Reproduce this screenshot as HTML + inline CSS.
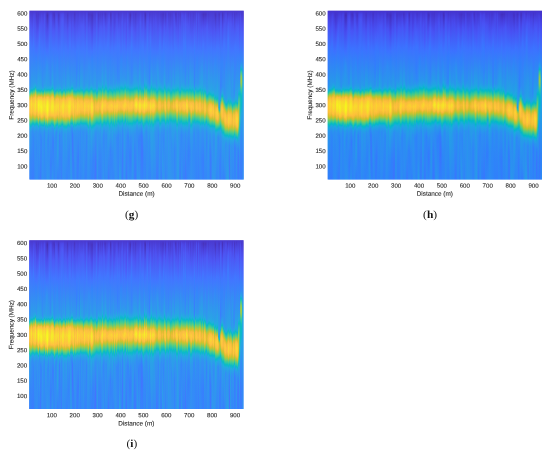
<!DOCTYPE html>
<html lang="en"><head><meta charset="utf-8"><title>Figure</title>
<style>
html,body{margin:0;padding:0;background:#fff;}
body{width:550px;height:455px;overflow:hidden;}
svg{display:block;}
text{text-rendering:geometricPrecision;}
.t{font-family:"Liberation Sans",Arial,Helvetica,sans-serif;font-size:6.1px;fill:#262626;stroke:#262626;stroke-width:.1px;}
.l{font-family:"Liberation Sans",Arial,Helvetica,sans-serif;font-size:6.4px;fill:#262626;stroke:#262626;stroke-width:.1px;}
.c{font-family:"Liberation Serif","Times New Roman",serif;font-size:10.9px;fill:#111;}
.c tspan{font-weight:bold;}
</style></head><body>
<svg width="550" height="455" viewBox="0 0 550 455">
<defs>

<linearGradient id="g0" gradientUnits="userSpaceOnUse" x1="0" y1="0" x2="0" y2="169"><stop offset=".003" stop-color="#4434d0"/><stop offset=".056" stop-color="#4746ea"/><stop offset=".139" stop-color="#465efb"/><stop offset=".240" stop-color="#3678fe"/><stop offset=".393" stop-color="#317dfc"/><stop offset=".459" stop-color="#2c90f0"/><stop offset=".470" stop-color="#22a2e4"/><stop offset=".482" stop-color="#01b9c7"/><stop offset=".494" stop-color="#3dc990"/><stop offset=".506" stop-color="#97ca48"/><stop offset=".512" stop-color="#bdc42f"/><stop offset=".518" stop-color="#d8be28"/><stop offset=".524" stop-color="#eaba31"/><stop offset=".536" stop-color="#febd3c"/><stop offset=".559" stop-color="#fec835"/><stop offset=".589" stop-color="#febf3b"/><stop offset=".601" stop-color="#f7ba3c"/><stop offset=".612" stop-color="#e6bb2d"/><stop offset=".624" stop-color="#cac129"/><stop offset=".630" stop-color="#b7c532"/><stop offset=".648" stop-color="#62cd70"/><stop offset=".672" stop-color="#03bbc2"/><stop offset=".683" stop-color="#19addc"/><stop offset=".713" stop-color="#2a92ee"/><stop offset=".814" stop-color="#2b92ee"/><stop offset=".997" stop-color="#317efb"/></linearGradient>
<linearGradient id="g1" gradientUnits="userSpaceOnUse" x1="0" y1="0" x2="0" y2="169"><stop offset=".003" stop-color="#4434d0"/><stop offset=".074" stop-color="#484df1"/><stop offset=".198" stop-color="#3c72ff"/><stop offset=".441" stop-color="#2994ec"/><stop offset=".459" stop-color="#21a3e3"/><stop offset=".470" stop-color="#05b6ce"/><stop offset=".476" stop-color="#11beb9"/><stop offset=".488" stop-color="#4dcc82"/><stop offset=".500" stop-color="#a5c83d"/><stop offset=".506" stop-color="#c7c12a"/><stop offset=".518" stop-color="#f0ba36"/><stop offset=".530" stop-color="#fec13a"/><stop offset=".553" stop-color="#fdce31"/><stop offset=".601" stop-color="#febf3b"/><stop offset=".618" stop-color="#ebba32"/><stop offset=".630" stop-color="#d0bf27"/><stop offset=".636" stop-color="#bdc32e"/><stop offset=".660" stop-color="#4acb84"/><stop offset=".678" stop-color="#0abdbd"/><stop offset=".683" stop-color="#03b7cc"/><stop offset=".695" stop-color="#1caadf"/><stop offset=".719" stop-color="#2798ea"/><stop offset=".885" stop-color="#2f80fa"/><stop offset=".997" stop-color="#2f81fa"/></linearGradient>
<linearGradient id="g2" gradientUnits="userSpaceOnUse" x1="0" y1="0" x2="0" y2="169"><stop offset=".003" stop-color="#4434ce"/><stop offset=".104" stop-color="#4852f4"/><stop offset=".222" stop-color="#3c72ff"/><stop offset=".447" stop-color="#249ee6"/><stop offset=".459" stop-color="#1da9e0"/><stop offset=".470" stop-color="#01b9c6"/><stop offset=".482" stop-color="#3cc992"/><stop offset=".494" stop-color="#9ec942"/><stop offset=".500" stop-color="#cac129"/><stop offset=".512" stop-color="#fcbc3d"/><stop offset=".530" stop-color="#f9d72d"/><stop offset=".553" stop-color="#f5e327"/><stop offset=".583" stop-color="#f8d92c"/><stop offset=".607" stop-color="#fec438"/><stop offset=".618" stop-color="#f4ba39"/><stop offset=".630" stop-color="#d0bf27"/><stop offset=".636" stop-color="#b6c532"/><stop offset=".654" stop-color="#4dcb82"/><stop offset=".672" stop-color="#02bbc3"/><stop offset=".689" stop-color="#21a3e3"/><stop offset=".719" stop-color="#2d8df2"/><stop offset=".997" stop-color="#327cfc"/></linearGradient>
<linearGradient id="g3" gradientUnits="userSpaceOnUse" x1="0" y1="0" x2="0" y2="169"><stop offset=".003" stop-color="#4434cf"/><stop offset=".115" stop-color="#4853f5"/><stop offset=".222" stop-color="#3b72ff"/><stop offset=".447" stop-color="#259ce7"/><stop offset=".459" stop-color="#1fa6e1"/><stop offset=".470" stop-color="#03b7cc"/><stop offset=".476" stop-color="#14beb8"/><stop offset=".488" stop-color="#4ccb83"/><stop offset=".500" stop-color="#a0c841"/><stop offset=".506" stop-color="#c1c32c"/><stop offset=".512" stop-color="#dabd28"/><stop offset=".524" stop-color="#f6ba3b"/><stop offset=".553" stop-color="#fec834"/><stop offset=".595" stop-color="#fcbc3d"/><stop offset=".618" stop-color="#d5be28"/><stop offset=".630" stop-color="#aac73a"/><stop offset=".648" stop-color="#49cb85"/><stop offset=".666" stop-color="#02bac4"/><stop offset=".683" stop-color="#23a1e4"/><stop offset=".713" stop-color="#2d8af5"/><stop offset=".997" stop-color="#347afd"/></linearGradient>
<linearGradient id="g4" gradientUnits="userSpaceOnUse" x1="0" y1="0" x2="0" y2="169"><stop offset=".003" stop-color="#4434d0"/><stop offset=".033" stop-color="#4744e9"/><stop offset=".080" stop-color="#4854f6"/><stop offset=".192" stop-color="#3a74fe"/><stop offset=".263" stop-color="#347afd"/><stop offset=".429" stop-color="#269ae9"/><stop offset=".453" stop-color="#1aabdd"/><stop offset=".464" stop-color="#03bbc2"/><stop offset=".476" stop-color="#39c895"/><stop offset=".494" stop-color="#afc636"/><stop offset=".500" stop-color="#cec028"/><stop offset=".512" stop-color="#f5ba3a"/><stop offset=".518" stop-color="#febe3c"/><stop offset=".553" stop-color="#fad62d"/><stop offset=".577" stop-color="#fbd32e"/><stop offset=".607" stop-color="#febf3c"/><stop offset=".618" stop-color="#ecba32"/><stop offset=".630" stop-color="#c5c22a"/><stop offset=".636" stop-color="#a8c73b"/><stop offset=".654" stop-color="#3dc991"/><stop offset=".666" stop-color="#0abdbd"/><stop offset=".672" stop-color="#06b5ce"/><stop offset=".678" stop-color="#19addc"/><stop offset=".689" stop-color="#259ce7"/><stop offset=".749" stop-color="#2f82f9"/><stop offset=".997" stop-color="#337bfc"/></linearGradient>
<linearGradient id="g5" gradientUnits="userSpaceOnUse" x1="0" y1="0" x2="0" y2="169"><stop offset=".003" stop-color="#4434cf"/><stop offset=".021" stop-color="#463de0"/><stop offset=".044" stop-color="#4742e6"/><stop offset=".157" stop-color="#475cfa"/><stop offset=".228" stop-color="#3b72ff"/><stop offset=".423" stop-color="#2797eb"/><stop offset=".453" stop-color="#19addc"/><stop offset=".459" stop-color="#07b5d0"/><stop offset=".464" stop-color="#08bcbf"/><stop offset=".476" stop-color="#3cc991"/><stop offset=".494" stop-color="#b2c635"/><stop offset=".500" stop-color="#d0bf27"/><stop offset=".512" stop-color="#f5ba3b"/><stop offset=".518" stop-color="#febe3c"/><stop offset=".559" stop-color="#f8d92c"/><stop offset=".589" stop-color="#fbd32f"/><stop offset=".612" stop-color="#febf3b"/><stop offset=".624" stop-color="#eaba31"/><stop offset=".636" stop-color="#c0c32d"/><stop offset=".654" stop-color="#55cc7b"/><stop offset=".672" stop-color="#08bcbf"/><stop offset=".678" stop-color="#06b5ce"/><stop offset=".689" stop-color="#1ea7e1"/><stop offset=".725" stop-color="#2b90f0"/><stop offset=".997" stop-color="#2e85f8"/></linearGradient>
<linearGradient id="g6" gradientUnits="userSpaceOnUse" x1="0" y1="0" x2="0" y2="169"><stop offset=".003" stop-color="#4434ce"/><stop offset=".092" stop-color="#484ff2"/><stop offset=".234" stop-color="#3d70ff"/><stop offset=".275" stop-color="#317dfc"/><stop offset=".423" stop-color="#2798ea"/><stop offset=".441" stop-color="#1da8e0"/><stop offset=".453" stop-color="#01b8c8"/><stop offset=".470" stop-color="#4fcc80"/><stop offset=".482" stop-color="#a6c83d"/><stop offset=".488" stop-color="#c9c129"/><stop offset=".500" stop-color="#f7ba3c"/><stop offset=".530" stop-color="#f7dd2a"/><stop offset=".553" stop-color="#f5e626"/><stop offset=".577" stop-color="#f6e128"/><stop offset=".612" stop-color="#febf3c"/><stop offset=".618" stop-color="#f5ba3a"/><stop offset=".630" stop-color="#cdc028"/><stop offset=".636" stop-color="#afc637"/><stop offset=".654" stop-color="#3eca90"/><stop offset=".666" stop-color="#0bbdbd"/><stop offset=".672" stop-color="#05b6ce"/><stop offset=".683" stop-color="#20a5e2"/><stop offset=".719" stop-color="#2d8cf3"/><stop offset=".997" stop-color="#2d88f6"/></linearGradient>
<linearGradient id="g7" gradientUnits="userSpaceOnUse" x1="0" y1="0" x2="0" y2="169"><stop offset=".003" stop-color="#4434ce"/><stop offset=".027" stop-color="#4331c6"/><stop offset=".115" stop-color="#484aee"/><stop offset=".240" stop-color="#3c72ff"/><stop offset=".293" stop-color="#2f81fa"/><stop offset=".435" stop-color="#2a93ee"/><stop offset=".459" stop-color="#1fa6e1"/><stop offset=".470" stop-color="#01b9c7"/><stop offset=".488" stop-color="#56cc7b"/><stop offset=".500" stop-color="#a6c83d"/><stop offset=".506" stop-color="#c4c22b"/><stop offset=".518" stop-color="#eabb30"/><stop offset=".536" stop-color="#fec03b"/><stop offset=".565" stop-color="#fec834"/><stop offset=".595" stop-color="#febd3c"/><stop offset=".612" stop-color="#e7bb2e"/><stop offset=".624" stop-color="#c6c22a"/><stop offset=".630" stop-color="#acc738"/><stop offset=".642" stop-color="#69cd6a"/><stop offset=".648" stop-color="#47cb87"/><stop offset=".666" stop-color="#01bac6"/><stop offset=".683" stop-color="#21a2e4"/><stop offset=".713" stop-color="#2c90f0"/><stop offset=".820" stop-color="#2e84f8"/><stop offset=".997" stop-color="#2d8df2"/></linearGradient>
<linearGradient id="g8" gradientUnits="userSpaceOnUse" x1="0" y1="0" x2="0" y2="169"><stop offset=".003" stop-color="#4434ce"/><stop offset=".068" stop-color="#463bde"/><stop offset=".139" stop-color="#4853f5"/><stop offset=".222" stop-color="#3e6fff"/><stop offset=".447" stop-color="#21a3e3"/><stop offset=".459" stop-color="#1da9e0"/><stop offset=".470" stop-color="#05b6ce"/><stop offset=".476" stop-color="#0dbdbc"/><stop offset=".488" stop-color="#4bcb84"/><stop offset=".500" stop-color="#afc637"/><stop offset=".506" stop-color="#d6be28"/><stop offset=".518" stop-color="#febf3b"/><stop offset=".536" stop-color="#f8d92c"/><stop offset=".553" stop-color="#f5e327"/><stop offset=".583" stop-color="#f7dc2a"/><stop offset=".612" stop-color="#fec13a"/><stop offset=".618" stop-color="#f8ba3d"/><stop offset=".624" stop-color="#eabb30"/><stop offset=".630" stop-color="#d6be28"/><stop offset=".636" stop-color="#bbc430"/><stop offset=".654" stop-color="#4ccb83"/><stop offset=".672" stop-color="#01bac5"/><stop offset=".683" stop-color="#1caadf"/><stop offset=".713" stop-color="#2b92ee"/><stop offset=".997" stop-color="#2d88f6"/></linearGradient>
<linearGradient id="g9" gradientUnits="userSpaceOnUse" x1="0" y1="0" x2="0" y2="169"><stop offset=".003" stop-color="#4434cf"/><stop offset=".021" stop-color="#4332ca"/><stop offset=".127" stop-color="#4756f7"/><stop offset=".210" stop-color="#3c71ff"/><stop offset=".441" stop-color="#22a2e4"/><stop offset=".459" stop-color="#1aacdd"/><stop offset=".470" stop-color="#01b9c7"/><stop offset=".482" stop-color="#37c897"/><stop offset=".494" stop-color="#9bc944"/><stop offset=".500" stop-color="#cdc028"/><stop offset=".506" stop-color="#f0ba36"/><stop offset=".512" stop-color="#fec338"/><stop offset=".536" stop-color="#f5ee21"/><stop offset=".559" stop-color="#f8f818"/><stop offset=".589" stop-color="#f5ec22"/><stop offset=".630" stop-color="#fbbc3d"/><stop offset=".642" stop-color="#d5be28"/><stop offset=".648" stop-color="#b8c431"/><stop offset=".666" stop-color="#46cb88"/><stop offset=".683" stop-color="#01b8c9"/><stop offset=".695" stop-color="#1ea7e1"/><stop offset=".725" stop-color="#2d8cf3"/><stop offset=".997" stop-color="#2f80fa"/></linearGradient>
<linearGradient id="g10" gradientUnits="userSpaceOnUse" x1="0" y1="0" x2="0" y2="169"><stop offset=".003" stop-color="#4434cf"/><stop offset=".086" stop-color="#4756f7"/><stop offset=".169" stop-color="#3e6fff"/><stop offset=".299" stop-color="#3080fb"/><stop offset=".453" stop-color="#22a2e4"/><stop offset=".464" stop-color="#18addb"/><stop offset=".470" stop-color="#06b5cf"/><stop offset=".476" stop-color="#0dbdbb"/><stop offset=".488" stop-color="#50cc80"/><stop offset=".500" stop-color="#b8c431"/><stop offset=".506" stop-color="#dfbc2a"/><stop offset=".512" stop-color="#f8ba3d"/><stop offset=".530" stop-color="#f8d92c"/><stop offset=".553" stop-color="#f5e924"/><stop offset=".577" stop-color="#f5e327"/><stop offset=".607" stop-color="#fec438"/><stop offset=".612" stop-color="#fbbc3d"/><stop offset=".618" stop-color="#edba33"/><stop offset=".624" stop-color="#d6be28"/><stop offset=".630" stop-color="#b8c431"/><stop offset=".648" stop-color="#3dc990"/><stop offset=".660" stop-color="#03bbc2"/><stop offset=".672" stop-color="#1ea7e1"/><stop offset=".701" stop-color="#2d8af5"/><stop offset=".843" stop-color="#2b91ef"/><stop offset=".997" stop-color="#317efb"/></linearGradient>
<linearGradient id="g11" gradientUnits="userSpaceOnUse" x1="0" y1="0" x2="0" y2="169"><stop offset=".003" stop-color="#4434cf"/><stop offset=".086" stop-color="#484ff2"/><stop offset=".246" stop-color="#3777fe"/><stop offset=".453" stop-color="#22a2e4"/><stop offset=".464" stop-color="#19acdc"/><stop offset=".470" stop-color="#09b4d1"/><stop offset=".476" stop-color="#09bcbe"/><stop offset=".488" stop-color="#4bcb84"/><stop offset=".500" stop-color="#b6c532"/><stop offset=".506" stop-color="#debc2a"/><stop offset=".512" stop-color="#f9ba3d"/><stop offset=".536" stop-color="#f5e327"/><stop offset=".565" stop-color="#f6f11f"/><stop offset=".595" stop-color="#f5e526"/><stop offset=".624" stop-color="#febf3b"/><stop offset=".630" stop-color="#f2ba37"/><stop offset=".636" stop-color="#dcbd29"/><stop offset=".642" stop-color="#bdc32e"/><stop offset=".660" stop-color="#42ca8b"/><stop offset=".672" stop-color="#0cbdbc"/><stop offset=".678" stop-color="#06b5cf"/><stop offset=".689" stop-color="#21a3e3"/><stop offset=".737" stop-color="#2e83f9"/><stop offset=".997" stop-color="#3974fe"/></linearGradient>
<linearGradient id="g12" gradientUnits="userSpaceOnUse" x1="0" y1="0" x2="0" y2="169"><stop offset=".003" stop-color="#4434cf"/><stop offset=".027" stop-color="#4741e5"/><stop offset=".062" stop-color="#484cf0"/><stop offset=".222" stop-color="#3c71ff"/><stop offset=".441" stop-color="#2698ea"/><stop offset=".459" stop-color="#1da9e0"/><stop offset=".470" stop-color="#02bac3"/><stop offset=".482" stop-color="#3eca8f"/><stop offset=".494" stop-color="#9dc943"/><stop offset=".500" stop-color="#c8c129"/><stop offset=".512" stop-color="#fbbc3d"/><stop offset=".536" stop-color="#f5e228"/><stop offset=".571" stop-color="#f6f31d"/><stop offset=".595" stop-color="#f5eb23"/><stop offset=".624" stop-color="#fec636"/><stop offset=".630" stop-color="#fabc3d"/><stop offset=".642" stop-color="#c8c129"/><stop offset=".648" stop-color="#a0c841"/><stop offset=".660" stop-color="#45cb89"/><stop offset=".672" stop-color="#0cbdbc"/><stop offset=".678" stop-color="#06b5cf"/><stop offset=".683" stop-color="#19acdc"/><stop offset=".695" stop-color="#259ce7"/><stop offset=".766" stop-color="#2f81fa"/><stop offset=".997" stop-color="#2d8af5"/></linearGradient>
<linearGradient id="g13" gradientUnits="userSpaceOnUse" x1="0" y1="0" x2="0" y2="169"><stop offset=".003" stop-color="#4434cf"/><stop offset=".074" stop-color="#484aee"/><stop offset=".228" stop-color="#3b72ff"/><stop offset=".317" stop-color="#2e83f9"/><stop offset=".447" stop-color="#2d8df2"/><stop offset=".464" stop-color="#23a0e5"/><stop offset=".470" stop-color="#1aacdd"/><stop offset=".476" stop-color="#02b7cb"/><stop offset=".488" stop-color="#39c994"/><stop offset=".506" stop-color="#c1c32c"/><stop offset=".512" stop-color="#dfbc2a"/><stop offset=".518" stop-color="#f4ba39"/><stop offset=".524" stop-color="#febf3b"/><stop offset=".541" stop-color="#fad62d"/><stop offset=".571" stop-color="#f5e228"/><stop offset=".589" stop-color="#f6de29"/><stop offset=".618" stop-color="#fec338"/><stop offset=".624" stop-color="#fbbc3d"/><stop offset=".630" stop-color="#ecba32"/><stop offset=".636" stop-color="#d6be28"/><stop offset=".642" stop-color="#b9c431"/><stop offset=".660" stop-color="#44cb89"/><stop offset=".678" stop-color="#01b8c9"/><stop offset=".689" stop-color="#1ca9df"/><stop offset=".725" stop-color="#2994ed"/><stop offset=".997" stop-color="#2d8df2"/></linearGradient>
<linearGradient id="g14" gradientUnits="userSpaceOnUse" x1="0" y1="0" x2="0" y2="169"><stop offset=".003" stop-color="#4434cf"/><stop offset=".033" stop-color="#473ee2"/><stop offset=".092" stop-color="#484ff2"/><stop offset=".240" stop-color="#3b72ff"/><stop offset=".453" stop-color="#259ce7"/><stop offset=".464" stop-color="#1ea8e1"/><stop offset=".476" stop-color="#01b9c6"/><stop offset=".488" stop-color="#3dc990"/><stop offset=".500" stop-color="#9fc941"/><stop offset=".506" stop-color="#c9c129"/><stop offset=".518" stop-color="#fabb3d"/><stop offset=".536" stop-color="#fbd32e"/><stop offset=".559" stop-color="#f6df29"/><stop offset=".589" stop-color="#f9d72d"/><stop offset=".612" stop-color="#fec239"/><stop offset=".624" stop-color="#f0ba36"/><stop offset=".636" stop-color="#c9c129"/><stop offset=".642" stop-color="#acc739"/><stop offset=".660" stop-color="#3fca8e"/><stop offset=".678" stop-color="#02b7cb"/><stop offset=".689" stop-color="#1ea7e1"/><stop offset=".713" stop-color="#2c90f0"/><stop offset=".749" stop-color="#2d88f6"/><stop offset=".997" stop-color="#2d89f5"/></linearGradient>
<linearGradient id="g15" gradientUnits="userSpaceOnUse" x1="0" y1="0" x2="0" y2="169"><stop offset=".003" stop-color="#4435d0"/><stop offset=".021" stop-color="#4744e8"/><stop offset=".050" stop-color="#484df1"/><stop offset=".246" stop-color="#3777fe"/><stop offset=".429" stop-color="#2995ec"/><stop offset=".453" stop-color="#1caadf"/><stop offset=".464" stop-color="#05bbc1"/><stop offset=".476" stop-color="#3fca8e"/><stop offset=".488" stop-color="#98c946"/><stop offset=".494" stop-color="#c0c32d"/><stop offset=".500" stop-color="#debc2a"/><stop offset=".506" stop-color="#f3ba39"/><stop offset=".512" stop-color="#febf3b"/><stop offset=".536" stop-color="#f7db2a"/><stop offset=".559" stop-color="#f5e427"/><stop offset=".589" stop-color="#f9d82c"/><stop offset=".612" stop-color="#febe3c"/><stop offset=".630" stop-color="#cbc129"/><stop offset=".636" stop-color="#abc739"/><stop offset=".648" stop-color="#5bcc76"/><stop offset=".666" stop-color="#03bbc2"/><stop offset=".683" stop-color="#249fe5"/><stop offset=".719" stop-color="#2e85f8"/><stop offset=".997" stop-color="#2e87f7"/></linearGradient>
<linearGradient id="g16" gradientUnits="userSpaceOnUse" x1="0" y1="0" x2="0" y2="169"><stop offset=".003" stop-color="#4434cf"/><stop offset=".133" stop-color="#4850f3"/><stop offset=".234" stop-color="#3d70ff"/><stop offset=".299" stop-color="#2e83f9"/><stop offset=".447" stop-color="#259de7"/><stop offset=".464" stop-color="#17aedb"/><stop offset=".470" stop-color="#04b6cd"/><stop offset=".476" stop-color="#0fbeba"/><stop offset=".488" stop-color="#47cb87"/><stop offset=".500" stop-color="#9fc941"/><stop offset=".506" stop-color="#c4c22a"/><stop offset=".512" stop-color="#e0bc2a"/><stop offset=".524" stop-color="#febe3c"/><stop offset=".565" stop-color="#f6df29"/><stop offset=".595" stop-color="#f8da2b"/><stop offset=".624" stop-color="#fec13a"/><stop offset=".630" stop-color="#f9bb3d"/><stop offset=".636" stop-color="#eaba31"/><stop offset=".642" stop-color="#d7be28"/><stop offset=".648" stop-color="#bcc42f"/><stop offset=".666" stop-color="#4fcc80"/><stop offset=".683" stop-color="#05bbc1"/><stop offset=".695" stop-color="#17aeda"/><stop offset=".719" stop-color="#259be8"/><stop offset=".997" stop-color="#2e85f8"/></linearGradient>
<linearGradient id="g17" gradientUnits="userSpaceOnUse" x1="0" y1="0" x2="0" y2="169"><stop offset=".003" stop-color="#4434ce"/><stop offset=".027" stop-color="#422fc0"/><stop offset=".104" stop-color="#4745ea"/><stop offset=".240" stop-color="#3d70ff"/><stop offset=".328" stop-color="#2c8ff1"/><stop offset=".441" stop-color="#249ee6"/><stop offset=".459" stop-color="#18addb"/><stop offset=".464" stop-color="#06b5cf"/><stop offset=".470" stop-color="#0bbdbd"/><stop offset=".482" stop-color="#46cb88"/><stop offset=".494" stop-color="#a5c83d"/><stop offset=".500" stop-color="#cec028"/><stop offset=".512" stop-color="#febd3c"/><stop offset=".536" stop-color="#f5e427"/><stop offset=".565" stop-color="#f7f41c"/><stop offset=".595" stop-color="#f5ed22"/><stop offset=".624" stop-color="#fec736"/><stop offset=".630" stop-color="#fbbc3d"/><stop offset=".642" stop-color="#c6c22a"/><stop offset=".648" stop-color="#9cc943"/><stop offset=".660" stop-color="#41ca8c"/><stop offset=".672" stop-color="#0abdbd"/><stop offset=".678" stop-color="#06b5cf"/><stop offset=".689" stop-color="#1ea7e1"/><stop offset=".719" stop-color="#2798ea"/><stop offset=".867" stop-color="#2d8bf3"/><stop offset=".997" stop-color="#2c8ff0"/></linearGradient>
<linearGradient id="g18" gradientUnits="userSpaceOnUse" x1="0" y1="0" x2="0" y2="169"><stop offset=".003" stop-color="#4433cd"/><stop offset=".027" stop-color="#3f28ad"/><stop offset=".121" stop-color="#4849ed"/><stop offset=".240" stop-color="#3d70ff"/><stop offset=".328" stop-color="#2c8ef1"/><stop offset=".441" stop-color="#2798ea"/><stop offset=".459" stop-color="#1da8e0"/><stop offset=".470" stop-color="#02bac5"/><stop offset=".482" stop-color="#3cc991"/><stop offset=".494" stop-color="#9ec943"/><stop offset=".500" stop-color="#cac129"/><stop offset=".512" stop-color="#febe3c"/><stop offset=".530" stop-color="#f5e128"/><stop offset=".547" stop-color="#f7f41c"/><stop offset=".589" stop-color="#f9fb15"/><stop offset=".618" stop-color="#f5e526"/><stop offset=".642" stop-color="#f9bb3d"/><stop offset=".648" stop-color="#e3bc2c"/><stop offset=".654" stop-color="#c4c22b"/><stop offset=".672" stop-color="#43ca8a"/><stop offset=".683" stop-color="#0dbdbb"/><stop offset=".689" stop-color="#05b6cd"/><stop offset=".695" stop-color="#18aedb"/><stop offset=".707" stop-color="#249ee6"/><stop offset=".766" stop-color="#2e84f8"/><stop offset=".997" stop-color="#2a93ee"/></linearGradient>
<linearGradient id="g19" gradientUnits="userSpaceOnUse" x1="0" y1="0" x2="0" y2="169"><stop offset=".003" stop-color="#4434ce"/><stop offset=".115" stop-color="#4851f4"/><stop offset=".234" stop-color="#3c72ff"/><stop offset=".441" stop-color="#259ce7"/><stop offset=".459" stop-color="#16afd9"/><stop offset=".464" stop-color="#03b7cb"/><stop offset=".470" stop-color="#13beb9"/><stop offset=".482" stop-color="#4acb85"/><stop offset=".494" stop-color="#a2c83f"/><stop offset=".500" stop-color="#c7c129"/><stop offset=".512" stop-color="#f7ba3c"/><stop offset=".536" stop-color="#f9d72c"/><stop offset=".559" stop-color="#f5e427"/><stop offset=".589" stop-color="#f7dd2a"/><stop offset=".618" stop-color="#febf3c"/><stop offset=".624" stop-color="#f4ba39"/><stop offset=".636" stop-color="#c9c129"/><stop offset=".642" stop-color="#a9c73b"/><stop offset=".654" stop-color="#57cc7a"/><stop offset=".672" stop-color="#02bac5"/><stop offset=".689" stop-color="#249fe6"/><stop offset=".707" stop-color="#2d8df2"/><stop offset=".737" stop-color="#2e84f8"/><stop offset=".997" stop-color="#2c8ef2"/></linearGradient>
<linearGradient id="g20" gradientUnits="userSpaceOnUse" x1="0" y1="0" x2="0" y2="169"><stop offset=".003" stop-color="#4434d0"/><stop offset=".033" stop-color="#4742e6"/><stop offset=".074" stop-color="#484ff2"/><stop offset=".204" stop-color="#3c72ff"/><stop offset=".435" stop-color="#2a93ed"/><stop offset=".459" stop-color="#1fa6e2"/><stop offset=".470" stop-color="#01b8c9"/><stop offset=".488" stop-color="#52cc7e"/><stop offset=".500" stop-color="#a7c73c"/><stop offset=".506" stop-color="#c7c129"/><stop offset=".512" stop-color="#e0bc2a"/><stop offset=".524" stop-color="#fcbc3d"/><stop offset=".559" stop-color="#fbd42e"/><stop offset=".612" stop-color="#febf3b"/><stop offset=".618" stop-color="#f9bb3d"/><stop offset=".630" stop-color="#e1bc2b"/><stop offset=".642" stop-color="#b5c533"/><stop offset=".660" stop-color="#50cc80"/><stop offset=".678" stop-color="#07bcc0"/><stop offset=".683" stop-color="#06b5ce"/><stop offset=".695" stop-color="#1ea8e0"/><stop offset=".725" stop-color="#2797eb"/><stop offset=".896" stop-color="#2d88f6"/><stop offset=".997" stop-color="#2d8bf4"/></linearGradient>
<linearGradient id="g21" gradientUnits="userSpaceOnUse" x1="0" y1="0" x2="0" y2="169"><stop offset=".003" stop-color="#4435d0"/><stop offset=".027" stop-color="#4847ec"/><stop offset=".062" stop-color="#4853f5"/><stop offset=".269" stop-color="#337bfd"/><stop offset=".429" stop-color="#2d8af4"/><stop offset=".459" stop-color="#1caadf"/><stop offset=".464" stop-color="#09b4d1"/><stop offset=".470" stop-color="#09bdbe"/><stop offset=".482" stop-color="#40ca8d"/><stop offset=".500" stop-color="#b2c534"/><stop offset=".506" stop-color="#cfc028"/><stop offset=".518" stop-color="#f3ba38"/><stop offset=".530" stop-color="#fec339"/><stop offset=".571" stop-color="#f8d92c"/><stop offset=".595" stop-color="#fbd32f"/><stop offset=".618" stop-color="#febd3c"/><stop offset=".636" stop-color="#cec028"/><stop offset=".642" stop-color="#b1c635"/><stop offset=".660" stop-color="#40ca8d"/><stop offset=".672" stop-color="#0ebdbb"/><stop offset=".678" stop-color="#04b6cd"/><stop offset=".689" stop-color="#1fa6e2"/><stop offset=".719" stop-color="#2c8ff0"/><stop offset=".914" stop-color="#3479fd"/><stop offset=".997" stop-color="#3080fb"/></linearGradient>
<linearGradient id="g22" gradientUnits="userSpaceOnUse" x1="0" y1="0" x2="0" y2="169"><stop offset=".003" stop-color="#4434d0"/><stop offset=".027" stop-color="#4740e4"/><stop offset=".068" stop-color="#484ff2"/><stop offset=".222" stop-color="#3b72ff"/><stop offset=".441" stop-color="#249ee6"/><stop offset=".453" stop-color="#1baade"/><stop offset=".464" stop-color="#02bac5"/><stop offset=".482" stop-color="#5acc77"/><stop offset=".494" stop-color="#b3c534"/><stop offset=".500" stop-color="#d5be28"/><stop offset=".512" stop-color="#fdbd3d"/><stop offset=".536" stop-color="#f6de29"/><stop offset=".565" stop-color="#f5ec22"/><stop offset=".589" stop-color="#f5e626"/><stop offset=".618" stop-color="#fec239"/><stop offset=".624" stop-color="#f5ba3b"/><stop offset=".630" stop-color="#dfbc2a"/><stop offset=".636" stop-color="#c0c32d"/><stop offset=".654" stop-color="#3eca90"/><stop offset=".666" stop-color="#06bcc0"/><stop offset=".678" stop-color="#1babde"/><stop offset=".719" stop-color="#2b90f0"/><stop offset=".896" stop-color="#2f80fa"/><stop offset=".997" stop-color="#2d89f5"/></linearGradient>
<linearGradient id="g23" gradientUnits="userSpaceOnUse" x1="0" y1="0" x2="0" y2="169"><stop offset=".003" stop-color="#4434ce"/><stop offset=".021" stop-color="#4433cc"/><stop offset=".121" stop-color="#4854f6"/><stop offset=".228" stop-color="#3b72ff"/><stop offset=".429" stop-color="#20a5e3"/><stop offset=".447" stop-color="#18aedb"/><stop offset=".459" stop-color="#01b9c8"/><stop offset=".476" stop-color="#44cb8a"/><stop offset=".494" stop-color="#c1c32c"/><stop offset=".500" stop-color="#dfbc2a"/><stop offset=".506" stop-color="#f5ba3a"/><stop offset=".512" stop-color="#fec13a"/><stop offset=".530" stop-color="#f7db2b"/><stop offset=".559" stop-color="#f5eb23"/><stop offset=".589" stop-color="#f5e327"/><stop offset=".618" stop-color="#fec03a"/><stop offset=".624" stop-color="#f5ba3a"/><stop offset=".636" stop-color="#c6c22a"/><stop offset=".642" stop-color="#a1c840"/><stop offset=".654" stop-color="#4bcb84"/><stop offset=".672" stop-color="#02b7cb"/><stop offset=".683" stop-color="#20a5e2"/><stop offset=".701" stop-color="#2b91ef"/><stop offset=".778" stop-color="#3678fd"/><stop offset=".997" stop-color="#2895ec"/></linearGradient>
<linearGradient id="g24" gradientUnits="userSpaceOnUse" x1="0" y1="0" x2="0" y2="169"><stop offset=".003" stop-color="#4434ce"/><stop offset=".021" stop-color="#4230c4"/><stop offset=".062" stop-color="#473fe2"/><stop offset=".115" stop-color="#4854f6"/><stop offset=".222" stop-color="#3c71ff"/><stop offset=".435" stop-color="#2a93ee"/><stop offset=".459" stop-color="#1ea8e1"/><stop offset=".470" stop-color="#01bac5"/><stop offset=".482" stop-color="#38c896"/><stop offset=".500" stop-color="#b4c534"/><stop offset=".506" stop-color="#d4bf28"/><stop offset=".518" stop-color="#fbbc3d"/><stop offset=".541" stop-color="#f9d82c"/><stop offset=".565" stop-color="#f5e327"/><stop offset=".595" stop-color="#f7db2b"/><stop offset=".618" stop-color="#fec438"/><stop offset=".630" stop-color="#eeba34"/><stop offset=".636" stop-color="#dbbd28"/><stop offset=".642" stop-color="#c0c32d"/><stop offset=".660" stop-color="#4dcc82"/><stop offset=".678" stop-color="#01b8c8"/><stop offset=".689" stop-color="#1fa6e1"/><stop offset=".707" stop-color="#2b90ef"/><stop offset=".772" stop-color="#317dfc"/><stop offset=".997" stop-color="#2e85f8"/></linearGradient>
<linearGradient id="g25" gradientUnits="userSpaceOnUse" x1="0" y1="0" x2="0" y2="169"><stop offset=".003" stop-color="#4434cf"/><stop offset=".027" stop-color="#422fc1"/><stop offset=".121" stop-color="#4853f5"/><stop offset=".228" stop-color="#3c72ff"/><stop offset=".305" stop-color="#2e83f9"/><stop offset=".459" stop-color="#2b91ef"/><stop offset=".476" stop-color="#20a4e3"/><stop offset=".488" stop-color="#01b9c7"/><stop offset=".500" stop-color="#3ac993"/><stop offset=".518" stop-color="#b5c533"/><stop offset=".524" stop-color="#d1bf27"/><stop offset=".536" stop-color="#f4ba39"/><stop offset=".571" stop-color="#fdce31"/><stop offset=".618" stop-color="#fec03a"/><stop offset=".630" stop-color="#f5ba3a"/><stop offset=".648" stop-color="#c8c129"/><stop offset=".660" stop-color="#91ca4c"/><stop offset=".678" stop-color="#36c898"/><stop offset=".689" stop-color="#0cbdbc"/><stop offset=".695" stop-color="#02b7cb"/><stop offset=".707" stop-color="#1babde"/><stop offset=".743" stop-color="#2798ea"/><stop offset=".997" stop-color="#2f81fa"/></linearGradient>
<linearGradient id="g26" gradientUnits="userSpaceOnUse" x1="0" y1="0" x2="0" y2="169"><stop offset=".003" stop-color="#4434d0"/><stop offset=".021" stop-color="#4740e4"/><stop offset=".062" stop-color="#484df1"/><stop offset=".222" stop-color="#3b72ff"/><stop offset=".441" stop-color="#2896ec"/><stop offset=".464" stop-color="#1baade"/><stop offset=".476" stop-color="#04bbc2"/><stop offset=".488" stop-color="#3cc991"/><stop offset=".506" stop-color="#b8c431"/><stop offset=".512" stop-color="#d6be28"/><stop offset=".524" stop-color="#fabb3d"/><stop offset=".565" stop-color="#f8d92b"/><stop offset=".589" stop-color="#fad52d"/><stop offset=".618" stop-color="#febe3c"/><stop offset=".630" stop-color="#e8bb2f"/><stop offset=".642" stop-color="#bdc32e"/><stop offset=".660" stop-color="#52cc7e"/><stop offset=".678" stop-color="#02bbc3"/><stop offset=".695" stop-color="#23a1e4"/><stop offset=".719" stop-color="#2d8af4"/><stop offset=".749" stop-color="#2e83f9"/><stop offset=".997" stop-color="#2d8cf3"/></linearGradient>
<linearGradient id="g27" gradientUnits="userSpaceOnUse" x1="0" y1="0" x2="0" y2="169"><stop offset=".003" stop-color="#4434cf"/><stop offset=".038" stop-color="#4745e9"/><stop offset=".080" stop-color="#4853f5"/><stop offset=".228" stop-color="#3c71ff"/><stop offset=".328" stop-color="#2d8af5"/><stop offset=".435" stop-color="#2995ec"/><stop offset=".459" stop-color="#20a4e3"/><stop offset=".470" stop-color="#05b6ce"/><stop offset=".476" stop-color="#0fbebb"/><stop offset=".488" stop-color="#48cb86"/><stop offset=".500" stop-color="#a0c841"/><stop offset=".506" stop-color="#c5c22a"/><stop offset=".512" stop-color="#e0bc2a"/><stop offset=".524" stop-color="#febe3c"/><stop offset=".559" stop-color="#f8db2b"/><stop offset=".583" stop-color="#f9d82c"/><stop offset=".612" stop-color="#fec239"/><stop offset=".624" stop-color="#efba35"/><stop offset=".636" stop-color="#c9c129"/><stop offset=".642" stop-color="#abc739"/><stop offset=".654" stop-color="#60cd72"/><stop offset=".672" stop-color="#0abdbd"/><stop offset=".678" stop-color="#07b5cf"/><stop offset=".683" stop-color="#1aacdd"/><stop offset=".719" stop-color="#2d88f6"/><stop offset=".873" stop-color="#2c8ff1"/><stop offset=".997" stop-color="#2d87f6"/></linearGradient>
<linearGradient id="g28" gradientUnits="userSpaceOnUse" x1="0" y1="0" x2="0" y2="169"><stop offset=".003" stop-color="#4434cf"/><stop offset=".092" stop-color="#4850f3"/><stop offset=".228" stop-color="#3d71ff"/><stop offset=".299" stop-color="#2e83f9"/><stop offset=".435" stop-color="#2699e9"/><stop offset=".459" stop-color="#19acdc"/><stop offset=".470" stop-color="#07bcc0"/><stop offset=".482" stop-color="#3dc990"/><stop offset=".500" stop-color="#b5c533"/><stop offset=".506" stop-color="#d3bf27"/><stop offset=".518" stop-color="#f7ba3c"/><stop offset=".565" stop-color="#f9d72d"/><stop offset=".612" stop-color="#fcbc3d"/><stop offset=".630" stop-color="#cdc028"/><stop offset=".636" stop-color="#b0c636"/><stop offset=".654" stop-color="#3fca8e"/><stop offset=".666" stop-color="#0ebdbb"/><stop offset=".672" stop-color="#03b7cc"/><stop offset=".683" stop-color="#1da8e0"/><stop offset=".707" stop-color="#2699e9"/><stop offset=".843" stop-color="#249ee6"/><stop offset=".997" stop-color="#3579fd"/></linearGradient>
<linearGradient id="g29" gradientUnits="userSpaceOnUse" x1="0" y1="0" x2="0" y2="169"><stop offset=".003" stop-color="#4434ce"/><stop offset=".027" stop-color="#422ebf"/><stop offset=".115" stop-color="#484df1"/><stop offset=".234" stop-color="#3c71ff"/><stop offset=".453" stop-color="#269ae9"/><stop offset=".470" stop-color="#17aeda"/><stop offset=".476" stop-color="#01b8ca"/><stop offset=".488" stop-color="#35c79a"/><stop offset=".506" stop-color="#b8c431"/><stop offset=".512" stop-color="#d9bd28"/><stop offset=".524" stop-color="#febd3c"/><stop offset=".559" stop-color="#f7dc2a"/><stop offset=".589" stop-color="#f9d72d"/><stop offset=".618" stop-color="#fec239"/><stop offset=".630" stop-color="#f2ba38"/><stop offset=".642" stop-color="#d1bf27"/><stop offset=".648" stop-color="#b8c431"/><stop offset=".672" stop-color="#37c897"/><stop offset=".683" stop-color="#0abdbd"/><stop offset=".689" stop-color="#04b6cc"/><stop offset=".701" stop-color="#1da9e0"/><stop offset=".737" stop-color="#2995ec"/><stop offset=".997" stop-color="#2f82fa"/></linearGradient>
<linearGradient id="g30" gradientUnits="userSpaceOnUse" x1="0" y1="0" x2="0" y2="169"><stop offset=".003" stop-color="#4434d0"/><stop offset=".074" stop-color="#4848ec"/><stop offset=".222" stop-color="#3c71ff"/><stop offset=".423" stop-color="#2d8df2"/><stop offset=".459" stop-color="#1aacdd"/><stop offset=".464" stop-color="#08b4d1"/><stop offset=".470" stop-color="#06bcc0"/><stop offset=".488" stop-color="#54cc7c"/><stop offset=".506" stop-color="#b5c533"/><stop offset=".518" stop-color="#dbbd29"/><stop offset=".536" stop-color="#f7ba3c"/><stop offset=".547" stop-color="#febd3c"/><stop offset=".589" stop-color="#febd3c"/><stop offset=".618" stop-color="#e5bb2d"/><stop offset=".636" stop-color="#bcc42f"/><stop offset=".660" stop-color="#50cc7f"/><stop offset=".678" stop-color="#09bcbe"/><stop offset=".683" stop-color="#07b5cf"/><stop offset=".689" stop-color="#1aacdd"/><stop offset=".707" stop-color="#2c8ff1"/><stop offset=".737" stop-color="#3776fe"/><stop offset=".997" stop-color="#2e85f8"/></linearGradient>
<linearGradient id="g31" gradientUnits="userSpaceOnUse" x1="0" y1="0" x2="0" y2="169"><stop offset=".003" stop-color="#4434d0"/><stop offset=".021" stop-color="#4742e6"/><stop offset=".068" stop-color="#4850f3"/><stop offset=".228" stop-color="#3d71ff"/><stop offset=".293" stop-color="#2f81fa"/><stop offset=".441" stop-color="#2798ea"/><stop offset=".459" stop-color="#1ea7e1"/><stop offset=".470" stop-color="#02b7ca"/><stop offset=".488" stop-color="#4dcc82"/><stop offset=".500" stop-color="#a4c83e"/><stop offset=".506" stop-color="#c7c12a"/><stop offset=".512" stop-color="#e1bc2b"/><stop offset=".524" stop-color="#febd3c"/><stop offset=".565" stop-color="#f8da2b"/><stop offset=".589" stop-color="#f9d62d"/><stop offset=".618" stop-color="#fec03a"/><stop offset=".630" stop-color="#eeba34"/><stop offset=".642" stop-color="#c7c12a"/><stop offset=".648" stop-color="#a9c73a"/><stop offset=".666" stop-color="#3dc990"/><stop offset=".678" stop-color="#0ebdbb"/><stop offset=".683" stop-color="#03b7cc"/><stop offset=".689" stop-color="#15afd9"/><stop offset=".701" stop-color="#23a1e4"/><stop offset=".737" stop-color="#2b92ef"/><stop offset=".873" stop-color="#2e83f9"/><stop offset=".997" stop-color="#2e86f7"/></linearGradient>
<linearGradient id="g32" gradientUnits="userSpaceOnUse" x1="0" y1="0" x2="0" y2="169"><stop offset=".003" stop-color="#4434d0"/><stop offset=".021" stop-color="#4743e7"/><stop offset=".050" stop-color="#4850f3"/><stop offset=".204" stop-color="#3c72ff"/><stop offset=".453" stop-color="#2a93ed"/><stop offset=".470" stop-color="#20a5e2"/><stop offset=".482" stop-color="#01b9c7"/><stop offset=".494" stop-color="#3ac993"/><stop offset=".512" stop-color="#bdc32f"/><stop offset=".518" stop-color="#dbbd28"/><stop offset=".530" stop-color="#fcbc3d"/><stop offset=".565" stop-color="#fad62d"/><stop offset=".612" stop-color="#febe3c"/><stop offset=".630" stop-color="#d8be28"/><stop offset=".636" stop-color="#bfc32d"/><stop offset=".642" stop-color="#a0c841"/><stop offset=".654" stop-color="#53cc7d"/><stop offset=".672" stop-color="#02bac5"/><stop offset=".689" stop-color="#249fe6"/><stop offset=".719" stop-color="#2d88f6"/><stop offset=".997" stop-color="#3579fd"/></linearGradient>
<linearGradient id="g33" gradientUnits="userSpaceOnUse" x1="0" y1="0" x2="0" y2="169"><stop offset=".003" stop-color="#4434d0"/><stop offset=".021" stop-color="#4745e9"/><stop offset=".056" stop-color="#4854f6"/><stop offset=".234" stop-color="#3b72ff"/><stop offset=".459" stop-color="#249fe6"/><stop offset=".470" stop-color="#19addc"/><stop offset=".476" stop-color="#05b6ce"/><stop offset=".482" stop-color="#11beb9"/><stop offset=".494" stop-color="#51cc7f"/><stop offset=".506" stop-color="#b1c635"/><stop offset=".512" stop-color="#d6be28"/><stop offset=".524" stop-color="#febe3c"/><stop offset=".547" stop-color="#f7dd2a"/><stop offset=".571" stop-color="#f5e626"/><stop offset=".601" stop-color="#f8da2b"/><stop offset=".618" stop-color="#fec438"/><stop offset=".624" stop-color="#fabb3d"/><stop offset=".636" stop-color="#cfc028"/><stop offset=".642" stop-color="#acc739"/><stop offset=".654" stop-color="#56cc7b"/><stop offset=".672" stop-color="#02bac3"/><stop offset=".689" stop-color="#1fa6e2"/><stop offset=".719" stop-color="#2797eb"/><stop offset=".796" stop-color="#2d8cf3"/><stop offset=".997" stop-color="#2c8ef1"/></linearGradient>
<linearGradient id="g34" gradientUnits="userSpaceOnUse" x1="0" y1="0" x2="0" y2="169"><stop offset=".003" stop-color="#4434cf"/><stop offset=".021" stop-color="#4742e6"/><stop offset=".068" stop-color="#484ff2"/><stop offset=".240" stop-color="#3678fe"/><stop offset=".435" stop-color="#2797eb"/><stop offset=".459" stop-color="#1caadf"/><stop offset=".470" stop-color="#02bac4"/><stop offset=".482" stop-color="#3ac994"/><stop offset=".500" stop-color="#b8c431"/><stop offset=".506" stop-color="#d8be28"/><stop offset=".518" stop-color="#fdbd3d"/><stop offset=".536" stop-color="#fad42e"/><stop offset=".559" stop-color="#f5e228"/><stop offset=".595" stop-color="#f8da2b"/><stop offset=".624" stop-color="#febe3c"/><stop offset=".642" stop-color="#cfc028"/><stop offset=".648" stop-color="#b3c534"/><stop offset=".666" stop-color="#49cb85"/><stop offset=".683" stop-color="#05bbc1"/><stop offset=".695" stop-color="#15afd9"/><stop offset=".719" stop-color="#249ee6"/><stop offset=".997" stop-color="#2e87f7"/></linearGradient>
<linearGradient id="g35" gradientUnits="userSpaceOnUse" x1="0" y1="0" x2="0" y2="169"><stop offset=".003" stop-color="#4434ce"/><stop offset=".121" stop-color="#4756f7"/><stop offset=".222" stop-color="#3c71ff"/><stop offset=".441" stop-color="#249fe6"/><stop offset=".459" stop-color="#1aabdd"/><stop offset=".470" stop-color="#01bac5"/><stop offset=".488" stop-color="#51cc7f"/><stop offset=".506" stop-color="#c3c22b"/><stop offset=".512" stop-color="#dcbd29"/><stop offset=".524" stop-color="#f9bb3d"/><stop offset=".559" stop-color="#fcd12f"/><stop offset=".612" stop-color="#febe3c"/><stop offset=".624" stop-color="#f1ba37"/><stop offset=".636" stop-color="#d6be28"/><stop offset=".642" stop-color="#c2c22c"/><stop offset=".660" stop-color="#6acd6a"/><stop offset=".683" stop-color="#06bcc0"/><stop offset=".689" stop-color="#06b5cf"/><stop offset=".701" stop-color="#1fa6e1"/><stop offset=".731" stop-color="#2b91ef"/><stop offset=".997" stop-color="#2d89f6"/></linearGradient>
<linearGradient id="g36" gradientUnits="userSpaceOnUse" x1="0" y1="0" x2="0" y2="169"><stop offset=".003" stop-color="#4434cf"/><stop offset=".086" stop-color="#484ff2"/><stop offset=".222" stop-color="#3c72ff"/><stop offset=".441" stop-color="#2c8ef2"/><stop offset=".470" stop-color="#1ea8e1"/><stop offset=".482" stop-color="#05bbc1"/><stop offset=".494" stop-color="#41ca8d"/><stop offset=".512" stop-color="#bec32e"/><stop offset=".518" stop-color="#d9bd28"/><stop offset=".530" stop-color="#fabb3d"/><stop offset=".571" stop-color="#fad52d"/><stop offset=".618" stop-color="#fec239"/><stop offset=".630" stop-color="#f4ba39"/><stop offset=".642" stop-color="#d4bf28"/><stop offset=".648" stop-color="#bbc42f"/><stop offset=".666" stop-color="#54cc7d"/><stop offset=".683" stop-color="#08bcbf"/><stop offset=".689" stop-color="#06b5ce"/><stop offset=".701" stop-color="#1ea6e1"/><stop offset=".731" stop-color="#2a93ee"/><stop offset=".997" stop-color="#2e85f8"/></linearGradient>
<linearGradient id="g37" gradientUnits="userSpaceOnUse" x1="0" y1="0" x2="0" y2="169"><stop offset=".003" stop-color="#4434ce"/><stop offset=".115" stop-color="#4853f5"/><stop offset=".228" stop-color="#3b72ff"/><stop offset=".441" stop-color="#23a0e5"/><stop offset=".459" stop-color="#14b0d8"/><stop offset=".464" stop-color="#02b7cb"/><stop offset=".470" stop-color="#11beb9"/><stop offset=".482" stop-color="#45cb89"/><stop offset=".500" stop-color="#bec32e"/><stop offset=".506" stop-color="#dabd28"/><stop offset=".518" stop-color="#fbbc3d"/><stop offset=".559" stop-color="#f9d72c"/><stop offset=".612" stop-color="#fec03b"/><stop offset=".624" stop-color="#f2ba38"/><stop offset=".636" stop-color="#d6be28"/><stop offset=".642" stop-color="#c2c32c"/><stop offset=".648" stop-color="#a8c73b"/><stop offset=".666" stop-color="#47cb87"/><stop offset=".683" stop-color="#06bcc0"/><stop offset=".689" stop-color="#05b6ce"/><stop offset=".701" stop-color="#1ca9df"/><stop offset=".719" stop-color="#259de7"/><stop offset=".997" stop-color="#3080fb"/></linearGradient>
<linearGradient id="g38" gradientUnits="userSpaceOnUse" x1="0" y1="0" x2="0" y2="169"><stop offset=".003" stop-color="#4434ce"/><stop offset=".027" stop-color="#422fc2"/><stop offset=".121" stop-color="#484ff2"/><stop offset=".234" stop-color="#3d71ff"/><stop offset=".447" stop-color="#22a1e4"/><stop offset=".459" stop-color="#1ca9df"/><stop offset=".470" stop-color="#02b7cb"/><stop offset=".488" stop-color="#4acb85"/><stop offset=".500" stop-color="#a1c840"/><stop offset=".506" stop-color="#c6c22a"/><stop offset=".518" stop-color="#f3ba38"/><stop offset=".524" stop-color="#febe3c"/><stop offset=".565" stop-color="#f8da2b"/><stop offset=".612" stop-color="#fec338"/><stop offset=".624" stop-color="#f3ba39"/><stop offset=".636" stop-color="#d0bf27"/><stop offset=".642" stop-color="#b5c533"/><stop offset=".660" stop-color="#49cb86"/><stop offset=".678" stop-color="#01b9c7"/><stop offset=".695" stop-color="#23a0e5"/><stop offset=".731" stop-color="#2d8af4"/><stop offset=".997" stop-color="#2f82f9"/></linearGradient>
<linearGradient id="g39" gradientUnits="userSpaceOnUse" x1="0" y1="0" x2="0" y2="169"><stop offset=".003" stop-color="#4434ce"/><stop offset=".104" stop-color="#4854f6"/><stop offset=".234" stop-color="#3c71ff"/><stop offset=".441" stop-color="#20a4e3"/><stop offset=".453" stop-color="#19addc"/><stop offset=".464" stop-color="#02bac4"/><stop offset=".482" stop-color="#53cc7d"/><stop offset=".494" stop-color="#a9c73a"/><stop offset=".500" stop-color="#ccc028"/><stop offset=".512" stop-color="#f8ba3d"/><stop offset=".536" stop-color="#f8d92c"/><stop offset=".565" stop-color="#f5e924"/><stop offset=".601" stop-color="#f6de29"/><stop offset=".624" stop-color="#febf3c"/><stop offset=".636" stop-color="#dabd28"/><stop offset=".642" stop-color="#bac430"/><stop offset=".660" stop-color="#3dc990"/><stop offset=".672" stop-color="#08bcbf"/><stop offset=".678" stop-color="#07b5d0"/><stop offset=".689" stop-color="#1fa6e2"/><stop offset=".725" stop-color="#2994ed"/><stop offset=".885" stop-color="#2f80fa"/><stop offset=".997" stop-color="#2d8bf4"/></linearGradient>
<linearGradient id="g40" gradientUnits="userSpaceOnUse" x1="0" y1="0" x2="0" y2="169"><stop offset=".003" stop-color="#4434cf"/><stop offset=".074" stop-color="#484ff2"/><stop offset=".198" stop-color="#3c71ff"/><stop offset=".346" stop-color="#2e85f8"/><stop offset=".447" stop-color="#259ce7"/><stop offset=".464" stop-color="#18aedb"/><stop offset=".470" stop-color="#05b6cd"/><stop offset=".476" stop-color="#10beba"/><stop offset=".488" stop-color="#4ecc82"/><stop offset=".500" stop-color="#aec637"/><stop offset=".506" stop-color="#d4bf28"/><stop offset=".518" stop-color="#febe3c"/><stop offset=".541" stop-color="#f6df29"/><stop offset=".565" stop-color="#f5e924"/><stop offset=".595" stop-color="#f5e128"/><stop offset=".624" stop-color="#fec438"/><stop offset=".636" stop-color="#edba34"/><stop offset=".642" stop-color="#d9be28"/><stop offset=".648" stop-color="#bdc42f"/><stop offset=".666" stop-color="#4acb84"/><stop offset=".683" stop-color="#01b9c7"/><stop offset=".695" stop-color="#1ca9df"/><stop offset=".725" stop-color="#2c90f0"/><stop offset=".802" stop-color="#2e84f8"/><stop offset=".997" stop-color="#2e85f8"/></linearGradient>
<linearGradient id="g41" gradientUnits="userSpaceOnUse" x1="0" y1="0" x2="0" y2="169"><stop offset=".003" stop-color="#4434cf"/><stop offset=".086" stop-color="#4851f4"/><stop offset=".198" stop-color="#3f6eff"/><stop offset=".435" stop-color="#2994ed"/><stop offset=".453" stop-color="#21a3e4"/><stop offset=".464" stop-color="#08b5d0"/><stop offset=".470" stop-color="#0bbdbd"/><stop offset=".482" stop-color="#46cb88"/><stop offset=".494" stop-color="#a1c840"/><stop offset=".500" stop-color="#c6c22a"/><stop offset=".506" stop-color="#e2bc2b"/><stop offset=".512" stop-color="#f5ba3b"/><stop offset=".518" stop-color="#fec03b"/><stop offset=".536" stop-color="#fad52d"/><stop offset=".559" stop-color="#f6e028"/><stop offset=".583" stop-color="#f7db2b"/><stop offset=".612" stop-color="#febe3c"/><stop offset=".624" stop-color="#e0bc2a"/><stop offset=".630" stop-color="#c6c22a"/><stop offset=".636" stop-color="#a3c83f"/><stop offset=".648" stop-color="#4ecc81"/><stop offset=".666" stop-color="#01b8c9"/><stop offset=".678" stop-color="#1ea7e1"/><stop offset=".707" stop-color="#2b91ef"/><stop offset=".914" stop-color="#2797eb"/><stop offset=".997" stop-color="#2c8ff1"/></linearGradient>
<linearGradient id="g42" gradientUnits="userSpaceOnUse" x1="0" y1="0" x2="0" y2="169"><stop offset=".003" stop-color="#4434cf"/><stop offset=".115" stop-color="#484df1"/><stop offset=".234" stop-color="#3d71ff"/><stop offset=".429" stop-color="#259ce7"/><stop offset=".447" stop-color="#1baade"/><stop offset=".459" stop-color="#01b8c8"/><stop offset=".476" stop-color="#42ca8b"/><stop offset=".494" stop-color="#adc638"/><stop offset=".500" stop-color="#c9c129"/><stop offset=".512" stop-color="#edba33"/><stop offset=".524" stop-color="#febd3c"/><stop offset=".553" stop-color="#fdcb33"/><stop offset=".589" stop-color="#fec03a"/><stop offset=".607" stop-color="#eeba34"/><stop offset=".618" stop-color="#d3bf27"/><stop offset=".624" stop-color="#bfc32d"/><stop offset=".636" stop-color="#87cb54"/><stop offset=".648" stop-color="#42ca8b"/><stop offset=".666" stop-color="#02b7cb"/><stop offset=".672" stop-color="#17aeda"/><stop offset=".689" stop-color="#2a93ed"/><stop offset=".719" stop-color="#2e83f9"/><stop offset=".997" stop-color="#2a93ed"/></linearGradient>
<linearGradient id="g43" gradientUnits="userSpaceOnUse" x1="0" y1="0" x2="0" y2="169"><stop offset=".003" stop-color="#4434cf"/><stop offset=".068" stop-color="#484df1"/><stop offset=".216" stop-color="#3d71ff"/><stop offset=".417" stop-color="#2c90f0"/><stop offset=".447" stop-color="#1ea8e0"/><stop offset=".459" stop-color="#01b8ca"/><stop offset=".476" stop-color="#43ca8a"/><stop offset=".494" stop-color="#afc637"/><stop offset=".500" stop-color="#cac129"/><stop offset=".512" stop-color="#efba35"/><stop offset=".524" stop-color="#fec03b"/><stop offset=".559" stop-color="#fbd32f"/><stop offset=".601" stop-color="#fec13a"/><stop offset=".612" stop-color="#f4ba39"/><stop offset=".624" stop-color="#d6be28"/><stop offset=".630" stop-color="#c0c32d"/><stop offset=".648" stop-color="#5dcc75"/><stop offset=".666" stop-color="#0abdbe"/><stop offset=".672" stop-color="#07b5d0"/><stop offset=".678" stop-color="#1babde"/><stop offset=".695" stop-color="#2c8ff1"/><stop offset=".737" stop-color="#3974fe"/><stop offset=".820" stop-color="#3e6fff"/><stop offset=".997" stop-color="#2f82fa"/></linearGradient>
<linearGradient id="g44" gradientUnits="userSpaceOnUse" x1="0" y1="0" x2="0" y2="169"><stop offset=".003" stop-color="#4434cf"/><stop offset=".104" stop-color="#484ff2"/><stop offset=".228" stop-color="#3c72ff"/><stop offset=".453" stop-color="#259ce7"/><stop offset=".464" stop-color="#1fa6e1"/><stop offset=".476" stop-color="#02b7cb"/><stop offset=".494" stop-color="#52cc7e"/><stop offset=".506" stop-color="#abc739"/><stop offset=".512" stop-color="#cec028"/><stop offset=".524" stop-color="#f7ba3c"/><stop offset=".547" stop-color="#fbd22f"/><stop offset=".571" stop-color="#f8da2b"/><stop offset=".618" stop-color="#febf3c"/><stop offset=".630" stop-color="#eaba31"/><stop offset=".642" stop-color="#c2c22c"/><stop offset=".648" stop-color="#a4c83e"/><stop offset=".666" stop-color="#3cc992"/><stop offset=".678" stop-color="#0dbdbc"/><stop offset=".683" stop-color="#03b6cc"/><stop offset=".695" stop-color="#1ea7e1"/><stop offset=".731" stop-color="#2c8ff1"/><stop offset=".908" stop-color="#327cfc"/><stop offset=".997" stop-color="#2f81fa"/></linearGradient>
<linearGradient id="g45" gradientUnits="userSpaceOnUse" x1="0" y1="0" x2="0" y2="169"><stop offset=".003" stop-color="#4434ce"/><stop offset=".021" stop-color="#422ebf"/><stop offset=".109" stop-color="#484cf0"/><stop offset=".234" stop-color="#3b72ff"/><stop offset=".447" stop-color="#2797eb"/><stop offset=".464" stop-color="#1da8e0"/><stop offset=".476" stop-color="#01bac5"/><stop offset=".494" stop-color="#56cc7b"/><stop offset=".506" stop-color="#a1c840"/><stop offset=".512" stop-color="#bec32e"/><stop offset=".518" stop-color="#d3bf27"/><stop offset=".536" stop-color="#f5ba3a"/><stop offset=".571" stop-color="#febe3c"/><stop offset=".601" stop-color="#eeba34"/><stop offset=".624" stop-color="#c2c32c"/><stop offset=".636" stop-color="#94ca4a"/><stop offset=".648" stop-color="#58cc7a"/><stop offset=".672" stop-color="#02b7cb"/><stop offset=".683" stop-color="#1ea7e1"/><stop offset=".713" stop-color="#2d8df2"/><stop offset=".861" stop-color="#2b92ef"/><stop offset=".997" stop-color="#2f82f9"/></linearGradient>
<linearGradient id="g46" gradientUnits="userSpaceOnUse" x1="0" y1="0" x2="0" y2="169"><stop offset=".003" stop-color="#4434ce"/><stop offset=".086" stop-color="#484aee"/><stop offset=".240" stop-color="#3b72ff"/><stop offset=".453" stop-color="#2699e9"/><stop offset=".470" stop-color="#19addc"/><stop offset=".476" stop-color="#05b6cd"/><stop offset=".482" stop-color="#11beba"/><stop offset=".494" stop-color="#4acb85"/><stop offset=".506" stop-color="#9fc941"/><stop offset=".512" stop-color="#c1c32c"/><stop offset=".518" stop-color="#dbbd29"/><stop offset=".530" stop-color="#f9bb3d"/><stop offset=".565" stop-color="#fcd12f"/><stop offset=".612" stop-color="#febe3c"/><stop offset=".624" stop-color="#edba33"/><stop offset=".636" stop-color="#cac129"/><stop offset=".642" stop-color="#b1c636"/><stop offset=".654" stop-color="#6ccd68"/><stop offset=".660" stop-color="#49cb85"/><stop offset=".678" stop-color="#02bac5"/><stop offset=".689" stop-color="#1baade"/><stop offset=".701" stop-color="#259ce7"/><stop offset=".749" stop-color="#2d8af4"/><stop offset=".997" stop-color="#2d8df2"/></linearGradient>
<linearGradient id="g47" gradientUnits="userSpaceOnUse" x1="0" y1="0" x2="0" y2="169"><stop offset=".003" stop-color="#4434cf"/><stop offset=".027" stop-color="#463cdf"/><stop offset=".157" stop-color="#4660fc"/><stop offset=".240" stop-color="#3678fe"/><stop offset=".364" stop-color="#317dfc"/><stop offset=".441" stop-color="#2d8cf3"/><stop offset=".464" stop-color="#1caadf"/><stop offset=".476" stop-color="#06bcc0"/><stop offset=".488" stop-color="#3ac994"/><stop offset=".506" stop-color="#9fc942"/><stop offset=".518" stop-color="#d0c027"/><stop offset=".524" stop-color="#e0bc2a"/><stop offset=".547" stop-color="#febe3c"/><stop offset=".595" stop-color="#febf3c"/><stop offset=".612" stop-color="#eeba34"/><stop offset=".624" stop-color="#d4bf28"/><stop offset=".630" stop-color="#c0c32d"/><stop offset=".636" stop-color="#a7c73c"/><stop offset=".654" stop-color="#42ca8b"/><stop offset=".672" stop-color="#01b8c9"/><stop offset=".683" stop-color="#1ea7e1"/><stop offset=".713" stop-color="#2d8df3"/><stop offset=".997" stop-color="#327cfc"/></linearGradient>
<linearGradient id="g48" gradientUnits="userSpaceOnUse" x1="0" y1="0" x2="0" y2="169"><stop offset=".003" stop-color="#4434cf"/><stop offset=".121" stop-color="#4853f5"/><stop offset=".210" stop-color="#3c71ff"/><stop offset=".334" stop-color="#2e83f9"/><stop offset=".441" stop-color="#249fe5"/><stop offset=".459" stop-color="#1ca9df"/><stop offset=".470" stop-color="#03b7cc"/><stop offset=".476" stop-color="#0fbeba"/><stop offset=".488" stop-color="#46cb88"/><stop offset=".500" stop-color="#9fc942"/><stop offset=".506" stop-color="#c5c22a"/><stop offset=".518" stop-color="#f5ba3a"/><stop offset=".524" stop-color="#fec03b"/><stop offset=".559" stop-color="#f7dd2a"/><stop offset=".583" stop-color="#f9d72d"/><stop offset=".607" stop-color="#fec13a"/><stop offset=".618" stop-color="#ecba33"/><stop offset=".624" stop-color="#dabd28"/><stop offset=".630" stop-color="#c1c32c"/><stop offset=".648" stop-color="#53cc7d"/><stop offset=".666" stop-color="#02bac4"/><stop offset=".678" stop-color="#1baade"/><stop offset=".707" stop-color="#2b92ef"/><stop offset=".885" stop-color="#3479fd"/><stop offset=".997" stop-color="#327cfc"/></linearGradient>
<linearGradient id="g49" gradientUnits="userSpaceOnUse" x1="0" y1="0" x2="0" y2="169"><stop offset=".003" stop-color="#4434cf"/><stop offset=".098" stop-color="#4852f4"/><stop offset=".216" stop-color="#3c72ff"/><stop offset=".447" stop-color="#259ce7"/><stop offset=".464" stop-color="#17aeda"/><stop offset=".470" stop-color="#04b6cd"/><stop offset=".476" stop-color="#0ebdbb"/><stop offset=".488" stop-color="#41ca8c"/><stop offset=".506" stop-color="#b0c636"/><stop offset=".512" stop-color="#cbc129"/><stop offset=".524" stop-color="#edba34"/><stop offset=".536" stop-color="#febe3c"/><stop offset=".559" stop-color="#feca34"/><stop offset=".595" stop-color="#febe3c"/><stop offset=".612" stop-color="#e9bb2f"/><stop offset=".624" stop-color="#cbc129"/><stop offset=".630" stop-color="#b5c533"/><stop offset=".654" stop-color="#3bc992"/><stop offset=".672" stop-color="#02b7cb"/><stop offset=".683" stop-color="#1ea7e1"/><stop offset=".719" stop-color="#2d8cf3"/><stop offset=".861" stop-color="#3479fd"/><stop offset=".997" stop-color="#2e85f8"/></linearGradient>
<linearGradient id="g50" gradientUnits="userSpaceOnUse" x1="0" y1="0" x2="0" y2="169"><stop offset=".003" stop-color="#4435d0"/><stop offset=".027" stop-color="#4740e4"/><stop offset=".145" stop-color="#465efb"/><stop offset=".240" stop-color="#3579fd"/><stop offset=".340" stop-color="#317dfc"/><stop offset=".441" stop-color="#2c8ef1"/><stop offset=".464" stop-color="#1caadf"/><stop offset=".476" stop-color="#06bcc0"/><stop offset=".494" stop-color="#5dcc75"/><stop offset=".506" stop-color="#a7c73c"/><stop offset=".512" stop-color="#c4c22b"/><stop offset=".518" stop-color="#dabd28"/><stop offset=".530" stop-color="#f6ba3b"/><stop offset=".565" stop-color="#fdce31"/><stop offset=".601" stop-color="#febf3b"/><stop offset=".618" stop-color="#e4bb2c"/><stop offset=".630" stop-color="#bcc42f"/><stop offset=".654" stop-color="#3bc993"/><stop offset=".666" stop-color="#0bbdbc"/><stop offset=".672" stop-color="#04b6cd"/><stop offset=".683" stop-color="#1fa6e2"/><stop offset=".719" stop-color="#2d8df2"/><stop offset=".908" stop-color="#2c8ff1"/><stop offset=".997" stop-color="#2e85f8"/></linearGradient>
<linearGradient id="g51" gradientUnits="userSpaceOnUse" x1="0" y1="0" x2="0" y2="169"><stop offset=".003" stop-color="#4434cf"/><stop offset=".086" stop-color="#4851f4"/><stop offset=".228" stop-color="#3d71ff"/><stop offset=".447" stop-color="#1babde"/><stop offset=".470" stop-color="#04bbc2"/><stop offset=".488" stop-color="#49cb85"/><stop offset=".506" stop-color="#b6c532"/><stop offset=".512" stop-color="#d1bf27"/><stop offset=".518" stop-color="#e4bb2c"/><stop offset=".536" stop-color="#fec03b"/><stop offset=".553" stop-color="#fec934"/><stop offset=".583" stop-color="#fec13a"/><stop offset=".601" stop-color="#eeba34"/><stop offset=".618" stop-color="#c1c32c"/><stop offset=".636" stop-color="#6bcd69"/><stop offset=".660" stop-color="#02bac3"/><stop offset=".678" stop-color="#23a1e4"/><stop offset=".701" stop-color="#2d8bf3"/><stop offset=".719" stop-color="#2e87f7"/><stop offset=".997" stop-color="#307ffb"/></linearGradient>
<linearGradient id="g52" gradientUnits="userSpaceOnUse" x1="0" y1="0" x2="0" y2="169"><stop offset=".003" stop-color="#4434ce"/><stop offset=".086" stop-color="#4852f4"/><stop offset=".228" stop-color="#3b72ff"/><stop offset=".441" stop-color="#249fe5"/><stop offset=".459" stop-color="#1babde"/><stop offset=".470" stop-color="#01b8c9"/><stop offset=".488" stop-color="#44cb8a"/><stop offset=".506" stop-color="#b2c635"/><stop offset=".512" stop-color="#cdc028"/><stop offset=".524" stop-color="#f0ba36"/><stop offset=".536" stop-color="#fec03b"/><stop offset=".559" stop-color="#fdcc32"/><stop offset=".589" stop-color="#fec13a"/><stop offset=".607" stop-color="#ecba33"/><stop offset=".618" stop-color="#cec028"/><stop offset=".624" stop-color="#b8c431"/><stop offset=".648" stop-color="#3dc991"/><stop offset=".666" stop-color="#01b8c9"/><stop offset=".678" stop-color="#1baade"/><stop offset=".707" stop-color="#2797ea"/><stop offset=".997" stop-color="#2d87f7"/></linearGradient>
<linearGradient id="g53" gradientUnits="userSpaceOnUse" x1="0" y1="0" x2="0" y2="169"><stop offset=".003" stop-color="#4434cf"/><stop offset=".092" stop-color="#4855f6"/><stop offset=".222" stop-color="#3c72ff"/><stop offset=".447" stop-color="#23a0e5"/><stop offset=".459" stop-color="#1da9e0"/><stop offset=".470" stop-color="#04b6cd"/><stop offset=".476" stop-color="#09bdbe"/><stop offset=".488" stop-color="#39c994"/><stop offset=".506" stop-color="#a1c840"/><stop offset=".512" stop-color="#bfc32e"/><stop offset=".524" stop-color="#e7bb2e"/><stop offset=".536" stop-color="#fcbc3d"/><stop offset=".565" stop-color="#fdcb33"/><stop offset=".589" stop-color="#fec13a"/><stop offset=".607" stop-color="#eeba34"/><stop offset=".618" stop-color="#d2bf27"/><stop offset=".624" stop-color="#bec32e"/><stop offset=".642" stop-color="#68cd6c"/><stop offset=".666" stop-color="#04bbc2"/><stop offset=".683" stop-color="#21a3e3"/><stop offset=".719" stop-color="#2d8af5"/><stop offset=".997" stop-color="#2d89f5"/></linearGradient>
<linearGradient id="g54" gradientUnits="userSpaceOnUse" x1="0" y1="0" x2="0" y2="169"><stop offset=".003" stop-color="#4434cf"/><stop offset=".033" stop-color="#4742e6"/><stop offset=".080" stop-color="#4852f4"/><stop offset=".222" stop-color="#3b72ff"/><stop offset=".453" stop-color="#2896ec"/><stop offset=".470" stop-color="#20a5e3"/><stop offset=".482" stop-color="#05b6ce"/><stop offset=".488" stop-color="#0dbdbb"/><stop offset=".500" stop-color="#40ca8d"/><stop offset=".518" stop-color="#aac739"/><stop offset=".524" stop-color="#c5c22a"/><stop offset=".536" stop-color="#e8bb2f"/><stop offset=".547" stop-color="#fabc3d"/><stop offset=".589" stop-color="#febe3c"/><stop offset=".607" stop-color="#eabb30"/><stop offset=".618" stop-color="#cec028"/><stop offset=".624" stop-color="#b9c430"/><stop offset=".648" stop-color="#42ca8c"/><stop offset=".666" stop-color="#01b9c7"/><stop offset=".683" stop-color="#23a0e5"/><stop offset=".719" stop-color="#2d8bf3"/><stop offset=".914" stop-color="#2b91ef"/><stop offset=".997" stop-color="#2d89f5"/></linearGradient>
<linearGradient id="g55" gradientUnits="userSpaceOnUse" x1="0" y1="0" x2="0" y2="169"><stop offset=".003" stop-color="#4434cf"/><stop offset=".104" stop-color="#4851f4"/><stop offset=".222" stop-color="#3d71ff"/><stop offset=".441" stop-color="#2a93ed"/><stop offset=".464" stop-color="#1ea6e1"/><stop offset=".476" stop-color="#01b8c9"/><stop offset=".494" stop-color="#51cc7f"/><stop offset=".506" stop-color="#a8c73b"/><stop offset=".512" stop-color="#cbc129"/><stop offset=".524" stop-color="#f8ba3d"/><stop offset=".547" stop-color="#f8d92c"/><stop offset=".565" stop-color="#f5e128"/><stop offset=".589" stop-color="#f9d72d"/><stop offset=".607" stop-color="#fec239"/><stop offset=".612" stop-color="#fabb3d"/><stop offset=".618" stop-color="#ebba32"/><stop offset=".624" stop-color="#d8be28"/><stop offset=".630" stop-color="#bec32e"/><stop offset=".648" stop-color="#52cc7e"/><stop offset=".666" stop-color="#04bbc1"/><stop offset=".678" stop-color="#1aacdd"/><stop offset=".707" stop-color="#2b92ef"/><stop offset=".997" stop-color="#2f81fa"/></linearGradient>
<linearGradient id="g56" gradientUnits="userSpaceOnUse" x1="0" y1="0" x2="0" y2="169"><stop offset=".003" stop-color="#4434cf"/><stop offset=".115" stop-color="#484ff2"/><stop offset=".234" stop-color="#3b72ff"/><stop offset=".441" stop-color="#259ce7"/><stop offset=".459" stop-color="#1aabdd"/><stop offset=".470" stop-color="#01b9c6"/><stop offset=".488" stop-color="#45cb88"/><stop offset=".506" stop-color="#abc739"/><stop offset=".512" stop-color="#c6c22a"/><stop offset=".524" stop-color="#eabb30"/><stop offset=".536" stop-color="#fdbd3d"/><stop offset=".565" stop-color="#fdcb33"/><stop offset=".589" stop-color="#fec03b"/><stop offset=".601" stop-color="#f4ba39"/><stop offset=".618" stop-color="#c8c129"/><stop offset=".630" stop-color="#95ca49"/><stop offset=".648" stop-color="#3ac994"/><stop offset=".666" stop-color="#02b7cb"/><stop offset=".683" stop-color="#22a2e4"/><stop offset=".719" stop-color="#2b91ef"/><stop offset=".997" stop-color="#317efb"/></linearGradient>
<linearGradient id="g57" gradientUnits="userSpaceOnUse" x1="0" y1="0" x2="0" y2="169"><stop offset=".003" stop-color="#4435d0"/><stop offset=".021" stop-color="#4744e8"/><stop offset=".044" stop-color="#484df1"/><stop offset=".186" stop-color="#3c72ff"/><stop offset=".423" stop-color="#2b92ee"/><stop offset=".453" stop-color="#1fa6e2"/><stop offset=".464" stop-color="#05b6cd"/><stop offset=".470" stop-color="#0bbdbd"/><stop offset=".482" stop-color="#3ac993"/><stop offset=".506" stop-color="#bbc430"/><stop offset=".512" stop-color="#d2bf27"/><stop offset=".524" stop-color="#f1ba37"/><stop offset=".536" stop-color="#fec03a"/><stop offset=".559" stop-color="#fdcd31"/><stop offset=".589" stop-color="#fec239"/><stop offset=".607" stop-color="#edba33"/><stop offset=".618" stop-color="#d1bf27"/><stop offset=".624" stop-color="#bdc32e"/><stop offset=".648" stop-color="#4ccb83"/><stop offset=".666" stop-color="#09bcbe"/><stop offset=".672" stop-color="#05b6ce"/><stop offset=".683" stop-color="#1fa5e2"/><stop offset=".701" stop-color="#2c90f0"/><stop offset=".743" stop-color="#2f80fa"/><stop offset=".997" stop-color="#2e84f8"/></linearGradient>
<linearGradient id="g58" gradientUnits="userSpaceOnUse" x1="0" y1="0" x2="0" y2="169"><stop offset=".003" stop-color="#4434cf"/><stop offset=".098" stop-color="#484ff2"/><stop offset=".228" stop-color="#3c72ff"/><stop offset=".435" stop-color="#259de7"/><stop offset=".453" stop-color="#1ea7e1"/><stop offset=".470" stop-color="#02bbc3"/><stop offset=".488" stop-color="#46cb87"/><stop offset=".506" stop-color="#aac73a"/><stop offset=".512" stop-color="#c4c22b"/><stop offset=".524" stop-color="#e9bb30"/><stop offset=".536" stop-color="#fdbd3d"/><stop offset=".565" stop-color="#fdcc32"/><stop offset=".589" stop-color="#fec239"/><stop offset=".607" stop-color="#efba35"/><stop offset=".624" stop-color="#c5c22a"/><stop offset=".636" stop-color="#98c946"/><stop offset=".654" stop-color="#46cb87"/><stop offset=".678" stop-color="#01b8ca"/><stop offset=".695" stop-color="#20a4e3"/><stop offset=".731" stop-color="#2a93ee"/><stop offset=".997" stop-color="#2d8cf3"/></linearGradient>
<linearGradient id="g59" gradientUnits="userSpaceOnUse" x1="0" y1="0" x2="0" y2="169"><stop offset=".003" stop-color="#4434ce"/><stop offset=".021" stop-color="#422ebf"/><stop offset=".109" stop-color="#484ff2"/><stop offset=".240" stop-color="#3b72ff"/><stop offset=".328" stop-color="#2d8cf3"/><stop offset=".447" stop-color="#2995ec"/><stop offset=".464" stop-color="#1fa6e2"/><stop offset=".476" stop-color="#01b8c9"/><stop offset=".494" stop-color="#4bcb84"/><stop offset=".512" stop-color="#bcc42f"/><stop offset=".518" stop-color="#d7be28"/><stop offset=".530" stop-color="#fabb3d"/><stop offset=".565" stop-color="#f9d82c"/><stop offset=".607" stop-color="#fec13a"/><stop offset=".618" stop-color="#f2ba38"/><stop offset=".630" stop-color="#d6be28"/><stop offset=".636" stop-color="#c4c22b"/><stop offset=".648" stop-color="#93ca4b"/><stop offset=".666" stop-color="#3fca8e"/><stop offset=".689" stop-color="#01b8ca"/><stop offset=".701" stop-color="#19addc"/><stop offset=".737" stop-color="#269ae9"/><stop offset=".997" stop-color="#2d89f5"/></linearGradient>
<linearGradient id="g60" gradientUnits="userSpaceOnUse" x1="0" y1="0" x2="0" y2="169"><stop offset=".003" stop-color="#4434ce"/><stop offset=".021" stop-color="#4433cc"/><stop offset=".098" stop-color="#4850f3"/><stop offset=".240" stop-color="#3c72ff"/><stop offset=".334" stop-color="#2d8bf4"/><stop offset=".435" stop-color="#2c90f0"/><stop offset=".459" stop-color="#20a4e3"/><stop offset=".470" stop-color="#07b5cf"/><stop offset=".476" stop-color="#08bcbf"/><stop offset=".494" stop-color="#54cc7c"/><stop offset=".512" stop-color="#b6c533"/><stop offset=".518" stop-color="#cdc028"/><stop offset=".530" stop-color="#eeba35"/><stop offset=".541" stop-color="#febf3b"/><stop offset=".559" stop-color="#fec934"/><stop offset=".583" stop-color="#fec13a"/><stop offset=".601" stop-color="#ebba31"/><stop offset=".612" stop-color="#ccc028"/><stop offset=".618" stop-color="#b6c532"/><stop offset=".642" stop-color="#44ca8a"/><stop offset=".660" stop-color="#04bbc2"/><stop offset=".678" stop-color="#1fa6e1"/><stop offset=".707" stop-color="#2a93ee"/><stop offset=".997" stop-color="#2d87f6"/></linearGradient>
<linearGradient id="g61" gradientUnits="userSpaceOnUse" x1="0" y1="0" x2="0" y2="169"><stop offset=".003" stop-color="#4434ce"/><stop offset=".021" stop-color="#4332c8"/><stop offset=".127" stop-color="#4852f4"/><stop offset=".234" stop-color="#3d71ff"/><stop offset=".441" stop-color="#249fe5"/><stop offset=".453" stop-color="#1baade"/><stop offset=".464" stop-color="#01b8ca"/><stop offset=".482" stop-color="#37c897"/><stop offset=".500" stop-color="#90ca4d"/><stop offset=".512" stop-color="#c6c22a"/><stop offset=".518" stop-color="#dabd28"/><stop offset=".530" stop-color="#f7ba3c"/><stop offset=".565" stop-color="#fbd42e"/><stop offset=".601" stop-color="#fec239"/><stop offset=".612" stop-color="#f2ba38"/><stop offset=".624" stop-color="#d5be28"/><stop offset=".630" stop-color="#c0c32d"/><stop offset=".654" stop-color="#4ecc81"/><stop offset=".678" stop-color="#01b9c6"/><stop offset=".695" stop-color="#1caadf"/><stop offset=".713" stop-color="#249fe5"/><stop offset=".885" stop-color="#2e84f8"/><stop offset=".997" stop-color="#2e83f9"/></linearGradient>
<linearGradient id="g62" gradientUnits="userSpaceOnUse" x1="0" y1="0" x2="0" y2="169"><stop offset=".003" stop-color="#4434ce"/><stop offset=".027" stop-color="#422fc0"/><stop offset=".133" stop-color="#484aee"/><stop offset=".240" stop-color="#3c71ff"/><stop offset=".287" stop-color="#2f80fa"/><stop offset=".423" stop-color="#2a93ed"/><stop offset=".447" stop-color="#21a4e3"/><stop offset=".464" stop-color="#01bac5"/><stop offset=".482" stop-color="#44cb8a"/><stop offset=".500" stop-color="#acc738"/><stop offset=".506" stop-color="#c9c129"/><stop offset=".518" stop-color="#f3ba39"/><stop offset=".524" stop-color="#febf3c"/><stop offset=".547" stop-color="#f6e028"/><stop offset=".571" stop-color="#f5eb23"/><stop offset=".595" stop-color="#f6de29"/><stop offset=".624" stop-color="#f8ba3d"/><stop offset=".636" stop-color="#d6be28"/><stop offset=".642" stop-color="#bfc32e"/><stop offset=".666" stop-color="#46cb88"/><stop offset=".689" stop-color="#01b9c7"/><stop offset=".707" stop-color="#1aabdd"/><stop offset=".737" stop-color="#23a1e5"/><stop offset=".997" stop-color="#327cfc"/></linearGradient>
<linearGradient id="g63" gradientUnits="userSpaceOnUse" x1="0" y1="0" x2="0" y2="169"><stop offset=".003" stop-color="#4434ce"/><stop offset=".027" stop-color="#422fc0"/><stop offset=".121" stop-color="#4746eb"/><stop offset=".234" stop-color="#3f6eff"/><stop offset=".293" stop-color="#2f80fa"/><stop offset=".435" stop-color="#2994ed"/><stop offset=".459" stop-color="#1ea7e1"/><stop offset=".470" stop-color="#05b6ce"/><stop offset=".476" stop-color="#08bcbf"/><stop offset=".488" stop-color="#36c898"/><stop offset=".512" stop-color="#b7c532"/><stop offset=".518" stop-color="#d2bf27"/><stop offset=".530" stop-color="#f7ba3c"/><stop offset=".553" stop-color="#f9d82c"/><stop offset=".571" stop-color="#f6e028"/><stop offset=".589" stop-color="#f8d92b"/><stop offset=".612" stop-color="#febf3c"/><stop offset=".630" stop-color="#d4bf28"/><stop offset=".636" stop-color="#bdc32f"/><stop offset=".660" stop-color="#44cb89"/><stop offset=".678" stop-color="#09bcbe"/><stop offset=".683" stop-color="#02b7cb"/><stop offset=".701" stop-color="#1fa6e2"/><stop offset=".737" stop-color="#2896eb"/><stop offset=".891" stop-color="#307ffb"/><stop offset=".997" stop-color="#307efb"/></linearGradient>
<linearGradient id="g64" gradientUnits="userSpaceOnUse" x1="0" y1="0" x2="0" y2="169"><stop offset=".003" stop-color="#4434cf"/><stop offset=".109" stop-color="#4853f5"/><stop offset=".216" stop-color="#3c72ff"/><stop offset=".447" stop-color="#259ce7"/><stop offset=".464" stop-color="#1caadf"/><stop offset=".476" stop-color="#03b7cc"/><stop offset=".482" stop-color="#09bdbe"/><stop offset=".488" stop-color="#25c2ae"/><stop offset=".500" stop-color="#47cb87"/><stop offset=".518" stop-color="#9dc943"/><stop offset=".530" stop-color="#cac129"/><stop offset=".547" stop-color="#f1ba37"/><stop offset=".571" stop-color="#febe3c"/><stop offset=".595" stop-color="#f2ba38"/><stop offset=".618" stop-color="#c5c22a"/><stop offset=".642" stop-color="#70cd65"/><stop offset=".654" stop-color="#41ca8c"/><stop offset=".678" stop-color="#01b9c6"/><stop offset=".701" stop-color="#20a5e3"/><stop offset=".760" stop-color="#2c90f0"/><stop offset=".879" stop-color="#317efb"/><stop offset=".997" stop-color="#2e83f9"/></linearGradient>
<linearGradient id="g65" gradientUnits="userSpaceOnUse" x1="0" y1="0" x2="0" y2="169"><stop offset=".003" stop-color="#4434ce"/><stop offset=".115" stop-color="#4851f4"/><stop offset=".234" stop-color="#3c72ff"/><stop offset=".447" stop-color="#249fe5"/><stop offset=".459" stop-color="#1babde"/><stop offset=".470" stop-color="#03b7cc"/><stop offset=".476" stop-color="#08bcbf"/><stop offset=".494" stop-color="#3cc992"/><stop offset=".524" stop-color="#a9c73b"/><stop offset=".541" stop-color="#d4bf28"/><stop offset=".565" stop-color="#eabb30"/><stop offset=".583" stop-color="#e4bb2c"/><stop offset=".601" stop-color="#cec028"/><stop offset=".618" stop-color="#a6c83d"/><stop offset=".636" stop-color="#6ccd68"/><stop offset=".672" stop-color="#06bcc0"/><stop offset=".678" stop-color="#03b7cc"/><stop offset=".689" stop-color="#1babde"/><stop offset=".719" stop-color="#2b91ef"/><stop offset=".997" stop-color="#3974fe"/></linearGradient>
<linearGradient id="g66" gradientUnits="userSpaceOnUse" x1="0" y1="0" x2="0" y2="169"><stop offset=".003" stop-color="#4434cf"/><stop offset=".098" stop-color="#484df1"/><stop offset=".222" stop-color="#3d71ff"/><stop offset=".441" stop-color="#249ee6"/><stop offset=".459" stop-color="#1babde"/><stop offset=".470" stop-color="#03b7cc"/><stop offset=".476" stop-color="#08bcbf"/><stop offset=".494" stop-color="#45cb89"/><stop offset=".518" stop-color="#b8c431"/><stop offset=".530" stop-color="#dfbc2a"/><stop offset=".541" stop-color="#f7ba3c"/><stop offset=".565" stop-color="#fec537"/><stop offset=".583" stop-color="#febe3c"/><stop offset=".607" stop-color="#d8be28"/><stop offset=".618" stop-color="#b3c534"/><stop offset=".642" stop-color="#4ccb83"/><stop offset=".666" stop-color="#02bac5"/><stop offset=".683" stop-color="#1fa6e1"/><stop offset=".725" stop-color="#2d8bf4"/><stop offset=".902" stop-color="#3e6fff"/><stop offset=".997" stop-color="#3b73fe"/></linearGradient>
<linearGradient id="g67" gradientUnits="userSpaceOnUse" x1="0" y1="0" x2="0" y2="169"><stop offset=".003" stop-color="#4435d0"/><stop offset=".021" stop-color="#4745ea"/><stop offset=".044" stop-color="#484ff2"/><stop offset=".192" stop-color="#3c71ff"/><stop offset=".453" stop-color="#2b91ef"/><stop offset=".476" stop-color="#1da9e0"/><stop offset=".488" stop-color="#01b9c8"/><stop offset=".512" stop-color="#5acc77"/><stop offset=".524" stop-color="#98ca47"/><stop offset=".536" stop-color="#c9c129"/><stop offset=".553" stop-color="#f2ba38"/><stop offset=".571" stop-color="#fbbc3d"/><stop offset=".589" stop-color="#efba35"/><stop offset=".607" stop-color="#c9c129"/><stop offset=".618" stop-color="#a0c841"/><stop offset=".630" stop-color="#6bcd69"/><stop offset=".660" stop-color="#02bbc3"/><stop offset=".678" stop-color="#1ea7e1"/><stop offset=".713" stop-color="#2c90f0"/><stop offset=".997" stop-color="#2e84f8"/></linearGradient>
<linearGradient id="g68" gradientUnits="userSpaceOnUse" x1="0" y1="0" x2="0" y2="169"><stop offset=".003" stop-color="#4434ce"/><stop offset=".104" stop-color="#484ef1"/><stop offset=".234" stop-color="#3c71ff"/><stop offset=".293" stop-color="#2f80fa"/><stop offset=".447" stop-color="#2798ea"/><stop offset=".464" stop-color="#1da8e0"/><stop offset=".476" stop-color="#04b6cd"/><stop offset=".482" stop-color="#09bcbe"/><stop offset=".500" stop-color="#4acb85"/><stop offset=".524" stop-color="#bfc32d"/><stop offset=".530" stop-color="#d5be28"/><stop offset=".547" stop-color="#fcbc3d"/><stop offset=".565" stop-color="#fec636"/><stop offset=".583" stop-color="#febf3b"/><stop offset=".595" stop-color="#f2ba38"/><stop offset=".607" stop-color="#d7be28"/><stop offset=".612" stop-color="#c4c22b"/><stop offset=".624" stop-color="#94ca4a"/><stop offset=".642" stop-color="#41ca8d"/><stop offset=".660" stop-color="#08bcbf"/><stop offset=".666" stop-color="#03b7cc"/><stop offset=".678" stop-color="#1babde"/><stop offset=".719" stop-color="#2995ec"/><stop offset=".997" stop-color="#2b92ee"/></linearGradient>
<linearGradient id="g69" gradientUnits="userSpaceOnUse" x1="0" y1="0" x2="0" y2="169"><stop offset=".003" stop-color="#4434cf"/><stop offset=".027" stop-color="#4331c6"/><stop offset=".109" stop-color="#484df1"/><stop offset=".216" stop-color="#3c72ff"/><stop offset=".405" stop-color="#2c90f0"/><stop offset=".447" stop-color="#1caadf"/><stop offset=".459" stop-color="#04b6cd"/><stop offset=".464" stop-color="#05bbc1"/><stop offset=".494" stop-color="#6acd6a"/><stop offset=".506" stop-color="#9ec942"/><stop offset=".518" stop-color="#c9c129"/><stop offset=".541" stop-color="#f9bb3d"/><stop offset=".577" stop-color="#febf3c"/><stop offset=".595" stop-color="#ebba31"/><stop offset=".607" stop-color="#d0bf27"/><stop offset=".612" stop-color="#bec32e"/><stop offset=".642" stop-color="#47cb87"/><stop offset=".666" stop-color="#02bac4"/><stop offset=".683" stop-color="#1da9e0"/><stop offset=".725" stop-color="#2c8ff1"/><stop offset=".997" stop-color="#327cfc"/></linearGradient>
<linearGradient id="g70" gradientUnits="userSpaceOnUse" x1="0" y1="0" x2="0" y2="169"><stop offset=".003" stop-color="#4434cf"/><stop offset=".098" stop-color="#4755f6"/><stop offset=".204" stop-color="#3c71ff"/><stop offset=".423" stop-color="#2a93ed"/><stop offset=".453" stop-color="#1baade"/><stop offset=".464" stop-color="#03b7cc"/><stop offset=".470" stop-color="#08bcbf"/><stop offset=".488" stop-color="#3dc991"/><stop offset=".518" stop-color="#b2c535"/><stop offset=".524" stop-color="#c5c22a"/><stop offset=".536" stop-color="#e1bc2b"/><stop offset=".547" stop-color="#f1ba37"/><stop offset=".565" stop-color="#f6ba3b"/><stop offset=".595" stop-color="#d3bf27"/><stop offset=".612" stop-color="#a1c840"/><stop offset=".630" stop-color="#5ecd74"/><stop offset=".642" stop-color="#38c896"/><stop offset=".666" stop-color="#01b8c9"/><stop offset=".683" stop-color="#1da9e0"/><stop offset=".731" stop-color="#2b92ee"/><stop offset=".861" stop-color="#2f82f9"/><stop offset=".997" stop-color="#2e84f8"/></linearGradient>
<linearGradient id="g71" gradientUnits="userSpaceOnUse" x1="0" y1="0" x2="0" y2="169"><stop offset=".003" stop-color="#4434ce"/><stop offset=".021" stop-color="#4433cc"/><stop offset=".092" stop-color="#4851f4"/><stop offset=".210" stop-color="#3c72ff"/><stop offset=".411" stop-color="#2b92ee"/><stop offset=".447" stop-color="#1fa6e1"/><stop offset=".464" stop-color="#01b8c9"/><stop offset=".488" stop-color="#3fca8e"/><stop offset=".512" stop-color="#a4c83e"/><stop offset=".524" stop-color="#cdc028"/><stop offset=".547" stop-color="#fbbc3d"/><stop offset=".577" stop-color="#febe3c"/><stop offset=".589" stop-color="#f1ba37"/><stop offset=".601" stop-color="#d5be28"/><stop offset=".607" stop-color="#c2c32c"/><stop offset=".636" stop-color="#3fca8e"/><stop offset=".654" stop-color="#06bcc0"/><stop offset=".660" stop-color="#05b6cd"/><stop offset=".672" stop-color="#1da9e0"/><stop offset=".701" stop-color="#2b92ef"/><stop offset=".997" stop-color="#3579fd"/></linearGradient>
<linearGradient id="g72" gradientUnits="userSpaceOnUse" x1="0" y1="0" x2="0" y2="169"><stop offset=".003" stop-color="#4434ce"/><stop offset=".104" stop-color="#4756f7"/><stop offset=".222" stop-color="#3b72ff"/><stop offset=".441" stop-color="#249fe5"/><stop offset=".459" stop-color="#1aacdd"/><stop offset=".470" stop-color="#02b7cb"/><stop offset=".476" stop-color="#09bdbe"/><stop offset=".494" stop-color="#46cb88"/><stop offset=".518" stop-color="#c0c32d"/><stop offset=".524" stop-color="#d8be28"/><stop offset=".536" stop-color="#fabb3d"/><stop offset=".565" stop-color="#f8d92c"/><stop offset=".583" stop-color="#fbd32f"/><stop offset=".601" stop-color="#febd3c"/><stop offset=".618" stop-color="#d0bf27"/><stop offset=".624" stop-color="#b9c430"/><stop offset=".648" stop-color="#48cb86"/><stop offset=".672" stop-color="#02bac4"/><stop offset=".695" stop-color="#1da8e0"/><stop offset=".725" stop-color="#259de7"/><stop offset=".855" stop-color="#2e87f7"/><stop offset=".997" stop-color="#2e86f8"/></linearGradient>
<linearGradient id="g73" gradientUnits="userSpaceOnUse" x1="0" y1="0" x2="0" y2="169"><stop offset=".003" stop-color="#4434ce"/><stop offset=".021" stop-color="#4332ca"/><stop offset=".050" stop-color="#463de0"/><stop offset=".104" stop-color="#4852f4"/><stop offset=".222" stop-color="#3c72ff"/><stop offset=".411" stop-color="#22a2e4"/><stop offset=".435" stop-color="#18aedb"/><stop offset=".453" stop-color="#01bac5"/><stop offset=".476" stop-color="#40ca8d"/><stop offset=".506" stop-color="#c9c129"/><stop offset=".524" stop-color="#fbbc3d"/><stop offset=".547" stop-color="#f7db2b"/><stop offset=".565" stop-color="#f5e327"/><stop offset=".601" stop-color="#fec13a"/><stop offset=".607" stop-color="#f8ba3d"/><stop offset=".612" stop-color="#e9bb30"/><stop offset=".624" stop-color="#c0c32d"/><stop offset=".648" stop-color="#51cc7f"/><stop offset=".672" stop-color="#04bbc2"/><stop offset=".695" stop-color="#20a4e3"/><stop offset=".749" stop-color="#2d8cf3"/><stop offset=".997" stop-color="#2d8bf4"/></linearGradient>
<linearGradient id="g74" gradientUnits="userSpaceOnUse" x1="0" y1="0" x2="0" y2="169"><stop offset=".003" stop-color="#4434cf"/><stop offset=".033" stop-color="#4744e8"/><stop offset=".080" stop-color="#4853f5"/><stop offset=".246" stop-color="#3777fe"/><stop offset=".435" stop-color="#2896ec"/><stop offset=".459" stop-color="#1da8e0"/><stop offset=".470" stop-color="#05b6ce"/><stop offset=".476" stop-color="#06bcc0"/><stop offset=".494" stop-color="#42ca8b"/><stop offset=".512" stop-color="#9cc944"/><stop offset=".524" stop-color="#d0bf27"/><stop offset=".541" stop-color="#fcbc3d"/><stop offset=".559" stop-color="#fec735"/><stop offset=".577" stop-color="#fec03b"/><stop offset=".589" stop-color="#f2ba37"/><stop offset=".601" stop-color="#d5be28"/><stop offset=".607" stop-color="#c1c32c"/><stop offset=".636" stop-color="#44cb8a"/><stop offset=".660" stop-color="#01b9c6"/><stop offset=".683" stop-color="#23a0e5"/><stop offset=".707" stop-color="#2d8cf3"/><stop offset=".743" stop-color="#2f82f9"/><stop offset=".997" stop-color="#2a92ee"/></linearGradient>
<linearGradient id="g75" gradientUnits="userSpaceOnUse" x1="0" y1="0" x2="0" y2="169"><stop offset=".003" stop-color="#4434ce"/><stop offset=".021" stop-color="#4331c8"/><stop offset=".056" stop-color="#4741e5"/><stop offset=".098" stop-color="#4756f7"/><stop offset=".216" stop-color="#3c72ff"/><stop offset=".435" stop-color="#249fe5"/><stop offset=".453" stop-color="#1aacdd"/><stop offset=".464" stop-color="#03b7cc"/><stop offset=".470" stop-color="#07bcbf"/><stop offset=".488" stop-color="#3fca8e"/><stop offset=".512" stop-color="#b3c534"/><stop offset=".518" stop-color="#ccc028"/><stop offset=".530" stop-color="#f2ba37"/><stop offset=".536" stop-color="#fdbd3d"/><stop offset=".559" stop-color="#fcd12f"/><stop offset=".583" stop-color="#fec239"/><stop offset=".595" stop-color="#efba35"/><stop offset=".607" stop-color="#cac129"/><stop offset=".612" stop-color="#b3c534"/><stop offset=".636" stop-color="#44cb8a"/><stop offset=".660" stop-color="#01b8c8"/><stop offset=".678" stop-color="#1fa6e2"/><stop offset=".719" stop-color="#2d8df2"/><stop offset=".997" stop-color="#2f82f9"/></linearGradient>
<linearGradient id="g76" gradientUnits="userSpaceOnUse" x1="0" y1="0" x2="0" y2="169"><stop offset=".003" stop-color="#4434ce"/><stop offset=".021" stop-color="#4230c3"/><stop offset=".104" stop-color="#484ef1"/><stop offset=".222" stop-color="#3c72ff"/><stop offset=".417" stop-color="#22a2e4"/><stop offset=".435" stop-color="#1babde"/><stop offset=".453" stop-color="#01b8ca"/><stop offset=".459" stop-color="#07bcc0"/><stop offset=".482" stop-color="#46cb88"/><stop offset=".512" stop-color="#c0c32d"/><stop offset=".518" stop-color="#d4bf28"/><stop offset=".536" stop-color="#fcbc3d"/><stop offset=".559" stop-color="#fdcc32"/><stop offset=".583" stop-color="#fec03b"/><stop offset=".595" stop-color="#efba35"/><stop offset=".607" stop-color="#d1bf27"/><stop offset=".612" stop-color="#bdc42f"/><stop offset=".642" stop-color="#43ca8a"/><stop offset=".666" stop-color="#02bac3"/><stop offset=".689" stop-color="#20a5e2"/><stop offset=".737" stop-color="#2c8ef2"/><stop offset=".920" stop-color="#2b91ef"/><stop offset=".997" stop-color="#2d88f6"/></linearGradient>
<linearGradient id="g77" gradientUnits="userSpaceOnUse" x1="0" y1="0" x2="0" y2="169"><stop offset=".003" stop-color="#4434cf"/><stop offset=".098" stop-color="#4850f3"/><stop offset=".210" stop-color="#3c71ff"/><stop offset=".411" stop-color="#2a93ed"/><stop offset=".447" stop-color="#1ca9df"/><stop offset=".464" stop-color="#01b9c7"/><stop offset=".488" stop-color="#3eca8f"/><stop offset=".512" stop-color="#9fc942"/><stop offset=".524" stop-color="#cac129"/><stop offset=".536" stop-color="#eabb30"/><stop offset=".547" stop-color="#fbbc3d"/><stop offset=".571" stop-color="#febf3b"/><stop offset=".589" stop-color="#edba33"/><stop offset=".601" stop-color="#d0bf27"/><stop offset=".607" stop-color="#bdc32e"/><stop offset=".636" stop-color="#47cb87"/><stop offset=".660" stop-color="#06bcc0"/><stop offset=".666" stop-color="#03b7cc"/><stop offset=".689" stop-color="#23a0e5"/><stop offset=".737" stop-color="#2d89f5"/><stop offset=".997" stop-color="#2d89f6"/></linearGradient>
<linearGradient id="g78" gradientUnits="userSpaceOnUse" x1="0" y1="0" x2="0" y2="169"><stop offset=".003" stop-color="#4434cf"/><stop offset=".086" stop-color="#4851f4"/><stop offset=".198" stop-color="#3c71ff"/><stop offset=".435" stop-color="#2b92ee"/><stop offset=".464" stop-color="#1caadf"/><stop offset=".476" stop-color="#02b7cb"/><stop offset=".482" stop-color="#0abdbe"/><stop offset=".488" stop-color="#24c1af"/><stop offset=".500" stop-color="#42ca8b"/><stop offset=".518" stop-color="#99c946"/><stop offset=".530" stop-color="#cdc028"/><stop offset=".547" stop-color="#fabb3d"/><stop offset=".571" stop-color="#fec03b"/><stop offset=".583" stop-color="#f5ba3a"/><stop offset=".595" stop-color="#d8be28"/><stop offset=".601" stop-color="#c4c22b"/><stop offset=".630" stop-color="#43ca8a"/><stop offset=".654" stop-color="#02bac5"/><stop offset=".672" stop-color="#1babde"/><stop offset=".695" stop-color="#259de7"/><stop offset=".997" stop-color="#2e83f9"/></linearGradient>
<linearGradient id="g79" gradientUnits="userSpaceOnUse" x1="0" y1="0" x2="0" y2="169"><stop offset=".003" stop-color="#4434cf"/><stop offset=".027" stop-color="#4742e6"/><stop offset=".068" stop-color="#4853f5"/><stop offset=".210" stop-color="#3b72ff"/><stop offset=".435" stop-color="#2a93ee"/><stop offset=".459" stop-color="#20a5e2"/><stop offset=".476" stop-color="#01b8c9"/><stop offset=".500" stop-color="#46cb88"/><stop offset=".524" stop-color="#bac430"/><stop offset=".530" stop-color="#d2bf27"/><stop offset=".541" stop-color="#f5ba3a"/><stop offset=".565" stop-color="#fec934"/><stop offset=".583" stop-color="#fec03b"/><stop offset=".595" stop-color="#eeba35"/><stop offset=".607" stop-color="#cec028"/><stop offset=".618" stop-color="#a0c841"/><stop offset=".642" stop-color="#3dc991"/><stop offset=".666" stop-color="#01b9c7"/><stop offset=".683" stop-color="#1babde"/><stop offset=".701" stop-color="#249fe6"/><stop offset=".997" stop-color="#3c72ff"/></linearGradient>
<linearGradient id="g80" gradientUnits="userSpaceOnUse" x1="0" y1="0" x2="0" y2="169"><stop offset=".003" stop-color="#4434cf"/><stop offset=".027" stop-color="#4741e5"/><stop offset=".056" stop-color="#484bef"/><stop offset=".228" stop-color="#3c71ff"/><stop offset=".429" stop-color="#259ce7"/><stop offset=".453" stop-color="#19addc"/><stop offset=".464" stop-color="#02b7cb"/><stop offset=".470" stop-color="#07bcc0"/><stop offset=".494" stop-color="#4bcb84"/><stop offset=".512" stop-color="#9bc945"/><stop offset=".524" stop-color="#ccc028"/><stop offset=".541" stop-color="#fbbc3d"/><stop offset=".559" stop-color="#feca33"/><stop offset=".583" stop-color="#fec339"/><stop offset=".595" stop-color="#f6ba3b"/><stop offset=".612" stop-color="#cac129"/><stop offset=".624" stop-color="#a1c840"/><stop offset=".648" stop-color="#46cb88"/><stop offset=".678" stop-color="#01bac5"/><stop offset=".713" stop-color="#21a3e3"/><stop offset=".766" stop-color="#2b92ee"/><stop offset=".831" stop-color="#2d87f6"/><stop offset=".997" stop-color="#2e85f8"/></linearGradient>
<linearGradient id="g81" gradientUnits="userSpaceOnUse" x1="0" y1="0" x2="0" y2="169"><stop offset=".003" stop-color="#4434ce"/><stop offset=".015" stop-color="#412cba"/><stop offset=".027" stop-color="#402bb7"/><stop offset=".098" stop-color="#4745e9"/><stop offset=".234" stop-color="#3d71ff"/><stop offset=".293" stop-color="#2f80fa"/><stop offset=".429" stop-color="#2d8cf3"/><stop offset=".459" stop-color="#1caadf"/><stop offset=".470" stop-color="#01b7ca"/><stop offset=".494" stop-color="#41ca8c"/><stop offset=".518" stop-color="#b3c534"/><stop offset=".524" stop-color="#ccc028"/><stop offset=".536" stop-color="#f2ba37"/><stop offset=".541" stop-color="#fdbd3d"/><stop offset=".559" stop-color="#fdcd32"/><stop offset=".583" stop-color="#fec338"/><stop offset=".595" stop-color="#f2ba37"/><stop offset=".607" stop-color="#d0bf27"/><stop offset=".612" stop-color="#bac430"/><stop offset=".642" stop-color="#3bc992"/><stop offset=".666" stop-color="#01b8c9"/><stop offset=".678" stop-color="#17aeda"/><stop offset=".701" stop-color="#259ce7"/><stop offset=".825" stop-color="#327cfc"/><stop offset=".997" stop-color="#2e85f8"/></linearGradient>
<linearGradient id="g82" gradientUnits="userSpaceOnUse" x1="0" y1="0" x2="0" y2="169"><stop offset=".003" stop-color="#4434ce"/><stop offset=".115" stop-color="#4850f3"/><stop offset=".222" stop-color="#3c72ff"/><stop offset=".429" stop-color="#2994ed"/><stop offset=".459" stop-color="#1da9e0"/><stop offset=".470" stop-color="#05b6ce"/><stop offset=".476" stop-color="#04bbc1"/><stop offset=".494" stop-color="#3dca90"/><stop offset=".518" stop-color="#b5c533"/><stop offset=".524" stop-color="#d0c028"/><stop offset=".536" stop-color="#f7ba3c"/><stop offset=".559" stop-color="#fbd32f"/><stop offset=".583" stop-color="#fec438"/><stop offset=".595" stop-color="#eeba34"/><stop offset=".607" stop-color="#c5c22a"/><stop offset=".636" stop-color="#3cc992"/><stop offset=".654" stop-color="#07bcbf"/><stop offset=".660" stop-color="#02b7cb"/><stop offset=".672" stop-color="#19addc"/><stop offset=".707" stop-color="#269ae8"/><stop offset=".891" stop-color="#2f82f9"/><stop offset=".997" stop-color="#2d89f5"/></linearGradient>
<linearGradient id="g83" gradientUnits="userSpaceOnUse" x1="0" y1="0" x2="0" y2="169"><stop offset=".003" stop-color="#4434cf"/><stop offset=".027" stop-color="#4741e5"/><stop offset=".074" stop-color="#484ff2"/><stop offset=".222" stop-color="#3b72ff"/><stop offset=".441" stop-color="#2896ec"/><stop offset=".464" stop-color="#1da8e0"/><stop offset=".482" stop-color="#04bbc2"/><stop offset=".500" stop-color="#3fca8e"/><stop offset=".524" stop-color="#bbc42f"/><stop offset=".530" stop-color="#d5be28"/><stop offset=".541" stop-color="#fabb3d"/><stop offset=".565" stop-color="#fccf30"/><stop offset=".589" stop-color="#febe3c"/><stop offset=".612" stop-color="#c6c22a"/><stop offset=".642" stop-color="#4fcc80"/><stop offset=".672" stop-color="#03bbc2"/><stop offset=".689" stop-color="#14b0d8"/><stop offset=".713" stop-color="#20a4e3"/><stop offset=".843" stop-color="#2e86f7"/><stop offset=".997" stop-color="#2f82f9"/></linearGradient>
<linearGradient id="g84" gradientUnits="userSpaceOnUse" x1="0" y1="0" x2="0" y2="169"><stop offset=".003" stop-color="#4434cf"/><stop offset=".127" stop-color="#484ff2"/><stop offset=".234" stop-color="#3d71ff"/><stop offset=".435" stop-color="#259ce7"/><stop offset=".453" stop-color="#1da9e0"/><stop offset=".470" stop-color="#01b9c8"/><stop offset=".494" stop-color="#3eca8f"/><stop offset=".524" stop-color="#bfc32d"/><stop offset=".530" stop-color="#d4bf28"/><stop offset=".547" stop-color="#fabb3d"/><stop offset=".571" stop-color="#febd3c"/><stop offset=".589" stop-color="#e8bb2e"/><stop offset=".601" stop-color="#c9c129"/><stop offset=".612" stop-color="#9ec942"/><stop offset=".636" stop-color="#42ca8b"/><stop offset=".660" stop-color="#06bcc0"/><stop offset=".666" stop-color="#02b7cb"/><stop offset=".689" stop-color="#22a2e4"/><stop offset=".731" stop-color="#2d8cf3"/><stop offset=".914" stop-color="#2d8bf4"/><stop offset=".997" stop-color="#3080fb"/></linearGradient>
<linearGradient id="g85" gradientUnits="userSpaceOnUse" x1="0" y1="0" x2="0" y2="169"><stop offset=".003" stop-color="#4434cf"/><stop offset=".068" stop-color="#463de0"/><stop offset=".133" stop-color="#4853f5"/><stop offset=".216" stop-color="#3d71ff"/><stop offset=".429" stop-color="#2b92ee"/><stop offset=".459" stop-color="#1aabde"/><stop offset=".470" stop-color="#01b8c9"/><stop offset=".494" stop-color="#46cb87"/><stop offset=".518" stop-color="#bfc32d"/><stop offset=".524" stop-color="#d9be28"/><stop offset=".536" stop-color="#fcbc3d"/><stop offset=".565" stop-color="#f7db2a"/><stop offset=".595" stop-color="#fec537"/><stop offset=".607" stop-color="#f1ba37"/><stop offset=".618" stop-color="#cfc028"/><stop offset=".624" stop-color="#bac430"/><stop offset=".654" stop-color="#3fca8e"/><stop offset=".678" stop-color="#02bac3"/><stop offset=".695" stop-color="#19addc"/><stop offset=".737" stop-color="#2797eb"/><stop offset=".997" stop-color="#2d8af4"/></linearGradient>
<linearGradient id="g86" gradientUnits="userSpaceOnUse" x1="0" y1="0" x2="0" y2="169"><stop offset=".003" stop-color="#4434cf"/><stop offset=".109" stop-color="#4853f5"/><stop offset=".222" stop-color="#3c72ff"/><stop offset=".423" stop-color="#2c90f0"/><stop offset=".453" stop-color="#22a2e4"/><stop offset=".476" stop-color="#02bac5"/><stop offset=".500" stop-color="#47cb87"/><stop offset=".518" stop-color="#9ac945"/><stop offset=".530" stop-color="#ccc028"/><stop offset=".547" stop-color="#fabb3d"/><stop offset=".565" stop-color="#fec636"/><stop offset=".577" stop-color="#fec13a"/><stop offset=".589" stop-color="#f2ba37"/><stop offset=".601" stop-color="#cec028"/><stop offset=".607" stop-color="#b6c532"/><stop offset=".630" stop-color="#46cb88"/><stop offset=".654" stop-color="#01b9c6"/><stop offset=".678" stop-color="#22a2e4"/><stop offset=".737" stop-color="#2d8cf3"/><stop offset=".997" stop-color="#2c90f0"/></linearGradient>
<linearGradient id="g87" gradientUnits="userSpaceOnUse" x1="0" y1="0" x2="0" y2="169"><stop offset=".003" stop-color="#4434cf"/><stop offset=".027" stop-color="#4740e4"/><stop offset=".068" stop-color="#484ef1"/><stop offset=".222" stop-color="#3c71ff"/><stop offset=".405" stop-color="#2c8ef2"/><stop offset=".447" stop-color="#1da8e0"/><stop offset=".464" stop-color="#02bac5"/><stop offset=".488" stop-color="#46cb88"/><stop offset=".506" stop-color="#98c947"/><stop offset=".518" stop-color="#ccc028"/><stop offset=".536" stop-color="#fdbd3d"/><stop offset=".565" stop-color="#f9d72d"/><stop offset=".595" stop-color="#febf3c"/><stop offset=".612" stop-color="#d5be28"/><stop offset=".618" stop-color="#c0c32d"/><stop offset=".648" stop-color="#41ca8c"/><stop offset=".672" stop-color="#01bac5"/><stop offset=".695" stop-color="#21a3e3"/><stop offset=".754" stop-color="#2e86f7"/><stop offset=".997" stop-color="#2d8bf4"/></linearGradient>
<linearGradient id="g88" gradientUnits="userSpaceOnUse" x1="0" y1="0" x2="0" y2="169"><stop offset=".003" stop-color="#4434ce"/><stop offset=".050" stop-color="#4743e8"/><stop offset=".127" stop-color="#465dfb"/><stop offset=".210" stop-color="#3a74fe"/><stop offset=".358" stop-color="#317dfc"/><stop offset=".429" stop-color="#2d8df3"/><stop offset=".453" stop-color="#20a5e2"/><stop offset=".470" stop-color="#02bac4"/><stop offset=".494" stop-color="#52cc7e"/><stop offset=".512" stop-color="#acc738"/><stop offset=".518" stop-color="#c7c12a"/><stop offset=".530" stop-color="#efba35"/><stop offset=".536" stop-color="#fcbc3d"/><stop offset=".559" stop-color="#fbd22f"/><stop offset=".583" stop-color="#fec13a"/><stop offset=".589" stop-color="#f7ba3c"/><stop offset=".601" stop-color="#d2bf27"/><stop offset=".607" stop-color="#b8c431"/><stop offset=".630" stop-color="#42ca8b"/><stop offset=".642" stop-color="#24c1af"/><stop offset=".648" stop-color="#0abdbd"/><stop offset=".654" stop-color="#02b7cb"/><stop offset=".666" stop-color="#1baade"/><stop offset=".678" stop-color="#249ee6"/><stop offset=".749" stop-color="#2e83f9"/><stop offset=".997" stop-color="#2e86f7"/></linearGradient>
<linearGradient id="g89" gradientUnits="userSpaceOnUse" x1="0" y1="0" x2="0" y2="169"><stop offset=".003" stop-color="#4434ce"/><stop offset=".021" stop-color="#4332c9"/><stop offset=".109" stop-color="#4853f5"/><stop offset=".216" stop-color="#3c71ff"/><stop offset=".405" stop-color="#2d8af5"/><stop offset=".441" stop-color="#23a0e5"/><stop offset=".464" stop-color="#01b9c6"/><stop offset=".488" stop-color="#44cb8a"/><stop offset=".518" stop-color="#c6c22a"/><stop offset=".530" stop-color="#eaba31"/><stop offset=".541" stop-color="#febd3c"/><stop offset=".571" stop-color="#fec03a"/><stop offset=".583" stop-color="#f3ba38"/><stop offset=".595" stop-color="#d5be28"/><stop offset=".601" stop-color="#c0c32d"/><stop offset=".630" stop-color="#3fca8e"/><stop offset=".654" stop-color="#01b9c7"/><stop offset=".678" stop-color="#23a0e5"/><stop offset=".731" stop-color="#2e84f8"/><stop offset=".997" stop-color="#2f82fa"/></linearGradient>
<linearGradient id="g90" gradientUnits="userSpaceOnUse" x1="0" y1="0" x2="0" y2="169"><stop offset=".003" stop-color="#4434cf"/><stop offset=".086" stop-color="#484ff2"/><stop offset=".204" stop-color="#3d71ff"/><stop offset=".417" stop-color="#2d8bf4"/><stop offset=".459" stop-color="#1fa6e1"/><stop offset=".476" stop-color="#02bac4"/><stop offset=".500" stop-color="#52cc7e"/><stop offset=".524" stop-color="#c7c12a"/><stop offset=".530" stop-color="#ddbd29"/><stop offset=".541" stop-color="#fbbc3d"/><stop offset=".559" stop-color="#fec934"/><stop offset=".577" stop-color="#fec13a"/><stop offset=".589" stop-color="#f2ba38"/><stop offset=".601" stop-color="#d4bf27"/><stop offset=".607" stop-color="#bfc32d"/><stop offset=".636" stop-color="#44cb89"/><stop offset=".660" stop-color="#05bbc1"/><stop offset=".666" stop-color="#03b7cc"/><stop offset=".683" stop-color="#1ea7e1"/><stop offset=".731" stop-color="#2c90f0"/><stop offset=".861" stop-color="#2d8df2"/><stop offset=".997" stop-color="#249fe5"/></linearGradient>
<linearGradient id="g91" gradientUnits="userSpaceOnUse" x1="0" y1="0" x2="0" y2="169"><stop offset=".003" stop-color="#4434ce"/><stop offset=".115" stop-color="#4850f3"/><stop offset=".240" stop-color="#3d70ff"/><stop offset=".287" stop-color="#2f81fa"/><stop offset=".423" stop-color="#249fe6"/><stop offset=".441" stop-color="#1babde"/><stop offset=".459" stop-color="#01b9c6"/><stop offset=".488" stop-color="#4bcb83"/><stop offset=".518" stop-color="#c1c32c"/><stop offset=".530" stop-color="#e3bb2c"/><stop offset=".541" stop-color="#f8ba3d"/><stop offset=".565" stop-color="#febf3c"/><stop offset=".583" stop-color="#edba33"/><stop offset=".595" stop-color="#d0c027"/><stop offset=".601" stop-color="#bcc42f"/><stop offset=".630" stop-color="#44cb8a"/><stop offset=".654" stop-color="#04bbc2"/><stop offset=".683" stop-color="#249fe5"/><stop offset=".737" stop-color="#2d88f6"/><stop offset=".873" stop-color="#2e86f7"/><stop offset=".997" stop-color="#2a92ee"/></linearGradient>
<linearGradient id="g92" gradientUnits="userSpaceOnUse" x1="0" y1="0" x2="0" y2="169"><stop offset=".003" stop-color="#4434ce"/><stop offset=".068" stop-color="#484ef1"/><stop offset=".240" stop-color="#3d71ff"/><stop offset=".287" stop-color="#2f81fa"/><stop offset=".411" stop-color="#2a93ee"/><stop offset=".441" stop-color="#1fa6e2"/><stop offset=".459" stop-color="#04b6cc"/><stop offset=".464" stop-color="#05bbc1"/><stop offset=".488" stop-color="#45cb89"/><stop offset=".518" stop-color="#c2c22c"/><stop offset=".524" stop-color="#d6be28"/><stop offset=".541" stop-color="#fbbc3d"/><stop offset=".571" stop-color="#fec13a"/><stop offset=".583" stop-color="#f4ba39"/><stop offset=".595" stop-color="#d7be28"/><stop offset=".601" stop-color="#c3c22b"/><stop offset=".630" stop-color="#46cb88"/><stop offset=".654" stop-color="#03bbc2"/><stop offset=".678" stop-color="#1ea7e1"/><stop offset=".719" stop-color="#2994ed"/><stop offset=".997" stop-color="#2f81fa"/></linearGradient>
<linearGradient id="g93" gradientUnits="userSpaceOnUse" x1="0" y1="0" x2="0" y2="169"><stop offset=".003" stop-color="#4434d0"/><stop offset=".021" stop-color="#4741e5"/><stop offset=".050" stop-color="#484cf0"/><stop offset=".210" stop-color="#3c71ff"/><stop offset=".382" stop-color="#2c8ef1"/><stop offset=".429" stop-color="#249fe6"/><stop offset=".447" stop-color="#19addc"/><stop offset=".459" stop-color="#02b7cb"/><stop offset=".464" stop-color="#06bcc0"/><stop offset=".488" stop-color="#47cb87"/><stop offset=".518" stop-color="#c3c22b"/><stop offset=".524" stop-color="#d7be28"/><stop offset=".536" stop-color="#f4ba39"/><stop offset=".559" stop-color="#fec835"/><stop offset=".577" stop-color="#fec03b"/><stop offset=".583" stop-color="#f9bb3d"/><stop offset=".595" stop-color="#d9bd28"/><stop offset=".607" stop-color="#a6c73c"/><stop offset=".624" stop-color="#4bcb83"/><stop offset=".648" stop-color="#01b9c8"/><stop offset=".666" stop-color="#21a3e3"/><stop offset=".707" stop-color="#2e84f8"/><stop offset=".885" stop-color="#3b72ff"/><stop offset=".997" stop-color="#3579fd"/></linearGradient>
<linearGradient id="g94" gradientUnits="userSpaceOnUse" x1="0" y1="0" x2="0" y2="169"><stop offset=".003" stop-color="#4434ce"/><stop offset=".104" stop-color="#484cf0"/><stop offset=".234" stop-color="#3d70ff"/><stop offset=".429" stop-color="#269ae9"/><stop offset=".453" stop-color="#19acdd"/><stop offset=".464" stop-color="#02b7cb"/><stop offset=".470" stop-color="#08bcbf"/><stop offset=".488" stop-color="#3bc993"/><stop offset=".518" stop-color="#bec32e"/><stop offset=".524" stop-color="#d5be28"/><stop offset=".536" stop-color="#f6ba3c"/><stop offset=".565" stop-color="#fcd030"/><stop offset=".589" stop-color="#febe3c"/><stop offset=".607" stop-color="#d4bf27"/><stop offset=".612" stop-color="#bec32e"/><stop offset=".642" stop-color="#3eca8f"/><stop offset=".666" stop-color="#01b9c7"/><stop offset=".689" stop-color="#20a4e3"/><stop offset=".731" stop-color="#2b92ee"/><stop offset=".997" stop-color="#2d8df2"/></linearGradient>
<linearGradient id="g95" gradientUnits="userSpaceOnUse" x1="0" y1="0" x2="0" y2="169"><stop offset=".003" stop-color="#4434d0"/><stop offset=".086" stop-color="#4850f3"/><stop offset=".216" stop-color="#3c71ff"/><stop offset=".393" stop-color="#2b91ef"/><stop offset=".429" stop-color="#23a1e4"/><stop offset=".459" stop-color="#02bac5"/><stop offset=".482" stop-color="#45cb89"/><stop offset=".506" stop-color="#b2c534"/><stop offset=".518" stop-color="#e0bc2a"/><stop offset=".530" stop-color="#febd3c"/><stop offset=".553" stop-color="#f8d92c"/><stop offset=".565" stop-color="#f8d92c"/><stop offset=".583" stop-color="#fec636"/><stop offset=".589" stop-color="#fdbd3d"/><stop offset=".595" stop-color="#efba35"/><stop offset=".607" stop-color="#c4c22b"/><stop offset=".630" stop-color="#50cc80"/><stop offset=".654" stop-color="#06bcc0"/><stop offset=".660" stop-color="#03b7cc"/><stop offset=".672" stop-color="#19addc"/><stop offset=".701" stop-color="#249de7"/><stop offset=".997" stop-color="#2c8ef2"/></linearGradient>
<linearGradient id="g96" gradientUnits="userSpaceOnUse" x1="0" y1="0" x2="0" y2="169"><stop offset=".003" stop-color="#4434cf"/><stop offset=".074" stop-color="#484bef"/><stop offset=".186" stop-color="#465efb"/><stop offset=".240" stop-color="#3b72ff"/><stop offset=".405" stop-color="#2c90f0"/><stop offset=".441" stop-color="#19addc"/><stop offset=".453" stop-color="#01b9c8"/><stop offset=".476" stop-color="#3eca8f"/><stop offset=".506" stop-color="#bdc32e"/><stop offset=".512" stop-color="#d3bf27"/><stop offset=".524" stop-color="#f3ba39"/><stop offset=".530" stop-color="#fdbd3d"/><stop offset=".553" stop-color="#fcd12f"/><stop offset=".577" stop-color="#fec239"/><stop offset=".583" stop-color="#f8ba3d"/><stop offset=".589" stop-color="#e8bb2f"/><stop offset=".595" stop-color="#d3bf27"/><stop offset=".601" stop-color="#bac430"/><stop offset=".624" stop-color="#43ca8a"/><stop offset=".642" stop-color="#0abdbd"/><stop offset=".648" stop-color="#01b7ca"/><stop offset=".666" stop-color="#20a5e2"/><stop offset=".707" stop-color="#2c8ff1"/><stop offset=".997" stop-color="#307ffb"/></linearGradient>
<linearGradient id="g97" gradientUnits="userSpaceOnUse" x1="0" y1="0" x2="0" y2="169"><stop offset=".003" stop-color="#4434cf"/><stop offset=".050" stop-color="#473ee2"/><stop offset=".163" stop-color="#4854f6"/><stop offset=".240" stop-color="#3c71ff"/><stop offset=".287" stop-color="#2f80fa"/><stop offset=".423" stop-color="#2895ec"/><stop offset=".453" stop-color="#1da8e0"/><stop offset=".470" stop-color="#02bac5"/><stop offset=".494" stop-color="#49cb85"/><stop offset=".518" stop-color="#bbc42f"/><stop offset=".524" stop-color="#d3bf27"/><stop offset=".536" stop-color="#f6ba3b"/><stop offset=".559" stop-color="#feca33"/><stop offset=".583" stop-color="#febd3c"/><stop offset=".607" stop-color="#cac129"/><stop offset=".618" stop-color="#9ec942"/><stop offset=".642" stop-color="#40ca8d"/><stop offset=".654" stop-color="#29c3aa"/><stop offset=".666" stop-color="#03bbc2"/><stop offset=".689" stop-color="#1fa6e2"/><stop offset=".737" stop-color="#2d8af5"/><stop offset=".997" stop-color="#3a73fe"/></linearGradient>
<linearGradient id="g98" gradientUnits="userSpaceOnUse" x1="0" y1="0" x2="0" y2="169"><stop offset=".003" stop-color="#4434d0"/><stop offset=".021" stop-color="#4742e7"/><stop offset=".062" stop-color="#4853f5"/><stop offset=".216" stop-color="#3c72ff"/><stop offset=".417" stop-color="#259de7"/><stop offset=".441" stop-color="#1caadf"/><stop offset=".459" stop-color="#01b8c9"/><stop offset=".464" stop-color="#08bcbe"/><stop offset=".488" stop-color="#4bcb84"/><stop offset=".518" stop-color="#c6c22a"/><stop offset=".541" stop-color="#fcbc3d"/><stop offset=".565" stop-color="#fec03a"/><stop offset=".577" stop-color="#f7ba3c"/><stop offset=".595" stop-color="#ccc028"/><stop offset=".607" stop-color="#9fc941"/><stop offset=".630" stop-color="#3eca8f"/><stop offset=".654" stop-color="#01bac5"/><stop offset=".678" stop-color="#22a2e4"/><stop offset=".701" stop-color="#2c8ef1"/><stop offset=".743" stop-color="#2f81fa"/><stop offset=".997" stop-color="#2d8bf4"/></linearGradient>
<linearGradient id="g99" gradientUnits="userSpaceOnUse" x1="0" y1="0" x2="0" y2="169"><stop offset=".003" stop-color="#4434cf"/><stop offset=".127" stop-color="#4853f5"/><stop offset=".234" stop-color="#3c71ff"/><stop offset=".435" stop-color="#249fe5"/><stop offset=".453" stop-color="#17aeda"/><stop offset=".464" stop-color="#01b9c7"/><stop offset=".488" stop-color="#40ca8d"/><stop offset=".518" stop-color="#c5c22a"/><stop offset=".524" stop-color="#dabd28"/><stop offset=".536" stop-color="#f9bb3d"/><stop offset=".559" stop-color="#fdce31"/><stop offset=".583" stop-color="#fec338"/><stop offset=".595" stop-color="#f3ba39"/><stop offset=".607" stop-color="#d4be28"/><stop offset=".612" stop-color="#c0c32d"/><stop offset=".642" stop-color="#45cb88"/><stop offset=".666" stop-color="#04bbc1"/><stop offset=".672" stop-color="#04b6cd"/><stop offset=".683" stop-color="#1babde"/><stop offset=".719" stop-color="#2d8df2"/><stop offset=".749" stop-color="#2e83f9"/><stop offset=".997" stop-color="#2d89f5"/></linearGradient>
<linearGradient id="g100" gradientUnits="userSpaceOnUse" x1="0" y1="0" x2="0" y2="169"><stop offset=".003" stop-color="#4434ce"/><stop offset=".021" stop-color="#4230c4"/><stop offset=".121" stop-color="#484ff2"/><stop offset=".228" stop-color="#3c72ff"/><stop offset=".429" stop-color="#2a93ee"/><stop offset=".453" stop-color="#1fa6e2"/><stop offset=".470" stop-color="#01b8c9"/><stop offset=".494" stop-color="#3dc990"/><stop offset=".518" stop-color="#a3c83f"/><stop offset=".530" stop-color="#d2bf27"/><stop offset=".547" stop-color="#fabc3d"/><stop offset=".577" stop-color="#fec13a"/><stop offset=".589" stop-color="#f4ba3a"/><stop offset=".601" stop-color="#d8be28"/><stop offset=".607" stop-color="#c5c22a"/><stop offset=".636" stop-color="#4acb84"/><stop offset=".666" stop-color="#01b8c9"/><stop offset=".678" stop-color="#17aeda"/><stop offset=".695" stop-color="#23a1e5"/><stop offset=".849" stop-color="#3479fd"/><stop offset=".997" stop-color="#2e84f9"/></linearGradient>
<linearGradient id="g101" gradientUnits="userSpaceOnUse" x1="0" y1="0" x2="0" y2="169"><stop offset=".003" stop-color="#4434ce"/><stop offset=".027" stop-color="#412cb8"/><stop offset=".098" stop-color="#484bef"/><stop offset=".216" stop-color="#3c72ff"/><stop offset=".423" stop-color="#2b92ee"/><stop offset=".453" stop-color="#1fa6e2"/><stop offset=".470" stop-color="#01b8c9"/><stop offset=".494" stop-color="#42ca8b"/><stop offset=".518" stop-color="#b1c635"/><stop offset=".524" stop-color="#cac129"/><stop offset=".541" stop-color="#fabb3d"/><stop offset=".559" stop-color="#fec835"/><stop offset=".577" stop-color="#fec239"/><stop offset=".589" stop-color="#f5ba3a"/><stop offset=".607" stop-color="#c8c129"/><stop offset=".618" stop-color="#9bc944"/><stop offset=".642" stop-color="#3eca90"/><stop offset=".666" stop-color="#02bac4"/><stop offset=".683" stop-color="#1babde"/><stop offset=".701" stop-color="#269ae8"/><stop offset=".754" stop-color="#2e85f8"/><stop offset=".879" stop-color="#3479fd"/><stop offset=".997" stop-color="#2d88f6"/></linearGradient>
<linearGradient id="g102" gradientUnits="userSpaceOnUse" x1="0" y1="0" x2="0" y2="169"><stop offset=".003" stop-color="#4434d0"/><stop offset=".050" stop-color="#4849ed"/><stop offset=".109" stop-color="#465efb"/><stop offset=".210" stop-color="#3777fe"/><stop offset=".364" stop-color="#3080fb"/><stop offset=".429" stop-color="#2c8ff0"/><stop offset=".453" stop-color="#1ea7e1"/><stop offset=".470" stop-color="#02bbc3"/><stop offset=".494" stop-color="#50cc80"/><stop offset=".518" stop-color="#c2c22c"/><stop offset=".530" stop-color="#ebba31"/><stop offset=".541" stop-color="#fec03b"/><stop offset=".559" stop-color="#feca33"/><stop offset=".577" stop-color="#fec239"/><stop offset=".589" stop-color="#f4ba39"/><stop offset=".607" stop-color="#c5c22a"/><stop offset=".642" stop-color="#3dca90"/><stop offset=".666" stop-color="#03bbc3"/><stop offset=".689" stop-color="#1ea7e1"/><stop offset=".749" stop-color="#2d8df2"/><stop offset=".837" stop-color="#2e84f8"/><stop offset=".997" stop-color="#2d8af5"/></linearGradient>
<linearGradient id="g103" gradientUnits="userSpaceOnUse" x1="0" y1="0" x2="0" y2="169"><stop offset=".003" stop-color="#4434cf"/><stop offset=".104" stop-color="#4854f6"/><stop offset=".222" stop-color="#3c71ff"/><stop offset=".411" stop-color="#2c8ff1"/><stop offset=".453" stop-color="#1ca9df"/><stop offset=".470" stop-color="#04bbc1"/><stop offset=".494" stop-color="#50cc80"/><stop offset=".518" stop-color="#c0c32d"/><stop offset=".530" stop-color="#e8bb2f"/><stop offset=".541" stop-color="#fdbd3d"/><stop offset=".571" stop-color="#fec03b"/><stop offset=".583" stop-color="#f4ba39"/><stop offset=".601" stop-color="#c8c129"/><stop offset=".636" stop-color="#42ca8c"/><stop offset=".666" stop-color="#01b8ca"/><stop offset=".689" stop-color="#21a4e3"/><stop offset=".731" stop-color="#2c90f0"/><stop offset=".891" stop-color="#2699e9"/><stop offset=".997" stop-color="#2c90f0"/></linearGradient>
<linearGradient id="g104" gradientUnits="userSpaceOnUse" x1="0" y1="0" x2="0" y2="169"><stop offset=".003" stop-color="#4434cf"/><stop offset=".021" stop-color="#4433cc"/><stop offset=".121" stop-color="#4853f5"/><stop offset=".228" stop-color="#3c71ff"/><stop offset=".429" stop-color="#259de7"/><stop offset=".453" stop-color="#19addc"/><stop offset=".464" stop-color="#03b7cb"/><stop offset=".470" stop-color="#06bcc1"/><stop offset=".494" stop-color="#46cb88"/><stop offset=".524" stop-color="#c2c22c"/><stop offset=".530" stop-color="#d5be28"/><stop offset=".541" stop-color="#f0ba36"/><stop offset=".559" stop-color="#fdbd3d"/><stop offset=".577" stop-color="#f2ba37"/><stop offset=".595" stop-color="#c9c129"/><stop offset=".607" stop-color="#9dc943"/><stop offset=".630" stop-color="#3fca8e"/><stop offset=".642" stop-color="#29c3aa"/><stop offset=".654" stop-color="#04bbc1"/><stop offset=".660" stop-color="#03b7cc"/><stop offset=".678" stop-color="#1da8e0"/><stop offset=".719" stop-color="#2895ec"/><stop offset=".997" stop-color="#2e85f8"/></linearGradient>
<linearGradient id="g105" gradientUnits="userSpaceOnUse" x1="0" y1="0" x2="0" y2="169"><stop offset=".003" stop-color="#4434cf"/><stop offset=".127" stop-color="#4853f5"/><stop offset=".234" stop-color="#3b72ff"/><stop offset=".423" stop-color="#249fe5"/><stop offset=".447" stop-color="#18addb"/><stop offset=".459" stop-color="#02b7cb"/><stop offset=".464" stop-color="#07bcc0"/><stop offset=".482" stop-color="#3bc993"/><stop offset=".512" stop-color="#c4c22b"/><stop offset=".518" stop-color="#dbbd29"/><stop offset=".530" stop-color="#fcbd3d"/><stop offset=".559" stop-color="#f7db2a"/><stop offset=".589" stop-color="#febe3c"/><stop offset=".607" stop-color="#cac129"/><stop offset=".612" stop-color="#b1c636"/><stop offset=".636" stop-color="#40ca8d"/><stop offset=".660" stop-color="#01b8c8"/><stop offset=".683" stop-color="#21a3e3"/><stop offset=".731" stop-color="#2d8df2"/><stop offset=".825" stop-color="#327bfc"/><stop offset=".997" stop-color="#3578fd"/></linearGradient>
<linearGradient id="g106" gradientUnits="userSpaceOnUse" x1="0" y1="0" x2="0" y2="169"><stop offset=".003" stop-color="#4434ce"/><stop offset=".021" stop-color="#4330c5"/><stop offset=".121" stop-color="#484ef1"/><stop offset=".234" stop-color="#3c71ff"/><stop offset=".429" stop-color="#249ee6"/><stop offset=".447" stop-color="#1caadf"/><stop offset=".464" stop-color="#02bac5"/><stop offset=".482" stop-color="#3ac993"/><stop offset=".506" stop-color="#bbc430"/><stop offset=".512" stop-color="#d7be28"/><stop offset=".524" stop-color="#febe3c"/><stop offset=".541" stop-color="#f6e028"/><stop offset=".559" stop-color="#f5ea24"/><stop offset=".595" stop-color="#f9bb3d"/><stop offset=".607" stop-color="#d0c027"/><stop offset=".612" stop-color="#b4c533"/><stop offset=".636" stop-color="#3eca8f"/><stop offset=".654" stop-color="#08bcbf"/><stop offset=".660" stop-color="#02b7cb"/><stop offset=".678" stop-color="#1fa6e2"/><stop offset=".719" stop-color="#2b91ef"/><stop offset=".997" stop-color="#3a74fe"/></linearGradient>
<linearGradient id="g107" gradientUnits="userSpaceOnUse" x1="0" y1="0" x2="0" y2="169"><stop offset=".003" stop-color="#4434ce"/><stop offset=".092" stop-color="#484ef1"/><stop offset=".228" stop-color="#3c71ff"/><stop offset=".405" stop-color="#2797eb"/><stop offset=".441" stop-color="#1baade"/><stop offset=".459" stop-color="#02bac4"/><stop offset=".482" stop-color="#51cc7f"/><stop offset=".500" stop-color="#b2c635"/><stop offset=".506" stop-color="#cec028"/><stop offset=".518" stop-color="#f9bb3d"/><stop offset=".553" stop-color="#f5ee21"/><stop offset=".571" stop-color="#f5e725"/><stop offset=".589" stop-color="#fec636"/><stop offset=".595" stop-color="#f9bb3d"/><stop offset=".607" stop-color="#cac129"/><stop offset=".612" stop-color="#aac73a"/><stop offset=".630" stop-color="#44cb8a"/><stop offset=".648" stop-color="#05bbc1"/><stop offset=".654" stop-color="#06b5cf"/><stop offset=".666" stop-color="#1ea7e1"/><stop offset=".689" stop-color="#2b92ee"/><stop offset=".719" stop-color="#2d8af5"/><stop offset=".997" stop-color="#2d88f6"/></linearGradient>
<linearGradient id="g108" gradientUnits="userSpaceOnUse" x1="0" y1="0" x2="0" y2="169"><stop offset=".003" stop-color="#4434ce"/><stop offset=".092" stop-color="#4850f3"/><stop offset=".228" stop-color="#3c71ff"/><stop offset=".405" stop-color="#2c8ff1"/><stop offset=".441" stop-color="#22a2e4"/><stop offset=".464" stop-color="#02bac4"/><stop offset=".488" stop-color="#4acb84"/><stop offset=".512" stop-color="#bcc42f"/><stop offset=".518" stop-color="#d4bf28"/><stop offset=".530" stop-color="#f7ba3c"/><stop offset=".553" stop-color="#fcd030"/><stop offset=".577" stop-color="#fec338"/><stop offset=".583" stop-color="#fbbc3d"/><stop offset=".589" stop-color="#edba33"/><stop offset=".595" stop-color="#d9be28"/><stop offset=".601" stop-color="#c1c32c"/><stop offset=".624" stop-color="#49cb85"/><stop offset=".648" stop-color="#01b9c7"/><stop offset=".660" stop-color="#19acdc"/><stop offset=".678" stop-color="#269be8"/><stop offset=".737" stop-color="#2d88f6"/><stop offset=".997" stop-color="#2896ec"/></linearGradient>
<linearGradient id="g109" gradientUnits="userSpaceOnUse" x1="0" y1="0" x2="0" y2="169"><stop offset=".003" stop-color="#4434cf"/><stop offset=".074" stop-color="#4747ec"/><stop offset=".240" stop-color="#3c72ff"/><stop offset=".447" stop-color="#249ee6"/><stop offset=".464" stop-color="#18aedb"/><stop offset=".476" stop-color="#01b9c6"/><stop offset=".500" stop-color="#4fcc80"/><stop offset=".518" stop-color="#afc636"/><stop offset=".524" stop-color="#ccc028"/><stop offset=".536" stop-color="#f6ba3b"/><stop offset=".541" stop-color="#fec13a"/><stop offset=".565" stop-color="#fad62d"/><stop offset=".589" stop-color="#fec13a"/><stop offset=".595" stop-color="#f9ba3d"/><stop offset=".601" stop-color="#eabb30"/><stop offset=".612" stop-color="#c0c32d"/><stop offset=".636" stop-color="#50cc7f"/><stop offset=".660" stop-color="#05bbc1"/><stop offset=".666" stop-color="#04b6cd"/><stop offset=".678" stop-color="#1caadf"/><stop offset=".701" stop-color="#2a93ee"/><stop offset=".772" stop-color="#327bfc"/><stop offset=".997" stop-color="#2d8cf3"/></linearGradient>
<linearGradient id="g110" gradientUnits="userSpaceOnUse" x1="0" y1="0" x2="0" y2="169"><stop offset=".003" stop-color="#4434d0"/><stop offset=".062" stop-color="#484aee"/><stop offset=".222" stop-color="#3c72ff"/><stop offset=".429" stop-color="#1ea8e1"/><stop offset=".459" stop-color="#01b9c8"/><stop offset=".482" stop-color="#3eca8f"/><stop offset=".506" stop-color="#b6c533"/><stop offset=".512" stop-color="#d1bf27"/><stop offset=".524" stop-color="#fabb3d"/><stop offset=".547" stop-color="#f5e526"/><stop offset=".559" stop-color="#f5ee21"/><stop offset=".577" stop-color="#f5e626"/><stop offset=".595" stop-color="#fec835"/><stop offset=".601" stop-color="#fbbc3d"/><stop offset=".607" stop-color="#e9bb30"/><stop offset=".612" stop-color="#d1bf27"/><stop offset=".618" stop-color="#b4c534"/><stop offset=".636" stop-color="#50cc80"/><stop offset=".660" stop-color="#01b8c9"/><stop offset=".672" stop-color="#1baade"/><stop offset=".683" stop-color="#259ce7"/><stop offset=".743" stop-color="#2f80fa"/><stop offset=".997" stop-color="#2c90f0"/></linearGradient>
<linearGradient id="g111" gradientUnits="userSpaceOnUse" x1="0" y1="0" x2="0" y2="169"><stop offset=".003" stop-color="#4435d0"/><stop offset=".027" stop-color="#4744e8"/><stop offset=".074" stop-color="#4756f7"/><stop offset=".240" stop-color="#3677fe"/><stop offset=".417" stop-color="#2798ea"/><stop offset=".447" stop-color="#1babde"/><stop offset=".464" stop-color="#03bbc2"/><stop offset=".488" stop-color="#50cc80"/><stop offset=".512" stop-color="#c6c22a"/><stop offset=".530" stop-color="#febe3c"/><stop offset=".559" stop-color="#f5e228"/><stop offset=".577" stop-color="#f8da2b"/><stop offset=".595" stop-color="#febf3c"/><stop offset=".612" stop-color="#c6c22a"/><stop offset=".636" stop-color="#4ccb82"/><stop offset=".660" stop-color="#01b9c6"/><stop offset=".683" stop-color="#249ee6"/><stop offset=".737" stop-color="#2f80fa"/><stop offset=".997" stop-color="#307ffb"/></linearGradient>
<linearGradient id="g112" gradientUnits="userSpaceOnUse" x1="0" y1="0" x2="0" y2="169"><stop offset=".003" stop-color="#4434cf"/><stop offset=".133" stop-color="#4759f9"/><stop offset=".216" stop-color="#3b72ff"/><stop offset=".435" stop-color="#2a93ed"/><stop offset=".459" stop-color="#1fa5e2"/><stop offset=".476" stop-color="#01b9c6"/><stop offset=".494" stop-color="#3bc992"/><stop offset=".518" stop-color="#b7c532"/><stop offset=".524" stop-color="#d2bf27"/><stop offset=".536" stop-color="#f9bb3d"/><stop offset=".559" stop-color="#fcd12f"/><stop offset=".583" stop-color="#febe3c"/><stop offset=".601" stop-color="#cec028"/><stop offset=".607" stop-color="#b5c533"/><stop offset=".630" stop-color="#40ca8d"/><stop offset=".648" stop-color="#08bcbf"/><stop offset=".654" stop-color="#04b6cd"/><stop offset=".666" stop-color="#1da8e0"/><stop offset=".683" stop-color="#2a93ee"/><stop offset=".713" stop-color="#317dfb"/><stop offset=".749" stop-color="#3776fe"/><stop offset=".849" stop-color="#3d70ff"/><stop offset=".997" stop-color="#2f82fa"/></linearGradient>
<linearGradient id="g113" gradientUnits="userSpaceOnUse" x1="0" y1="0" x2="0" y2="169"><stop offset=".003" stop-color="#4434cf"/><stop offset=".109" stop-color="#4853f5"/><stop offset=".204" stop-color="#3c72ff"/><stop offset=".417" stop-color="#2b91ef"/><stop offset=".453" stop-color="#1da9e0"/><stop offset=".470" stop-color="#04bbc2"/><stop offset=".488" stop-color="#3dc990"/><stop offset=".512" stop-color="#b6c532"/><stop offset=".518" stop-color="#d1bf27"/><stop offset=".530" stop-color="#f9ba3d"/><stop offset=".559" stop-color="#f6dd29"/><stop offset=".577" stop-color="#f9d62d"/><stop offset=".595" stop-color="#febe3c"/><stop offset=".612" stop-color="#cec028"/><stop offset=".618" stop-color="#b6c532"/><stop offset=".642" stop-color="#49cb86"/><stop offset=".666" stop-color="#03bbc3"/><stop offset=".689" stop-color="#21a3e3"/><stop offset=".743" stop-color="#2f82f9"/><stop offset=".831" stop-color="#3875fe"/><stop offset=".997" stop-color="#307ffb"/></linearGradient>
<linearGradient id="g114" gradientUnits="userSpaceOnUse" x1="0" y1="0" x2="0" y2="169"><stop offset=".003" stop-color="#4434cf"/><stop offset=".027" stop-color="#473fe3"/><stop offset=".068" stop-color="#484df1"/><stop offset=".216" stop-color="#3c72ff"/><stop offset=".305" stop-color="#2e83f9"/><stop offset=".435" stop-color="#2b91ef"/><stop offset=".464" stop-color="#1da9e0"/><stop offset=".476" stop-color="#02b7cb"/><stop offset=".482" stop-color="#0cbdbc"/><stop offset=".500" stop-color="#4ecc81"/><stop offset=".518" stop-color="#b4c534"/><stop offset=".524" stop-color="#d1bf27"/><stop offset=".536" stop-color="#fbbc3d"/><stop offset=".553" stop-color="#f9d62d"/><stop offset=".565" stop-color="#f7db2b"/><stop offset=".595" stop-color="#fec03a"/><stop offset=".601" stop-color="#f8ba3d"/><stop offset=".612" stop-color="#d8be28"/><stop offset=".618" stop-color="#c3c22b"/><stop offset=".648" stop-color="#48cb86"/><stop offset=".678" stop-color="#01b8c9"/><stop offset=".701" stop-color="#1fa6e2"/><stop offset=".754" stop-color="#2b92ee"/><stop offset=".855" stop-color="#2e84f8"/><stop offset=".997" stop-color="#2e83f9"/></linearGradient>
<linearGradient id="g115" gradientUnits="userSpaceOnUse" x1="0" y1="0" x2="0" y2="169"><stop offset=".003" stop-color="#4434ce"/><stop offset=".021" stop-color="#422fc1"/><stop offset=".115" stop-color="#484ff2"/><stop offset=".240" stop-color="#3c72ff"/><stop offset=".399" stop-color="#23a1e5"/><stop offset=".423" stop-color="#1aacdd"/><stop offset=".441" stop-color="#02b7cb"/><stop offset=".447" stop-color="#05bbc1"/><stop offset=".470" stop-color="#43ca8a"/><stop offset=".494" stop-color="#b2c635"/><stop offset=".500" stop-color="#cbc129"/><stop offset=".518" stop-color="#febf3b"/><stop offset=".541" stop-color="#f5e725"/><stop offset=".559" stop-color="#f6f11f"/><stop offset=".577" stop-color="#f5e626"/><stop offset=".595" stop-color="#fec735"/><stop offset=".601" stop-color="#fbbc3d"/><stop offset=".607" stop-color="#ebba31"/><stop offset=".612" stop-color="#d5be28"/><stop offset=".618" stop-color="#bac430"/><stop offset=".642" stop-color="#42ca8c"/><stop offset=".666" stop-color="#01b8c9"/><stop offset=".683" stop-color="#1ea7e1"/><stop offset=".725" stop-color="#2a93ed"/><stop offset=".926" stop-color="#2e85f8"/><stop offset=".997" stop-color="#2d8af4"/></linearGradient>
<linearGradient id="g116" gradientUnits="userSpaceOnUse" x1="0" y1="0" x2="0" y2="169"><stop offset=".003" stop-color="#4434cd"/><stop offset=".027" stop-color="#402ab3"/><stop offset=".115" stop-color="#484df0"/><stop offset=".222" stop-color="#3c72ff"/><stop offset=".405" stop-color="#2c90f0"/><stop offset=".441" stop-color="#1ea8e1"/><stop offset=".459" stop-color="#01b9c7"/><stop offset=".482" stop-color="#42ca8b"/><stop offset=".512" stop-color="#c8c129"/><stop offset=".530" stop-color="#fbbc3d"/><stop offset=".559" stop-color="#fad52d"/><stop offset=".583" stop-color="#fec438"/><stop offset=".595" stop-color="#efba35"/><stop offset=".607" stop-color="#c9c129"/><stop offset=".636" stop-color="#41ca8c"/><stop offset=".660" stop-color="#01b9c8"/><stop offset=".683" stop-color="#23a0e5"/><stop offset=".713" stop-color="#2d8df2"/><stop offset=".997" stop-color="#317dfc"/></linearGradient>
<linearGradient id="g117" gradientUnits="userSpaceOnUse" x1="0" y1="0" x2="0" y2="169"><stop offset=".003" stop-color="#4434d0"/><stop offset=".021" stop-color="#473fe3"/><stop offset=".068" stop-color="#4850f3"/><stop offset=".216" stop-color="#3c71ff"/><stop offset=".388" stop-color="#2c90f0"/><stop offset=".429" stop-color="#20a5e3"/><stop offset=".453" stop-color="#02bac5"/><stop offset=".476" stop-color="#47cb87"/><stop offset=".500" stop-color="#b9c430"/><stop offset=".506" stop-color="#d2bf27"/><stop offset=".518" stop-color="#f8ba3d"/><stop offset=".553" stop-color="#f5e427"/><stop offset=".571" stop-color="#f7dd2a"/><stop offset=".589" stop-color="#fec03b"/><stop offset=".595" stop-color="#f2ba38"/><stop offset=".601" stop-color="#debd29"/><stop offset=".607" stop-color="#c4c22a"/><stop offset=".630" stop-color="#48cb86"/><stop offset=".654" stop-color="#01b8ca"/><stop offset=".672" stop-color="#20a4e3"/><stop offset=".719" stop-color="#2d8af4"/><stop offset=".997" stop-color="#2c8ff0"/></linearGradient>
<linearGradient id="g118" gradientUnits="userSpaceOnUse" x1="0" y1="0" x2="0" y2="169"><stop offset=".003" stop-color="#4434cf"/><stop offset=".062" stop-color="#484df1"/><stop offset=".169" stop-color="#3c71ff"/><stop offset=".429" stop-color="#2c8ff0"/><stop offset=".459" stop-color="#1ca9df"/><stop offset=".470" stop-color="#03b7cc"/><stop offset=".476" stop-color="#08bcbf"/><stop offset=".494" stop-color="#3fca8e"/><stop offset=".512" stop-color="#95ca49"/><stop offset=".524" stop-color="#ccc028"/><stop offset=".541" stop-color="#fcbc3d"/><stop offset=".559" stop-color="#fec834"/><stop offset=".577" stop-color="#fec03a"/><stop offset=".589" stop-color="#efba35"/><stop offset=".601" stop-color="#cdc028"/><stop offset=".607" stop-color="#b7c532"/><stop offset=".630" stop-color="#4fcc80"/><stop offset=".660" stop-color="#01b8c8"/><stop offset=".683" stop-color="#20a5e2"/><stop offset=".725" stop-color="#2a93ed"/><stop offset=".802" stop-color="#2d89f5"/><stop offset=".997" stop-color="#2d8af4"/></linearGradient>
<linearGradient id="g119" gradientUnits="userSpaceOnUse" x1="0" y1="0" x2="0" y2="169"><stop offset=".003" stop-color="#4434cf"/><stop offset=".021" stop-color="#463ee1"/><stop offset=".062" stop-color="#4849ed"/><stop offset=".234" stop-color="#3d71ff"/><stop offset=".281" stop-color="#307efb"/><stop offset=".423" stop-color="#2c90f0"/><stop offset=".453" stop-color="#1fa6e2"/><stop offset=".470" stop-color="#01b9c8"/><stop offset=".494" stop-color="#44cb89"/><stop offset=".518" stop-color="#b4c534"/><stop offset=".524" stop-color="#ccc028"/><stop offset=".536" stop-color="#f1ba37"/><stop offset=".541" stop-color="#fcbc3d"/><stop offset=".559" stop-color="#fdcc32"/><stop offset=".583" stop-color="#fec239"/><stop offset=".595" stop-color="#f2ba38"/><stop offset=".607" stop-color="#d2bf27"/><stop offset=".612" stop-color="#bdc32e"/><stop offset=".642" stop-color="#42ca8b"/><stop offset=".666" stop-color="#04bbc1"/><stop offset=".672" stop-color="#03b7cc"/><stop offset=".689" stop-color="#1da9e0"/><stop offset=".719" stop-color="#269ae9"/><stop offset=".997" stop-color="#2e83f9"/></linearGradient>
<linearGradient id="g120" gradientUnits="userSpaceOnUse" x1="0" y1="0" x2="0" y2="169"><stop offset=".003" stop-color="#4434cf"/><stop offset=".021" stop-color="#4332ca"/><stop offset=".080" stop-color="#4747ec"/><stop offset=".151" stop-color="#4660fc"/><stop offset=".269" stop-color="#337bfd"/><stop offset=".399" stop-color="#337bfd"/><stop offset=".429" stop-color="#2e83f9"/><stop offset=".459" stop-color="#23a1e4"/><stop offset=".476" stop-color="#01b8c9"/><stop offset=".500" stop-color="#4acb84"/><stop offset=".524" stop-color="#c1c32c"/><stop offset=".530" stop-color="#d8be28"/><stop offset=".541" stop-color="#f8ba3d"/><stop offset=".559" stop-color="#fec835"/><stop offset=".577" stop-color="#fec239"/><stop offset=".589" stop-color="#f2ba38"/><stop offset=".601" stop-color="#cfc028"/><stop offset=".607" stop-color="#b8c431"/><stop offset=".630" stop-color="#49cb85"/><stop offset=".654" stop-color="#02bac4"/><stop offset=".672" stop-color="#1caadf"/><stop offset=".683" stop-color="#239fe5"/><stop offset=".754" stop-color="#2e87f7"/><stop offset=".997" stop-color="#2e83f9"/></linearGradient>
<linearGradient id="g121" gradientUnits="userSpaceOnUse" x1="0" y1="0" x2="0" y2="169"><stop offset=".003" stop-color="#4434cf"/><stop offset=".080" stop-color="#4853f5"/><stop offset=".180" stop-color="#3b72ff"/><stop offset=".287" stop-color="#307efb"/><stop offset=".435" stop-color="#23a1e5"/><stop offset=".453" stop-color="#17aedb"/><stop offset=".464" stop-color="#01b8c8"/><stop offset=".488" stop-color="#43ca8b"/><stop offset=".512" stop-color="#bbc42f"/><stop offset=".518" stop-color="#d6be28"/><stop offset=".530" stop-color="#fcbd3d"/><stop offset=".547" stop-color="#f7dc2a"/><stop offset=".565" stop-color="#f5e924"/><stop offset=".577" stop-color="#f5e427"/><stop offset=".601" stop-color="#fec13a"/><stop offset=".618" stop-color="#cec028"/><stop offset=".624" stop-color="#b5c533"/><stop offset=".648" stop-color="#43ca8a"/><stop offset=".672" stop-color="#02bac4"/><stop offset=".695" stop-color="#1baade"/><stop offset=".725" stop-color="#249fe5"/><stop offset=".997" stop-color="#3080fb"/></linearGradient>
<linearGradient id="g122" gradientUnits="userSpaceOnUse" x1="0" y1="0" x2="0" y2="169"><stop offset=".003" stop-color="#4434ce"/><stop offset=".109" stop-color="#484ff2"/><stop offset=".240" stop-color="#3c72ff"/><stop offset=".411" stop-color="#23a0e5"/><stop offset=".435" stop-color="#19acdd"/><stop offset=".453" stop-color="#01b8c9"/><stop offset=".459" stop-color="#07bcbf"/><stop offset=".482" stop-color="#42ca8b"/><stop offset=".506" stop-color="#a1c840"/><stop offset=".518" stop-color="#cdc028"/><stop offset=".536" stop-color="#fabb3d"/><stop offset=".565" stop-color="#fdce31"/><stop offset=".583" stop-color="#fec03a"/><stop offset=".589" stop-color="#f8ba3d"/><stop offset=".595" stop-color="#eabb30"/><stop offset=".607" stop-color="#c0c32d"/><stop offset=".636" stop-color="#3bc992"/><stop offset=".660" stop-color="#01b8c9"/><stop offset=".678" stop-color="#1caadf"/><stop offset=".701" stop-color="#249fe6"/><stop offset=".997" stop-color="#2d8df2"/></linearGradient>
<linearGradient id="g123" gradientUnits="userSpaceOnUse" x1="0" y1="0" x2="0" y2="169"><stop offset=".003" stop-color="#4434cf"/><stop offset=".133" stop-color="#4853f5"/><stop offset=".228" stop-color="#3c71ff"/><stop offset=".423" stop-color="#2896ec"/><stop offset=".453" stop-color="#1da8e0"/><stop offset=".470" stop-color="#02bac5"/><stop offset=".488" stop-color="#3ac993"/><stop offset=".512" stop-color="#b6c533"/><stop offset=".518" stop-color="#d2bf27"/><stop offset=".530" stop-color="#fabc3d"/><stop offset=".559" stop-color="#f6e028"/><stop offset=".571" stop-color="#f7dd2a"/><stop offset=".595" stop-color="#febf3b"/><stop offset=".612" stop-color="#d3bf27"/><stop offset=".618" stop-color="#bdc32e"/><stop offset=".648" stop-color="#3fca8e"/><stop offset=".672" stop-color="#04bbc1"/><stop offset=".678" stop-color="#01b8ca"/><stop offset=".695" stop-color="#19addc"/><stop offset=".737" stop-color="#249de7"/><stop offset=".997" stop-color="#2d8af4"/></linearGradient>
<linearGradient id="g124" gradientUnits="userSpaceOnUse" x1="0" y1="0" x2="0" y2="169"><stop offset=".003" stop-color="#4434cf"/><stop offset=".062" stop-color="#484aee"/><stop offset=".240" stop-color="#3b72ff"/><stop offset=".287" stop-color="#2f80fa"/><stop offset=".417" stop-color="#2994ed"/><stop offset=".447" stop-color="#1baade"/><stop offset=".459" stop-color="#04b6cd"/><stop offset=".464" stop-color="#06bcc0"/><stop offset=".482" stop-color="#3cc991"/><stop offset=".494" stop-color="#70cd65"/><stop offset=".512" stop-color="#c7c12a"/><stop offset=".530" stop-color="#fdbd3d"/><stop offset=".559" stop-color="#f7dc2a"/><stop offset=".589" stop-color="#fec537"/><stop offset=".601" stop-color="#f0ba36"/><stop offset=".612" stop-color="#ccc028"/><stop offset=".624" stop-color="#9cc944"/><stop offset=".642" stop-color="#4dcc82"/><stop offset=".672" stop-color="#01b9c7"/><stop offset=".689" stop-color="#1aabdd"/><stop offset=".725" stop-color="#269ae8"/><stop offset=".997" stop-color="#2e86f7"/></linearGradient>
<linearGradient id="g125" gradientUnits="userSpaceOnUse" x1="0" y1="0" x2="0" y2="169"><stop offset=".003" stop-color="#4434ce"/><stop offset=".086" stop-color="#484aee"/><stop offset=".234" stop-color="#3c71ff"/><stop offset=".429" stop-color="#259be8"/><stop offset=".453" stop-color="#1baadf"/><stop offset=".470" stop-color="#02bbc3"/><stop offset=".494" stop-color="#4ecc81"/><stop offset=".518" stop-color="#c4c22b"/><stop offset=".530" stop-color="#efba35"/><stop offset=".536" stop-color="#fcbd3d"/><stop offset=".559" stop-color="#fad62d"/><stop offset=".583" stop-color="#fec636"/><stop offset=".595" stop-color="#f0ba36"/><stop offset=".607" stop-color="#c6c22a"/><stop offset=".630" stop-color="#50cc7f"/><stop offset=".654" stop-color="#03bbc2"/><stop offset=".678" stop-color="#20a5e2"/><stop offset=".719" stop-color="#2994ed"/><stop offset=".831" stop-color="#2896ec"/><stop offset=".997" stop-color="#2e86f8"/></linearGradient>
<linearGradient id="g126" gradientUnits="userSpaceOnUse" x1="0" y1="0" x2="0" y2="169"><stop offset=".003" stop-color="#4434cf"/><stop offset=".033" stop-color="#4741e5"/><stop offset=".068" stop-color="#484bef"/><stop offset=".234" stop-color="#3c71ff"/><stop offset=".287" stop-color="#2f80fa"/><stop offset=".423" stop-color="#2798ea"/><stop offset=".453" stop-color="#19addc"/><stop offset=".464" stop-color="#02b7cb"/><stop offset=".470" stop-color="#07bcc0"/><stop offset=".494" stop-color="#45cb89"/><stop offset=".524" stop-color="#bbc42f"/><stop offset=".530" stop-color="#cec028"/><stop offset=".541" stop-color="#eaba30"/><stop offset=".565" stop-color="#fbbc3d"/><stop offset=".583" stop-color="#ebba32"/><stop offset=".595" stop-color="#cfc028"/><stop offset=".601" stop-color="#bbc430"/><stop offset=".630" stop-color="#41ca8c"/><stop offset=".654" stop-color="#02bac4"/><stop offset=".683" stop-color="#249fe6"/><stop offset=".725" stop-color="#2d8cf3"/><stop offset=".997" stop-color="#2d88f6"/></linearGradient>
<linearGradient id="g127" gradientUnits="userSpaceOnUse" x1="0" y1="0" x2="0" y2="169"><stop offset=".003" stop-color="#4434ce"/><stop offset=".086" stop-color="#484df1"/><stop offset=".240" stop-color="#3c71ff"/><stop offset=".340" stop-color="#2d8df2"/><stop offset=".435" stop-color="#2c8ff1"/><stop offset=".464" stop-color="#1ea8e1"/><stop offset=".482" stop-color="#02bac4"/><stop offset=".506" stop-color="#46cb88"/><stop offset=".530" stop-color="#adc638"/><stop offset=".541" stop-color="#d3bf27"/><stop offset=".559" stop-color="#ebba31"/><stop offset=".571" stop-color="#e8bb2e"/><stop offset=".583" stop-color="#d3bf27"/><stop offset=".595" stop-color="#adc638"/><stop offset=".612" stop-color="#60cd72"/><stop offset=".642" stop-color="#05bbc1"/><stop offset=".648" stop-color="#04b6cd"/><stop offset=".660" stop-color="#1babde"/><stop offset=".695" stop-color="#2994ed"/><stop offset=".997" stop-color="#3a74fe"/></linearGradient>
<linearGradient id="g128" gradientUnits="userSpaceOnUse" x1="0" y1="0" x2="0" y2="169"><stop offset=".003" stop-color="#4434ce"/><stop offset=".127" stop-color="#4853f5"/><stop offset=".234" stop-color="#3c71ff"/><stop offset=".352" stop-color="#2896ec"/><stop offset=".447" stop-color="#20a5e3"/><stop offset=".464" stop-color="#16afd9"/><stop offset=".476" stop-color="#01b8c9"/><stop offset=".506" stop-color="#45cb88"/><stop offset=".530" stop-color="#a6c73c"/><stop offset=".541" stop-color="#cec028"/><stop offset=".547" stop-color="#dcbd29"/><stop offset=".565" stop-color="#ebba32"/><stop offset=".583" stop-color="#d6be28"/><stop offset=".595" stop-color="#b2c535"/><stop offset=".624" stop-color="#39c994"/><stop offset=".642" stop-color="#07bcc0"/><stop offset=".648" stop-color="#03b7cc"/><stop offset=".666" stop-color="#20a5e3"/><stop offset=".707" stop-color="#2d8df2"/><stop offset=".997" stop-color="#347afd"/></linearGradient>
<linearGradient id="g129" gradientUnits="userSpaceOnUse" x1="0" y1="0" x2="0" y2="169"><stop offset=".003" stop-color="#4434ce"/><stop offset=".104" stop-color="#484ff2"/><stop offset=".234" stop-color="#3b72ff"/><stop offset=".435" stop-color="#23a1e4"/><stop offset=".453" stop-color="#17aeda"/><stop offset=".464" stop-color="#01b8c8"/><stop offset=".488" stop-color="#3cc991"/><stop offset=".512" stop-color="#a4c83e"/><stop offset=".524" stop-color="#d3bf27"/><stop offset=".541" stop-color="#fdbd3d"/><stop offset=".559" stop-color="#fec934"/><stop offset=".577" stop-color="#febf3b"/><stop offset=".583" stop-color="#f8ba3d"/><stop offset=".589" stop-color="#e9bb30"/><stop offset=".601" stop-color="#bec32e"/><stop offset=".624" stop-color="#48cb87"/><stop offset=".648" stop-color="#01b8c9"/><stop offset=".660" stop-color="#1baade"/><stop offset=".672" stop-color="#259de7"/><stop offset=".731" stop-color="#2e84f8"/><stop offset=".997" stop-color="#2e85f8"/></linearGradient>
<linearGradient id="g130" gradientUnits="userSpaceOnUse" x1="0" y1="0" x2="0" y2="169"><stop offset=".003" stop-color="#4434d0"/><stop offset=".086" stop-color="#4850f3"/><stop offset=".192" stop-color="#3c72ff"/><stop offset=".399" stop-color="#2d8cf3"/><stop offset=".441" stop-color="#21a3e3"/><stop offset=".464" stop-color="#02bac5"/><stop offset=".488" stop-color="#41ca8c"/><stop offset=".518" stop-color="#bec32e"/><stop offset=".524" stop-color="#d2bf27"/><stop offset=".541" stop-color="#fabb3d"/><stop offset=".571" stop-color="#febe3c"/><stop offset=".583" stop-color="#f2ba38"/><stop offset=".601" stop-color="#c7c12a"/><stop offset=".612" stop-color="#9bc944"/><stop offset=".636" stop-color="#3fca8e"/><stop offset=".660" stop-color="#05bbc1"/><stop offset=".666" stop-color="#02b7cb"/><stop offset=".689" stop-color="#20a5e2"/><stop offset=".725" stop-color="#2896eb"/><stop offset=".997" stop-color="#2c90f0"/></linearGradient>
<linearGradient id="g131" gradientUnits="userSpaceOnUse" x1="0" y1="0" x2="0" y2="169"><stop offset=".003" stop-color="#4434ce"/><stop offset=".021" stop-color="#4433cd"/><stop offset=".109" stop-color="#4756f7"/><stop offset=".216" stop-color="#3c72ff"/><stop offset=".423" stop-color="#2797eb"/><stop offset=".453" stop-color="#1baade"/><stop offset=".470" stop-color="#02bac3"/><stop offset=".494" stop-color="#44cb8a"/><stop offset=".524" stop-color="#c3c22b"/><stop offset=".530" stop-color="#d7be28"/><stop offset=".541" stop-color="#f3ba38"/><stop offset=".565" stop-color="#febf3c"/><stop offset=".583" stop-color="#f1ba37"/><stop offset=".601" stop-color="#c9c129"/><stop offset=".612" stop-color="#a0c941"/><stop offset=".636" stop-color="#44cb8a"/><stop offset=".666" stop-color="#01b8c9"/><stop offset=".683" stop-color="#1da9e0"/><stop offset=".737" stop-color="#2d8df2"/><stop offset=".997" stop-color="#307ffb"/></linearGradient>
<linearGradient id="g132" gradientUnits="userSpaceOnUse" x1="0" y1="0" x2="0" y2="169"><stop offset=".003" stop-color="#4434cf"/><stop offset=".021" stop-color="#4433cc"/><stop offset=".115" stop-color="#4850f3"/><stop offset=".234" stop-color="#3b72ff"/><stop offset=".299" stop-color="#2f81fa"/><stop offset=".417" stop-color="#2d8cf3"/><stop offset=".453" stop-color="#21a3e3"/><stop offset=".476" stop-color="#02bbc3"/><stop offset=".500" stop-color="#43ca8b"/><stop offset=".524" stop-color="#a1c840"/><stop offset=".541" stop-color="#d6be28"/><stop offset=".559" stop-color="#eabb30"/><stop offset=".571" stop-color="#e6bb2d"/><stop offset=".583" stop-color="#d3bf27"/><stop offset=".595" stop-color="#b0c636"/><stop offset=".618" stop-color="#50cc7f"/><stop offset=".648" stop-color="#01bac6"/><stop offset=".672" stop-color="#21a3e3"/><stop offset=".719" stop-color="#2d89f6"/><stop offset=".902" stop-color="#2e87f7"/><stop offset=".997" stop-color="#327bfc"/></linearGradient>
<linearGradient id="g133" gradientUnits="userSpaceOnUse" x1="0" y1="0" x2="0" y2="169"><stop offset=".003" stop-color="#4434cf"/><stop offset=".021" stop-color="#4330c5"/><stop offset=".109" stop-color="#4849ed"/><stop offset=".234" stop-color="#3c72ff"/><stop offset=".287" stop-color="#307ffb"/><stop offset=".429" stop-color="#2a93ed"/><stop offset=".459" stop-color="#1ea7e1"/><stop offset=".476" stop-color="#01b9c7"/><stop offset=".500" stop-color="#42ca8b"/><stop offset=".530" stop-color="#c2c22c"/><stop offset=".541" stop-color="#e4bb2c"/><stop offset=".559" stop-color="#f9ba3d"/><stop offset=".577" stop-color="#eeba34"/><stop offset=".589" stop-color="#d3bf27"/><stop offset=".595" stop-color="#c0c32d"/><stop offset=".624" stop-color="#42ca8b"/><stop offset=".648" stop-color="#01bac5"/><stop offset=".660" stop-color="#16afda"/><stop offset=".678" stop-color="#249ee6"/><stop offset=".737" stop-color="#2d8bf3"/><stop offset=".908" stop-color="#269ae9"/><stop offset=".997" stop-color="#2896ec"/></linearGradient>
<linearGradient id="g134" gradientUnits="userSpaceOnUse" x1="0" y1="0" x2="0" y2="169"><stop offset=".003" stop-color="#4434ce"/><stop offset=".021" stop-color="#4230c4"/><stop offset=".092" stop-color="#484cf0"/><stop offset=".192" stop-color="#3b72ff"/><stop offset=".322" stop-color="#2f82fa"/><stop offset=".447" stop-color="#249fe5"/><stop offset=".464" stop-color="#18addb"/><stop offset=".476" stop-color="#01b8c9"/><stop offset=".500" stop-color="#3cc991"/><stop offset=".524" stop-color="#9ec942"/><stop offset=".536" stop-color="#c9c129"/><stop offset=".541" stop-color="#d7be28"/><stop offset=".559" stop-color="#e7bb2e"/><stop offset=".577" stop-color="#d4bf28"/><stop offset=".595" stop-color="#a1c840"/><stop offset=".618" stop-color="#47cb87"/><stop offset=".648" stop-color="#01b8c8"/><stop offset=".660" stop-color="#18aedb"/><stop offset=".678" stop-color="#259de7"/><stop offset=".707" stop-color="#2d8bf4"/><stop offset=".760" stop-color="#2f80fa"/><stop offset=".997" stop-color="#2c8ff1"/></linearGradient>
<linearGradient id="g135" gradientUnits="userSpaceOnUse" x1="0" y1="0" x2="0" y2="169"><stop offset=".003" stop-color="#4434cf"/><stop offset=".098" stop-color="#4756f7"/><stop offset=".228" stop-color="#3b72ff"/><stop offset=".411" stop-color="#23a1e5"/><stop offset=".435" stop-color="#19acdd"/><stop offset=".453" stop-color="#01b8ca"/><stop offset=".459" stop-color="#06bbc1"/><stop offset=".482" stop-color="#40ca8d"/><stop offset=".506" stop-color="#9ec942"/><stop offset=".518" stop-color="#c9c129"/><stop offset=".541" stop-color="#fdbd3d"/><stop offset=".559" stop-color="#fec835"/><stop offset=".577" stop-color="#febf3b"/><stop offset=".589" stop-color="#ebba32"/><stop offset=".601" stop-color="#c4c22b"/><stop offset=".630" stop-color="#3dc990"/><stop offset=".648" stop-color="#08bcbf"/><stop offset=".654" stop-color="#02b7cb"/><stop offset=".672" stop-color="#20a5e2"/><stop offset=".707" stop-color="#2c8ff0"/><stop offset=".997" stop-color="#2c8ef1"/></linearGradient>
<linearGradient id="g136" gradientUnits="userSpaceOnUse" x1="0" y1="0" x2="0" y2="169"><stop offset=".003" stop-color="#4434ce"/><stop offset=".027" stop-color="#422fc0"/><stop offset=".080" stop-color="#4741e5"/><stop offset=".121" stop-color="#4853f5"/><stop offset=".216" stop-color="#3c72ff"/><stop offset=".423" stop-color="#2b91ef"/><stop offset=".453" stop-color="#1ea7e1"/><stop offset=".470" stop-color="#01b9c7"/><stop offset=".494" stop-color="#44cb89"/><stop offset=".518" stop-color="#b4c533"/><stop offset=".524" stop-color="#cdc028"/><stop offset=".536" stop-color="#f2ba38"/><stop offset=".541" stop-color="#fdbd3d"/><stop offset=".565" stop-color="#fcd030"/><stop offset=".589" stop-color="#fec03b"/><stop offset=".595" stop-color="#f8ba3d"/><stop offset=".601" stop-color="#eabb30"/><stop offset=".612" stop-color="#c4c22b"/><stop offset=".642" stop-color="#43ca8a"/><stop offset=".666" stop-color="#02bac3"/><stop offset=".683" stop-color="#1aacdd"/><stop offset=".713" stop-color="#269ae9"/><stop offset=".997" stop-color="#337afd"/></linearGradient>
<linearGradient id="g137" gradientUnits="userSpaceOnUse" x1="0" y1="0" x2="0" y2="169"><stop offset=".003" stop-color="#4434cf"/><stop offset=".021" stop-color="#463cdf"/><stop offset=".092" stop-color="#4851f4"/><stop offset=".222" stop-color="#3c72ff"/><stop offset=".441" stop-color="#2b91ef"/><stop offset=".470" stop-color="#19acdc"/><stop offset=".482" stop-color="#01b8ca"/><stop offset=".512" stop-color="#49cb85"/><stop offset=".536" stop-color="#a5c83d"/><stop offset=".547" stop-color="#c6c22a"/><stop offset=".559" stop-color="#d7be28"/><stop offset=".577" stop-color="#d2bf27"/><stop offset=".595" stop-color="#aac73a"/><stop offset=".624" stop-color="#40ca8d"/><stop offset=".648" stop-color="#06bcc0"/><stop offset=".654" stop-color="#02b7cb"/><stop offset=".672" stop-color="#1ea8e1"/><stop offset=".713" stop-color="#2b91ef"/><stop offset=".997" stop-color="#2d8df2"/></linearGradient>
<linearGradient id="g138" gradientUnits="userSpaceOnUse" x1="0" y1="0" x2="0" y2="169"><stop offset=".003" stop-color="#4434cf"/><stop offset=".021" stop-color="#463de0"/><stop offset=".062" stop-color="#484aee"/><stop offset=".228" stop-color="#3b72ff"/><stop offset=".423" stop-color="#2b92ee"/><stop offset=".453" stop-color="#1ea8e1"/><stop offset=".470" stop-color="#01b9c6"/><stop offset=".494" stop-color="#41ca8c"/><stop offset=".524" stop-color="#bec32e"/><stop offset=".530" stop-color="#d2bf27"/><stop offset=".541" stop-color="#eeba34"/><stop offset=".559" stop-color="#fcbc3d"/><stop offset=".577" stop-color="#f0ba36"/><stop offset=".595" stop-color="#c4c22b"/><stop offset=".624" stop-color="#47cb87"/><stop offset=".648" stop-color="#03bbc2"/><stop offset=".672" stop-color="#20a4e3"/><stop offset=".719" stop-color="#2d8df3"/><stop offset=".997" stop-color="#2d8af4"/></linearGradient>
<linearGradient id="g139" gradientUnits="userSpaceOnUse" x1="0" y1="0" x2="0" y2="169"><stop offset=".003" stop-color="#4434ce"/><stop offset=".021" stop-color="#4332c9"/><stop offset=".115" stop-color="#4853f5"/><stop offset=".222" stop-color="#3d71ff"/><stop offset=".405" stop-color="#2d89f6"/><stop offset=".447" stop-color="#22a2e4"/><stop offset=".470" stop-color="#02bbc3"/><stop offset=".494" stop-color="#4acb85"/><stop offset=".512" stop-color="#9cc944"/><stop offset=".524" stop-color="#cdc028"/><stop offset=".541" stop-color="#f9bb3d"/><stop offset=".571" stop-color="#fec13a"/><stop offset=".583" stop-color="#f5ba3b"/><stop offset=".595" stop-color="#dabd28"/><stop offset=".601" stop-color="#c7c12a"/><stop offset=".630" stop-color="#4acb84"/><stop offset=".654" stop-color="#08bcbe"/><stop offset=".660" stop-color="#01b8c9"/><stop offset=".678" stop-color="#1ca9df"/><stop offset=".713" stop-color="#2798ea"/><stop offset=".997" stop-color="#2895ec"/></linearGradient>
<linearGradient id="g140" gradientUnits="userSpaceOnUse" x1="0" y1="0" x2="0" y2="169"><stop offset=".003" stop-color="#4434ce"/><stop offset=".127" stop-color="#4851f4"/><stop offset=".228" stop-color="#3c71ff"/><stop offset=".429" stop-color="#2797eb"/><stop offset=".459" stop-color="#1babde"/><stop offset=".470" stop-color="#04b6cd"/><stop offset=".476" stop-color="#05bbc1"/><stop offset=".500" stop-color="#4dcc82"/><stop offset=".524" stop-color="#b8c431"/><stop offset=".530" stop-color="#cec028"/><stop offset=".541" stop-color="#ecba32"/><stop offset=".559" stop-color="#fabb3d"/><stop offset=".577" stop-color="#e8bb2e"/><stop offset=".589" stop-color="#c6c22a"/><stop offset=".618" stop-color="#42ca8b"/><stop offset=".642" stop-color="#01b9c8"/><stop offset=".660" stop-color="#1fa6e2"/><stop offset=".707" stop-color="#2d8cf3"/><stop offset=".997" stop-color="#2c8ff1"/></linearGradient>
<linearGradient id="g141" gradientUnits="userSpaceOnUse" x1="0" y1="0" x2="0" y2="169"><stop offset=".003" stop-color="#4434ce"/><stop offset=".021" stop-color="#4332c8"/><stop offset=".109" stop-color="#4850f3"/><stop offset=".228" stop-color="#3c71ff"/><stop offset=".447" stop-color="#259ce7"/><stop offset=".470" stop-color="#1aacdd"/><stop offset=".488" stop-color="#03bbc2"/><stop offset=".512" stop-color="#41ca8d"/><stop offset=".536" stop-color="#9ec942"/><stop offset=".547" stop-color="#c3c22b"/><stop offset=".559" stop-color="#d6be28"/><stop offset=".577" stop-color="#d0c028"/><stop offset=".595" stop-color="#a4c83e"/><stop offset=".618" stop-color="#4acb85"/><stop offset=".648" stop-color="#01b9c7"/><stop offset=".678" stop-color="#249fe5"/><stop offset=".713" stop-color="#2b91ef"/><stop offset=".997" stop-color="#2b91ef"/></linearGradient>
<linearGradient id="g142" gradientUnits="userSpaceOnUse" x1="0" y1="0" x2="0" y2="169"><stop offset=".003" stop-color="#4434cf"/><stop offset=".098" stop-color="#484ff2"/><stop offset=".222" stop-color="#3c72ff"/><stop offset=".435" stop-color="#2c90f0"/><stop offset=".464" stop-color="#1ea6e1"/><stop offset=".482" stop-color="#01b9c7"/><stop offset=".506" stop-color="#41ca8d"/><stop offset=".530" stop-color="#a8c73b"/><stop offset=".541" stop-color="#d1bf27"/><stop offset=".547" stop-color="#dfbc2a"/><stop offset=".565" stop-color="#efba35"/><stop offset=".583" stop-color="#dabd28"/><stop offset=".595" stop-color="#b7c532"/><stop offset=".624" stop-color="#3eca8f"/><stop offset=".648" stop-color="#01b9c6"/><stop offset=".666" stop-color="#1babde"/><stop offset=".689" stop-color="#259de7"/><stop offset=".796" stop-color="#2d87f6"/><stop offset=".997" stop-color="#2c8ff0"/></linearGradient>
<linearGradient id="g143" gradientUnits="userSpaceOnUse" x1="0" y1="0" x2="0" y2="169"><stop offset=".003" stop-color="#4434ce"/><stop offset=".104" stop-color="#4849ed"/><stop offset=".234" stop-color="#3d70ff"/><stop offset=".441" stop-color="#23a1e5"/><stop offset=".459" stop-color="#17aeda"/><stop offset=".470" stop-color="#01b8ca"/><stop offset=".500" stop-color="#41ca8c"/><stop offset=".530" stop-color="#b1c635"/><stop offset=".547" stop-color="#dfbc2a"/><stop offset=".565" stop-color="#eeba34"/><stop offset=".577" stop-color="#e7bb2e"/><stop offset=".589" stop-color="#d1bf27"/><stop offset=".601" stop-color="#acc738"/><stop offset=".624" stop-color="#4fcc80"/><stop offset=".654" stop-color="#03bbc3"/><stop offset=".678" stop-color="#1baadf"/><stop offset=".707" stop-color="#249ee6"/><stop offset=".891" stop-color="#2d8af4"/><stop offset=".997" stop-color="#2d8df2"/></linearGradient>
<linearGradient id="g144" gradientUnits="userSpaceOnUse" x1="0" y1="0" x2="0" y2="169"><stop offset=".003" stop-color="#4434cf"/><stop offset=".021" stop-color="#473fe2"/><stop offset=".044" stop-color="#4744e9"/><stop offset=".240" stop-color="#3b72ff"/><stop offset=".435" stop-color="#23a1e4"/><stop offset=".459" stop-color="#19addc"/><stop offset=".470" stop-color="#03b7cc"/><stop offset=".476" stop-color="#06bcc0"/><stop offset=".494" stop-color="#3bc993"/><stop offset=".524" stop-color="#c4c22b"/><stop offset=".530" stop-color="#dbbd28"/><stop offset=".541" stop-color="#f9bb3d"/><stop offset=".553" stop-color="#fec537"/><stop offset=".571" stop-color="#fec13a"/><stop offset=".583" stop-color="#f1ba37"/><stop offset=".595" stop-color="#cdc028"/><stop offset=".601" stop-color="#b5c533"/><stop offset=".624" stop-color="#47cb87"/><stop offset=".648" stop-color="#02bac3"/><stop offset=".672" stop-color="#1ea7e1"/><stop offset=".707" stop-color="#269ae9"/><stop offset=".825" stop-color="#2d8bf3"/><stop offset=".997" stop-color="#2d8cf3"/></linearGradient>
<linearGradient id="g145" gradientUnits="userSpaceOnUse" x1="0" y1="0" x2="0" y2="169"><stop offset=".003" stop-color="#4434cf"/><stop offset=".033" stop-color="#4742e6"/><stop offset=".074" stop-color="#4850f3"/><stop offset=".198" stop-color="#3d71ff"/><stop offset=".423" stop-color="#2d8df3"/><stop offset=".459" stop-color="#1ea8e0"/><stop offset=".476" stop-color="#01bac6"/><stop offset=".500" stop-color="#40ca8d"/><stop offset=".524" stop-color="#a4c83e"/><stop offset=".536" stop-color="#cec028"/><stop offset=".541" stop-color="#ddbd29"/><stop offset=".565" stop-color="#f3ba38"/><stop offset=".577" stop-color="#eabb30"/><stop offset=".589" stop-color="#d2bf27"/><stop offset=".601" stop-color="#acc738"/><stop offset=".624" stop-color="#4ecc81"/><stop offset=".654" stop-color="#02bac5"/><stop offset=".683" stop-color="#21a4e3"/><stop offset=".743" stop-color="#2c90f0"/><stop offset=".837" stop-color="#307efb"/><stop offset=".997" stop-color="#3080fb"/></linearGradient>
<linearGradient id="g146" gradientUnits="userSpaceOnUse" x1="0" y1="0" x2="0" y2="169"><stop offset=".003" stop-color="#4434ce"/><stop offset=".021" stop-color="#412dbc"/><stop offset=".098" stop-color="#484df1"/><stop offset=".222" stop-color="#3c71ff"/><stop offset=".435" stop-color="#21a3e4"/><stop offset=".453" stop-color="#19addc"/><stop offset=".470" stop-color="#03bbc2"/><stop offset=".494" stop-color="#4acb85"/><stop offset=".512" stop-color="#9ec942"/><stop offset=".524" stop-color="#d0bf27"/><stop offset=".541" stop-color="#fcbd3d"/><stop offset=".559" stop-color="#fec537"/><stop offset=".571" stop-color="#febe3c"/><stop offset=".583" stop-color="#ebba32"/><stop offset=".595" stop-color="#c6c22a"/><stop offset=".624" stop-color="#42ca8c"/><stop offset=".648" stop-color="#01b9c7"/><stop offset=".672" stop-color="#21a3e3"/><stop offset=".719" stop-color="#2c90f0"/><stop offset=".997" stop-color="#2d89f5"/></linearGradient>
<linearGradient id="g147" gradientUnits="userSpaceOnUse" x1="0" y1="0" x2="0" y2="169"><stop offset=".003" stop-color="#4434ce"/><stop offset=".056" stop-color="#463adc"/><stop offset=".121" stop-color="#4853f5"/><stop offset=".222" stop-color="#3b72ff"/><stop offset=".435" stop-color="#249fe6"/><stop offset=".459" stop-color="#17aeda"/><stop offset=".470" stop-color="#01b9c7"/><stop offset=".494" stop-color="#4bcb84"/><stop offset=".518" stop-color="#c9c129"/><stop offset=".530" stop-color="#f5ba3b"/><stop offset=".536" stop-color="#fec13a"/><stop offset=".559" stop-color="#f7dd2a"/><stop offset=".589" stop-color="#fec537"/><stop offset=".595" stop-color="#fcbc3d"/><stop offset=".612" stop-color="#cac129"/><stop offset=".624" stop-color="#98ca47"/><stop offset=".642" stop-color="#48cb86"/><stop offset=".666" stop-color="#08bcbf"/><stop offset=".672" stop-color="#01b8c8"/><stop offset=".689" stop-color="#19acdc"/><stop offset=".725" stop-color="#259de7"/><stop offset=".808" stop-color="#2c8ef1"/><stop offset=".997" stop-color="#2c90f0"/></linearGradient>
<linearGradient id="g148" gradientUnits="userSpaceOnUse" x1="0" y1="0" x2="0" y2="169"><stop offset=".003" stop-color="#4434cf"/><stop offset=".027" stop-color="#473fe3"/><stop offset=".163" stop-color="#475cfa"/><stop offset=".228" stop-color="#3c71ff"/><stop offset=".429" stop-color="#22a2e4"/><stop offset=".447" stop-color="#18addb"/><stop offset=".464" stop-color="#03bbc2"/><stop offset=".488" stop-color="#43ca8a"/><stop offset=".518" stop-color="#c3c22b"/><stop offset=".524" stop-color="#d8be28"/><stop offset=".536" stop-color="#f8ba3d"/><stop offset=".565" stop-color="#fccf30"/><stop offset=".589" stop-color="#febe3c"/><stop offset=".607" stop-color="#d6be28"/><stop offset=".612" stop-color="#c2c22c"/><stop offset=".642" stop-color="#47cb87"/><stop offset=".672" stop-color="#01b8c8"/><stop offset=".689" stop-color="#1aacdd"/><stop offset=".725" stop-color="#259ce7"/><stop offset=".997" stop-color="#269ae9"/></linearGradient>
<linearGradient id="g149" gradientUnits="userSpaceOnUse" x1="0" y1="0" x2="0" y2="169"><stop offset=".003" stop-color="#4434cf"/><stop offset=".021" stop-color="#4433cc"/><stop offset=".127" stop-color="#4851f4"/><stop offset=".234" stop-color="#3d71ff"/><stop offset=".435" stop-color="#22a2e4"/><stop offset=".453" stop-color="#19addc"/><stop offset=".470" stop-color="#02bac4"/><stop offset=".494" stop-color="#3fca8e"/><stop offset=".524" stop-color="#b9c430"/><stop offset=".530" stop-color="#cdc028"/><stop offset=".541" stop-color="#e9bb30"/><stop offset=".559" stop-color="#f7ba3c"/><stop offset=".577" stop-color="#e6bb2d"/><stop offset=".589" stop-color="#c5c22a"/><stop offset=".618" stop-color="#47cb87"/><stop offset=".642" stop-color="#02bbc3"/><stop offset=".666" stop-color="#20a4e3"/><stop offset=".713" stop-color="#2c90f0"/><stop offset=".997" stop-color="#2895ec"/></linearGradient>
<linearGradient id="g150" gradientUnits="userSpaceOnUse" x1="0" y1="0" x2="0" y2="169"><stop offset=".003" stop-color="#4434cf"/><stop offset=".092" stop-color="#4854f6"/><stop offset=".222" stop-color="#3b72ff"/><stop offset=".447" stop-color="#2798ea"/><stop offset=".470" stop-color="#1babde"/><stop offset=".482" stop-color="#01b8ca"/><stop offset=".506" stop-color="#4ccb83"/><stop offset=".524" stop-color="#aec637"/><stop offset=".530" stop-color="#cbc029"/><stop offset=".541" stop-color="#f5ba3a"/><stop offset=".559" stop-color="#fdcb33"/><stop offset=".583" stop-color="#fec13a"/><stop offset=".595" stop-color="#ecba33"/><stop offset=".607" stop-color="#c6c22a"/><stop offset=".636" stop-color="#41ca8c"/><stop offset=".660" stop-color="#01b9c6"/><stop offset=".683" stop-color="#20a5e3"/><stop offset=".737" stop-color="#2c90f0"/><stop offset=".997" stop-color="#3678fd"/></linearGradient>
<linearGradient id="g151" gradientUnits="userSpaceOnUse" x1="0" y1="0" x2="0" y2="169"><stop offset=".003" stop-color="#4434cf"/><stop offset=".021" stop-color="#4332ca"/><stop offset=".109" stop-color="#4850f3"/><stop offset=".234" stop-color="#3d71ff"/><stop offset=".328" stop-color="#2d8cf3"/><stop offset=".435" stop-color="#2699ea"/><stop offset=".464" stop-color="#1baade"/><stop offset=".476" stop-color="#04b6cd"/><stop offset=".482" stop-color="#05bbc1"/><stop offset=".506" stop-color="#52cc7e"/><stop offset=".530" stop-color="#c6c22a"/><stop offset=".536" stop-color="#dcbd29"/><stop offset=".547" stop-color="#f9bb3d"/><stop offset=".577" stop-color="#febd3c"/><stop offset=".589" stop-color="#ecba32"/><stop offset=".601" stop-color="#c9c129"/><stop offset=".612" stop-color="#98ca47"/><stop offset=".630" stop-color="#47cb87"/><stop offset=".654" stop-color="#02bac4"/><stop offset=".678" stop-color="#21a3e3"/><stop offset=".737" stop-color="#2d89f6"/><stop offset=".997" stop-color="#2f80fa"/></linearGradient>
<linearGradient id="g152" gradientUnits="userSpaceOnUse" x1="0" y1="0" x2="0" y2="169"><stop offset=".003" stop-color="#4435d0"/><stop offset=".015" stop-color="#4741e5"/><stop offset=".033" stop-color="#484bef"/><stop offset=".228" stop-color="#3c71ff"/><stop offset=".429" stop-color="#259de7"/><stop offset=".447" stop-color="#1caadf"/><stop offset=".464" stop-color="#01b9c6"/><stop offset=".488" stop-color="#3dca90"/><stop offset=".512" stop-color="#9fc942"/><stop offset=".524" stop-color="#ccc028"/><stop offset=".541" stop-color="#f5ba3b"/><stop offset=".565" stop-color="#febe3c"/><stop offset=".583" stop-color="#ebba31"/><stop offset=".595" stop-color="#cdc028"/><stop offset=".601" stop-color="#b9c431"/><stop offset=".630" stop-color="#40ca8d"/><stop offset=".654" stop-color="#02bac5"/><stop offset=".678" stop-color="#22a2e4"/><stop offset=".713" stop-color="#2d88f6"/><stop offset=".743" stop-color="#2f82f9"/><stop offset=".997" stop-color="#2994ed"/></linearGradient>
<linearGradient id="g153" gradientUnits="userSpaceOnUse" x1="0" y1="0" x2="0" y2="169"><stop offset=".003" stop-color="#4434cf"/><stop offset=".027" stop-color="#4743e8"/><stop offset=".228" stop-color="#3d71ff"/><stop offset=".423" stop-color="#2896ec"/><stop offset=".453" stop-color="#1caadf"/><stop offset=".470" stop-color="#02bac4"/><stop offset=".494" stop-color="#45cb89"/><stop offset=".524" stop-color="#c8c129"/><stop offset=".541" stop-color="#f9ba3d"/><stop offset=".559" stop-color="#fec537"/><stop offset=".577" stop-color="#fec03b"/><stop offset=".589" stop-color="#f2ba38"/><stop offset=".601" stop-color="#d6be28"/><stop offset=".607" stop-color="#c4c22b"/><stop offset=".636" stop-color="#4ecc81"/><stop offset=".666" stop-color="#01b9c7"/><stop offset=".689" stop-color="#21a4e3"/><stop offset=".731" stop-color="#2d8df2"/><stop offset=".997" stop-color="#2f82fa"/></linearGradient>
<linearGradient id="g154" gradientUnits="userSpaceOnUse" x1="0" y1="0" x2="0" y2="169"><stop offset=".003" stop-color="#4434cf"/><stop offset=".027" stop-color="#4740e4"/><stop offset=".074" stop-color="#4853f5"/><stop offset=".175" stop-color="#3c72ff"/><stop offset=".317" stop-color="#2f82fa"/><stop offset=".441" stop-color="#249fe5"/><stop offset=".459" stop-color="#1aacdd"/><stop offset=".470" stop-color="#02b7cb"/><stop offset=".476" stop-color="#08bcbf"/><stop offset=".494" stop-color="#3eca90"/><stop offset=".518" stop-color="#b0c636"/><stop offset=".524" stop-color="#cac129"/><stop offset=".541" stop-color="#fdbd3d"/><stop offset=".559" stop-color="#fdcc32"/><stop offset=".583" stop-color="#febe3c"/><stop offset=".595" stop-color="#e9bb30"/><stop offset=".607" stop-color="#c5c22a"/><stop offset=".636" stop-color="#48cb86"/><stop offset=".660" stop-color="#06bcc0"/><stop offset=".666" stop-color="#03b7cb"/><stop offset=".678" stop-color="#1aacdd"/><stop offset=".689" stop-color="#22a1e4"/><stop offset=".731" stop-color="#2d8df2"/><stop offset=".997" stop-color="#327cfc"/></linearGradient>
<linearGradient id="g155" gradientUnits="userSpaceOnUse" x1="0" y1="0" x2="0" y2="169"><stop offset=".003" stop-color="#4434cf"/><stop offset=".033" stop-color="#4741e5"/><stop offset=".074" stop-color="#484ff2"/><stop offset=".198" stop-color="#3c71ff"/><stop offset=".423" stop-color="#2c90f0"/><stop offset=".459" stop-color="#1baade"/><stop offset=".470" stop-color="#03b7cc"/><stop offset=".476" stop-color="#08bcbf"/><stop offset=".494" stop-color="#3eca8f"/><stop offset=".524" stop-color="#c8c129"/><stop offset=".541" stop-color="#fbbc3d"/><stop offset=".565" stop-color="#fdcc32"/><stop offset=".583" stop-color="#fec13a"/><stop offset=".595" stop-color="#f0ba36"/><stop offset=".607" stop-color="#cec028"/><stop offset=".612" stop-color="#b9c431"/><stop offset=".642" stop-color="#3cc992"/><stop offset=".666" stop-color="#01b9c8"/><stop offset=".689" stop-color="#20a5e3"/><stop offset=".737" stop-color="#2c90f0"/><stop offset=".997" stop-color="#307ffb"/></linearGradient>
<linearGradient id="g156" gradientUnits="userSpaceOnUse" x1="0" y1="0" x2="0" y2="169"><stop offset=".003" stop-color="#4435d0"/><stop offset=".021" stop-color="#4747eb"/><stop offset=".080" stop-color="#4758f8"/><stop offset=".216" stop-color="#3579fd"/><stop offset=".358" stop-color="#3080fb"/><stop offset=".435" stop-color="#2c8ff0"/><stop offset=".464" stop-color="#17aedb"/><stop offset=".476" stop-color="#02bac4"/><stop offset=".500" stop-color="#4ecc81"/><stop offset=".524" stop-color="#bec32e"/><stop offset=".530" stop-color="#d4bf28"/><stop offset=".541" stop-color="#f3ba39"/><stop offset=".553" stop-color="#fec03b"/><stop offset=".577" stop-color="#fdbd3d"/><stop offset=".601" stop-color="#d2bf27"/><stop offset=".612" stop-color="#a8c73b"/><stop offset=".636" stop-color="#46cb88"/><stop offset=".660" stop-color="#05bbc1"/><stop offset=".666" stop-color="#04b6cc"/><stop offset=".683" stop-color="#20a4e3"/><stop offset=".725" stop-color="#2e86f7"/><stop offset=".997" stop-color="#3d70ff"/></linearGradient>
<linearGradient id="g157" gradientUnits="userSpaceOnUse" x1="0" y1="0" x2="0" y2="169"><stop offset=".003" stop-color="#4434ce"/><stop offset=".080" stop-color="#484ef1"/><stop offset=".234" stop-color="#3c71ff"/><stop offset=".441" stop-color="#23a0e5"/><stop offset=".459" stop-color="#17aeda"/><stop offset=".470" stop-color="#01bac5"/><stop offset=".494" stop-color="#54cc7c"/><stop offset=".512" stop-color="#b9c430"/><stop offset=".518" stop-color="#d6be28"/><stop offset=".530" stop-color="#febe3c"/><stop offset=".547" stop-color="#f6de29"/><stop offset=".559" stop-color="#f5e725"/><stop offset=".577" stop-color="#f6dd2a"/><stop offset=".595" stop-color="#febf3b"/><stop offset=".612" stop-color="#c5c22a"/><stop offset=".636" stop-color="#4bcb83"/><stop offset=".660" stop-color="#02bac5"/><stop offset=".689" stop-color="#22a2e4"/><stop offset=".743" stop-color="#2b92ee"/><stop offset=".997" stop-color="#2f82fa"/></linearGradient>
<linearGradient id="g158" gradientUnits="userSpaceOnUse" x1="0" y1="0" x2="0" y2="169"><stop offset=".003" stop-color="#4434cf"/><stop offset=".080" stop-color="#4850f3"/><stop offset=".222" stop-color="#3c71ff"/><stop offset=".435" stop-color="#269ae9"/><stop offset=".459" stop-color="#19addc"/><stop offset=".470" stop-color="#01b9c8"/><stop offset=".494" stop-color="#46cb88"/><stop offset=".518" stop-color="#bdc32e"/><stop offset=".524" stop-color="#d6be28"/><stop offset=".536" stop-color="#fabb3d"/><stop offset=".565" stop-color="#fad52e"/><stop offset=".589" stop-color="#fec239"/><stop offset=".601" stop-color="#edba33"/><stop offset=".612" stop-color="#c8c129"/><stop offset=".642" stop-color="#48cb86"/><stop offset=".666" stop-color="#04bbc2"/><stop offset=".689" stop-color="#20a5e2"/><stop offset=".719" stop-color="#2b90ef"/><stop offset=".754" stop-color="#2e87f7"/><stop offset=".849" stop-color="#307efb"/><stop offset=".997" stop-color="#2e83f9"/></linearGradient>
<linearGradient id="g159" gradientUnits="userSpaceOnUse" x1="0" y1="0" x2="0" y2="169"><stop offset=".003" stop-color="#4434cf"/><stop offset=".021" stop-color="#4434cf"/><stop offset=".092" stop-color="#4850f3"/><stop offset=".216" stop-color="#3c71ff"/><stop offset=".429" stop-color="#2d8df2"/><stop offset=".459" stop-color="#20a5e2"/><stop offset=".476" stop-color="#01b9c8"/><stop offset=".500" stop-color="#44cb8a"/><stop offset=".524" stop-color="#aec637"/><stop offset=".530" stop-color="#c4c22a"/><stop offset=".541" stop-color="#e4bb2c"/><stop offset=".553" stop-color="#f3ba38"/><stop offset=".565" stop-color="#f2ba38"/><stop offset=".583" stop-color="#d3bf27"/><stop offset=".595" stop-color="#aac73a"/><stop offset=".618" stop-color="#42ca8b"/><stop offset=".642" stop-color="#02bac5"/><stop offset=".666" stop-color="#22a2e4"/><stop offset=".719" stop-color="#2d8af4"/><stop offset=".855" stop-color="#327bfc"/><stop offset=".997" stop-color="#2d8af4"/></linearGradient>
<linearGradient id="g160" gradientUnits="userSpaceOnUse" x1="0" y1="0" x2="0" y2="169"><stop offset=".003" stop-color="#4434d0"/><stop offset=".027" stop-color="#4740e4"/><stop offset=".068" stop-color="#484bef"/><stop offset=".222" stop-color="#3c71ff"/><stop offset=".429" stop-color="#23a0e5"/><stop offset=".453" stop-color="#18aedb"/><stop offset=".464" stop-color="#03b7cc"/><stop offset=".470" stop-color="#05bbc1"/><stop offset=".494" stop-color="#49cb85"/><stop offset=".512" stop-color="#9ac945"/><stop offset=".524" stop-color="#cbc129"/><stop offset=".541" stop-color="#f9ba3d"/><stop offset=".565" stop-color="#fec13a"/><stop offset=".577" stop-color="#f7ba3c"/><stop offset=".589" stop-color="#d9be28"/><stop offset=".595" stop-color="#c4c22b"/><stop offset=".624" stop-color="#3dc991"/><stop offset=".642" stop-color="#07bcbf"/><stop offset=".648" stop-color="#03b7cc"/><stop offset=".666" stop-color="#20a5e2"/><stop offset=".707" stop-color="#2c90f0"/><stop offset=".825" stop-color="#2f80fa"/><stop offset=".997" stop-color="#2e87f7"/></linearGradient>
<linearGradient id="g161" gradientUnits="userSpaceOnUse" x1="0" y1="0" x2="0" y2="169"><stop offset=".003" stop-color="#4434ce"/><stop offset=".021" stop-color="#4433cc"/><stop offset=".139" stop-color="#4757f8"/><stop offset=".222" stop-color="#3c72ff"/><stop offset=".435" stop-color="#21a3e3"/><stop offset=".459" stop-color="#16afda"/><stop offset=".470" stop-color="#02b7ca"/><stop offset=".476" stop-color="#06bcc0"/><stop offset=".500" stop-color="#4ccb82"/><stop offset=".518" stop-color="#a0c841"/><stop offset=".530" stop-color="#d2bf27"/><stop offset=".547" stop-color="#fdbd3d"/><stop offset=".565" stop-color="#fec835"/><stop offset=".583" stop-color="#fec03b"/><stop offset=".595" stop-color="#f2ba38"/><stop offset=".612" stop-color="#c6c22a"/><stop offset=".648" stop-color="#43ca8a"/><stop offset=".678" stop-color="#01b9c6"/><stop offset=".695" stop-color="#19addb"/><stop offset=".731" stop-color="#259ce7"/><stop offset=".843" stop-color="#2d88f6"/><stop offset=".997" stop-color="#2c8ef1"/></linearGradient>
<linearGradient id="g162" gradientUnits="userSpaceOnUse" x1="0" y1="0" x2="0" y2="169"><stop offset=".003" stop-color="#4434cf"/><stop offset=".021" stop-color="#463bdd"/><stop offset=".080" stop-color="#4847ec"/><stop offset=".222" stop-color="#3c71ff"/><stop offset=".441" stop-color="#259de7"/><stop offset=".459" stop-color="#1ca9e0"/><stop offset=".476" stop-color="#01b9c6"/><stop offset=".500" stop-color="#48cb86"/><stop offset=".524" stop-color="#bbc430"/><stop offset=".530" stop-color="#d3bf27"/><stop offset=".541" stop-color="#f5ba3b"/><stop offset=".565" stop-color="#fdcc32"/><stop offset=".589" stop-color="#fec03a"/><stop offset=".601" stop-color="#efba35"/><stop offset=".612" stop-color="#d0bf27"/><stop offset=".618" stop-color="#bcc42f"/><stop offset=".648" stop-color="#43ca8b"/><stop offset=".672" stop-color="#04bbc2"/><stop offset=".678" stop-color="#03b7cc"/><stop offset=".695" stop-color="#1da8e0"/><stop offset=".743" stop-color="#2a93ee"/><stop offset=".997" stop-color="#2d8bf4"/></linearGradient>
<linearGradient id="g163" gradientUnits="userSpaceOnUse" x1="0" y1="0" x2="0" y2="169"><stop offset=".003" stop-color="#4434ce"/><stop offset=".139" stop-color="#4756f7"/><stop offset=".228" stop-color="#3c71ff"/><stop offset=".429" stop-color="#249ee6"/><stop offset=".453" stop-color="#1aacdd"/><stop offset=".470" stop-color="#03bbc3"/><stop offset=".494" stop-color="#48cb86"/><stop offset=".512" stop-color="#99c946"/><stop offset=".524" stop-color="#cac129"/><stop offset=".536" stop-color="#ecba32"/><stop offset=".547" stop-color="#febd3c"/><stop offset=".571" stop-color="#fec13a"/><stop offset=".583" stop-color="#f5ba3a"/><stop offset=".595" stop-color="#d9be28"/><stop offset=".601" stop-color="#c5c22a"/><stop offset=".630" stop-color="#44cb89"/><stop offset=".654" stop-color="#02bac3"/><stop offset=".678" stop-color="#1da8e0"/><stop offset=".713" stop-color="#269ae9"/><stop offset=".843" stop-color="#2d87f6"/><stop offset=".997" stop-color="#2d89f6"/></linearGradient>
<linearGradient id="g164" gradientUnits="userSpaceOnUse" x1="0" y1="0" x2="0" y2="169"><stop offset=".003" stop-color="#4434ce"/><stop offset=".021" stop-color="#4434cd"/><stop offset=".115" stop-color="#4854f6"/><stop offset=".228" stop-color="#3c72ff"/><stop offset=".435" stop-color="#2995ec"/><stop offset=".464" stop-color="#1caadf"/><stop offset=".476" stop-color="#04b6cd"/><stop offset=".482" stop-color="#06bcc0"/><stop offset=".500" stop-color="#3fca8e"/><stop offset=".518" stop-color="#97ca48"/><stop offset=".530" stop-color="#ccc028"/><stop offset=".547" stop-color="#fabb3d"/><stop offset=".577" stop-color="#fec03b"/><stop offset=".589" stop-color="#f2ba38"/><stop offset=".601" stop-color="#d4bf28"/><stop offset=".607" stop-color="#bfc32d"/><stop offset=".630" stop-color="#53cc7d"/><stop offset=".654" stop-color="#06bcc0"/><stop offset=".660" stop-color="#04b6cd"/><stop offset=".672" stop-color="#1caadf"/><stop offset=".701" stop-color="#2c90f0"/><stop offset=".731" stop-color="#2e86f8"/><stop offset=".997" stop-color="#2d88f6"/></linearGradient>
<linearGradient id="g165" gradientUnits="userSpaceOnUse" x1="0" y1="0" x2="0" y2="169"><stop offset=".003" stop-color="#4434cf"/><stop offset=".080" stop-color="#484df1"/><stop offset=".186" stop-color="#3d71ff"/><stop offset=".228" stop-color="#3479fd"/><stop offset=".423" stop-color="#337afd"/><stop offset=".447" stop-color="#2e84f9"/><stop offset=".470" stop-color="#249ee6"/><stop offset=".488" stop-color="#05b6ce"/><stop offset=".494" stop-color="#07bcc0"/><stop offset=".512" stop-color="#40ca8d"/><stop offset=".536" stop-color="#a8c73b"/><stop offset=".547" stop-color="#ccc028"/><stop offset=".565" stop-color="#e0bc2a"/><stop offset=".583" stop-color="#d1bf27"/><stop offset=".601" stop-color="#9fc941"/><stop offset=".624" stop-color="#41ca8d"/><stop offset=".648" stop-color="#01b9c7"/><stop offset=".672" stop-color="#23a0e5"/><stop offset=".725" stop-color="#2d88f6"/><stop offset=".997" stop-color="#2e85f8"/></linearGradient>
<linearGradient id="g166" gradientUnits="userSpaceOnUse" x1="0" y1="0" x2="0" y2="169"><stop offset=".003" stop-color="#4434ce"/><stop offset=".115" stop-color="#4853f5"/><stop offset=".234" stop-color="#3d71ff"/><stop offset=".429" stop-color="#259ce7"/><stop offset=".447" stop-color="#1da9e0"/><stop offset=".464" stop-color="#01b8c8"/><stop offset=".488" stop-color="#3eca90"/><stop offset=".512" stop-color="#a2c83f"/><stop offset=".524" stop-color="#cec028"/><stop offset=".547" stop-color="#fcbd3d"/><stop offset=".577" stop-color="#febe3c"/><stop offset=".595" stop-color="#e2bc2b"/><stop offset=".607" stop-color="#bcc42f"/><stop offset=".636" stop-color="#3cc991"/><stop offset=".660" stop-color="#01b8ca"/><stop offset=".678" stop-color="#1da8e0"/><stop offset=".707" stop-color="#2798ea"/><stop offset=".873" stop-color="#2e83f9"/><stop offset=".997" stop-color="#2e83f9"/></linearGradient>
<linearGradient id="g167" gradientUnits="userSpaceOnUse" x1="0" y1="0" x2="0" y2="169"><stop offset=".003" stop-color="#4435d0"/><stop offset=".015" stop-color="#4742e6"/><stop offset=".033" stop-color="#484df1"/><stop offset=".228" stop-color="#3c71ff"/><stop offset=".305" stop-color="#2e83f9"/><stop offset=".435" stop-color="#2b91ef"/><stop offset=".464" stop-color="#1ca9df"/><stop offset=".476" stop-color="#03b7cc"/><stop offset=".482" stop-color="#09bdbe"/><stop offset=".500" stop-color="#47cb87"/><stop offset=".524" stop-color="#c1c32c"/><stop offset=".530" stop-color="#d8be28"/><stop offset=".541" stop-color="#f9bb3d"/><stop offset=".565" stop-color="#fcd030"/><stop offset=".589" stop-color="#fec239"/><stop offset=".595" stop-color="#f9bb3d"/><stop offset=".601" stop-color="#e9bb30"/><stop offset=".607" stop-color="#d4bf28"/><stop offset=".612" stop-color="#bac430"/><stop offset=".636" stop-color="#3ac993"/><stop offset=".654" stop-color="#01b8c9"/><stop offset=".672" stop-color="#21a3e3"/><stop offset=".707" stop-color="#2d8cf3"/><stop offset=".997" stop-color="#317efb"/></linearGradient>
<linearGradient id="g168" gradientUnits="userSpaceOnUse" x1="0" y1="0" x2="0" y2="169"><stop offset=".003" stop-color="#4434cf"/><stop offset=".080" stop-color="#473ee1"/><stop offset=".145" stop-color="#4853f5"/><stop offset=".234" stop-color="#3c72ff"/><stop offset=".299" stop-color="#2f81fa"/><stop offset=".429" stop-color="#2c90f0"/><stop offset=".459" stop-color="#1fa6e2"/><stop offset=".476" stop-color="#01b9c7"/><stop offset=".500" stop-color="#46cb88"/><stop offset=".518" stop-color="#98c947"/><stop offset=".530" stop-color="#c8c129"/><stop offset=".541" stop-color="#e9bb2f"/><stop offset=".553" stop-color="#fabb3d"/><stop offset=".577" stop-color="#febe3c"/><stop offset=".595" stop-color="#e6bb2d"/><stop offset=".607" stop-color="#c1c32c"/><stop offset=".636" stop-color="#39c994"/><stop offset=".654" stop-color="#02bac5"/><stop offset=".678" stop-color="#22a1e4"/><stop offset=".731" stop-color="#2d8af5"/><stop offset=".997" stop-color="#2e84f9"/></linearGradient>
<linearGradient id="g169" gradientUnits="userSpaceOnUse" x1="0" y1="0" x2="0" y2="169"><stop offset=".003" stop-color="#4435d0"/><stop offset=".021" stop-color="#4745e9"/><stop offset=".038" stop-color="#484cf0"/><stop offset=".216" stop-color="#3c71ff"/><stop offset=".429" stop-color="#2b92ee"/><stop offset=".459" stop-color="#1ea7e1"/><stop offset=".476" stop-color="#01b9c6"/><stop offset=".500" stop-color="#47cb87"/><stop offset=".524" stop-color="#afc637"/><stop offset=".536" stop-color="#d6be28"/><stop offset=".547" stop-color="#efba35"/><stop offset=".577" stop-color="#fcbc3d"/><stop offset=".601" stop-color="#d8be28"/><stop offset=".612" stop-color="#aec637"/><stop offset=".636" stop-color="#41ca8c"/><stop offset=".648" stop-color="#23c1af"/><stop offset=".654" stop-color="#09bcbe"/><stop offset=".660" stop-color="#03b7cb"/><stop offset=".678" stop-color="#22a2e4"/><stop offset=".713" stop-color="#2d89f5"/><stop offset=".997" stop-color="#347afd"/></linearGradient>
<linearGradient id="g170" gradientUnits="userSpaceOnUse" x1="0" y1="0" x2="0" y2="169"><stop offset=".003" stop-color="#4434cf"/><stop offset=".104" stop-color="#484df1"/><stop offset=".234" stop-color="#3b72ff"/><stop offset=".435" stop-color="#249ee6"/><stop offset=".453" stop-color="#1caadf"/><stop offset=".470" stop-color="#01b9c6"/><stop offset=".494" stop-color="#47cb87"/><stop offset=".518" stop-color="#b6c532"/><stop offset=".524" stop-color="#cdc028"/><stop offset=".536" stop-color="#eeba35"/><stop offset=".547" stop-color="#fec03b"/><stop offset=".565" stop-color="#feca33"/><stop offset=".589" stop-color="#febe3c"/><stop offset=".601" stop-color="#e9bb2f"/><stop offset=".612" stop-color="#c2c22c"/><stop offset=".636" stop-color="#51cc7f"/><stop offset=".660" stop-color="#02bbc3"/><stop offset=".678" stop-color="#1ca9e0"/><stop offset=".731" stop-color="#2c90f0"/><stop offset=".997" stop-color="#2e85f8"/></linearGradient>
<linearGradient id="g171" gradientUnits="userSpaceOnUse" x1="0" y1="0" x2="0" y2="169"><stop offset=".003" stop-color="#4434ce"/><stop offset=".109" stop-color="#4853f5"/><stop offset=".222" stop-color="#3c72ff"/><stop offset=".435" stop-color="#23a1e4"/><stop offset=".453" stop-color="#1aabdd"/><stop offset=".470" stop-color="#01bac5"/><stop offset=".494" stop-color="#41ca8c"/><stop offset=".524" stop-color="#bec32e"/><stop offset=".530" stop-color="#d2bf27"/><stop offset=".547" stop-color="#f7ba3c"/><stop offset=".583" stop-color="#febf3b"/><stop offset=".595" stop-color="#f4ba39"/><stop offset=".612" stop-color="#c9c129"/><stop offset=".624" stop-color="#9cc944"/><stop offset=".642" stop-color="#4ccb83"/><stop offset=".666" stop-color="#05bbc1"/><stop offset=".672" stop-color="#04b6cc"/><stop offset=".683" stop-color="#1aacdd"/><stop offset=".725" stop-color="#2994ed"/><stop offset=".861" stop-color="#2e85f8"/><stop offset=".997" stop-color="#2e87f7"/></linearGradient>
<linearGradient id="g172" gradientUnits="userSpaceOnUse" x1="0" y1="0" x2="0" y2="169"><stop offset=".003" stop-color="#4434cf"/><stop offset=".021" stop-color="#4433cc"/><stop offset=".115" stop-color="#4851f4"/><stop offset=".234" stop-color="#3d70ff"/><stop offset=".346" stop-color="#2b92ee"/><stop offset=".459" stop-color="#21a4e3"/><stop offset=".476" stop-color="#13b0d7"/><stop offset=".488" stop-color="#02bbc3"/><stop offset=".512" stop-color="#4ccb82"/><stop offset=".536" stop-color="#b5c533"/><stop offset=".541" stop-color="#c8c129"/><stop offset=".553" stop-color="#e3bc2c"/><stop offset=".577" stop-color="#efba35"/><stop offset=".601" stop-color="#cec028"/><stop offset=".612" stop-color="#a8c73b"/><stop offset=".636" stop-color="#43ca8a"/><stop offset=".660" stop-color="#01b9c8"/><stop offset=".678" stop-color="#1fa6e2"/><stop offset=".707" stop-color="#2c90f0"/><stop offset=".879" stop-color="#307ffb"/><stop offset=".997" stop-color="#2e84f9"/></linearGradient>
<linearGradient id="g173" gradientUnits="userSpaceOnUse" x1="0" y1="0" x2="0" y2="169"><stop offset=".003" stop-color="#4434ce"/><stop offset=".021" stop-color="#4230c4"/><stop offset=".062" stop-color="#473fe3"/><stop offset=".109" stop-color="#4854f6"/><stop offset=".210" stop-color="#3c72ff"/><stop offset=".435" stop-color="#21a3e3"/><stop offset=".459" stop-color="#15afd8"/><stop offset=".470" stop-color="#01b8c9"/><stop offset=".476" stop-color="#08bcbf"/><stop offset=".500" stop-color="#4ccb83"/><stop offset=".518" stop-color="#9ac945"/><stop offset=".530" stop-color="#c6c22a"/><stop offset=".553" stop-color="#f5ba3a"/><stop offset=".571" stop-color="#fbbc3d"/><stop offset=".595" stop-color="#e8bb2e"/><stop offset=".607" stop-color="#cdc028"/><stop offset=".612" stop-color="#bbc430"/><stop offset=".642" stop-color="#41ca8c"/><stop offset=".666" stop-color="#01b8c8"/><stop offset=".683" stop-color="#1fa6e2"/><stop offset=".719" stop-color="#2d8df2"/><stop offset=".891" stop-color="#317dfc"/><stop offset=".997" stop-color="#2f80fa"/></linearGradient>
<linearGradient id="g174" gradientUnits="userSpaceOnUse" x1="0" y1="0" x2="0" y2="169"><stop offset=".003" stop-color="#4434cd"/><stop offset=".021" stop-color="#412cb9"/><stop offset=".092" stop-color="#4848ec"/><stop offset=".198" stop-color="#3f6eff"/><stop offset=".447" stop-color="#2896eb"/><stop offset=".476" stop-color="#1caadf"/><stop offset=".488" stop-color="#04b6cd"/><stop offset=".494" stop-color="#06bcc0"/><stop offset=".512" stop-color="#3dca90"/><stop offset=".541" stop-color="#bbc42f"/><stop offset=".559" stop-color="#e5bb2c"/><stop offset=".583" stop-color="#edba33"/><stop offset=".601" stop-color="#d5be28"/><stop offset=".607" stop-color="#c6c22a"/><stop offset=".618" stop-color="#9bc944"/><stop offset=".636" stop-color="#49cb85"/><stop offset=".660" stop-color="#01b9c8"/><stop offset=".678" stop-color="#20a5e2"/><stop offset=".707" stop-color="#2c90f0"/><stop offset=".867" stop-color="#327bfc"/><stop offset=".997" stop-color="#337bfd"/></linearGradient>
<linearGradient id="g175" gradientUnits="userSpaceOnUse" x1="0" y1="0" x2="0" y2="169"><stop offset=".003" stop-color="#4434ce"/><stop offset=".021" stop-color="#4331c6"/><stop offset=".056" stop-color="#473fe2"/><stop offset=".109" stop-color="#4853f5"/><stop offset=".234" stop-color="#3c72ff"/><stop offset=".429" stop-color="#2798ea"/><stop offset=".459" stop-color="#1caadf"/><stop offset=".476" stop-color="#02bac3"/><stop offset=".500" stop-color="#54cc7d"/><stop offset=".518" stop-color="#b1c635"/><stop offset=".524" stop-color="#cbc129"/><stop offset=".536" stop-color="#f0ba36"/><stop offset=".547" stop-color="#fec438"/><stop offset=".571" stop-color="#fad62d"/><stop offset=".601" stop-color="#fec537"/><stop offset=".612" stop-color="#f2ba38"/><stop offset=".624" stop-color="#cbc029"/><stop offset=".630" stop-color="#b1c636"/><stop offset=".648" stop-color="#50cc7f"/><stop offset=".672" stop-color="#01bac5"/><stop offset=".689" stop-color="#1caadf"/><stop offset=".719" stop-color="#269ae8"/><stop offset=".997" stop-color="#2e86f7"/></linearGradient>
<linearGradient id="g176" gradientUnits="userSpaceOnUse" x1="0" y1="0" x2="0" y2="169"><stop offset=".003" stop-color="#4434ce"/><stop offset=".021" stop-color="#422ebf"/><stop offset=".056" stop-color="#463bde"/><stop offset=".104" stop-color="#4850f3"/><stop offset=".234" stop-color="#3c71ff"/><stop offset=".322" stop-color="#2d8af5"/><stop offset=".447" stop-color="#2698ea"/><stop offset=".470" stop-color="#1caadf"/><stop offset=".482" stop-color="#04b6cd"/><stop offset=".488" stop-color="#05bbc1"/><stop offset=".506" stop-color="#3dc990"/><stop offset=".536" stop-color="#c0c32d"/><stop offset=".541" stop-color="#d3bf27"/><stop offset=".559" stop-color="#f6ba3b"/><stop offset=".589" stop-color="#febd3c"/><stop offset=".607" stop-color="#e5bb2c"/><stop offset=".618" stop-color="#bdc32f"/><stop offset=".642" stop-color="#40ca8d"/><stop offset=".660" stop-color="#02bac4"/><stop offset=".678" stop-color="#1ea7e1"/><stop offset=".713" stop-color="#2994ed"/><stop offset=".997" stop-color="#2f82f9"/></linearGradient>
<linearGradient id="g177" gradientUnits="userSpaceOnUse" x1="0" y1="0" x2="0" y2="169"><stop offset=".003" stop-color="#4434ce"/><stop offset=".021" stop-color="#4433cd"/><stop offset=".092" stop-color="#4853f5"/><stop offset=".228" stop-color="#3c72ff"/><stop offset=".464" stop-color="#2797eb"/><stop offset=".488" stop-color="#1fa6e1"/><stop offset=".506" stop-color="#02bac5"/><stop offset=".524" stop-color="#3cc991"/><stop offset=".547" stop-color="#a7c73c"/><stop offset=".559" stop-color="#cbc129"/><stop offset=".577" stop-color="#dfbc2a"/><stop offset=".595" stop-color="#d4bf28"/><stop offset=".612" stop-color="#a7c73c"/><stop offset=".636" stop-color="#40ca8d"/><stop offset=".654" stop-color="#06bbc1"/><stop offset=".660" stop-color="#06b5cf"/><stop offset=".672" stop-color="#1ea7e1"/><stop offset=".719" stop-color="#2d87f7"/><stop offset=".784" stop-color="#307efb"/><stop offset=".902" stop-color="#2d89f5"/><stop offset=".997" stop-color="#2e84f9"/></linearGradient>
<linearGradient id="g178" gradientUnits="userSpaceOnUse" x1="0" y1="0" x2="0" y2="169"><stop offset=".003" stop-color="#4434ce"/><stop offset=".092" stop-color="#4853f5"/><stop offset=".222" stop-color="#3c72ff"/><stop offset=".476" stop-color="#259de7"/><stop offset=".488" stop-color="#1da8e0"/><stop offset=".500" stop-color="#05b6cd"/><stop offset=".506" stop-color="#08bcbf"/><stop offset=".524" stop-color="#48cb86"/><stop offset=".541" stop-color="#a3c83f"/><stop offset=".553" stop-color="#cec028"/><stop offset=".559" stop-color="#dcbd29"/><stop offset=".583" stop-color="#efba35"/><stop offset=".601" stop-color="#e3bc2c"/><stop offset=".612" stop-color="#cdc028"/><stop offset=".624" stop-color="#aac73a"/><stop offset=".642" stop-color="#5fcd73"/><stop offset=".672" stop-color="#01bac5"/><stop offset=".689" stop-color="#1da8e0"/><stop offset=".731" stop-color="#2b91ef"/><stop offset=".997" stop-color="#2d8cf3"/></linearGradient>
<linearGradient id="g179" gradientUnits="userSpaceOnUse" x1="0" y1="0" x2="0" y2="169"><stop offset=".003" stop-color="#4434ce"/><stop offset=".021" stop-color="#4433cc"/><stop offset=".121" stop-color="#4853f5"/><stop offset=".222" stop-color="#3b72ff"/><stop offset=".364" stop-color="#2995ec"/><stop offset=".459" stop-color="#249fe5"/><stop offset=".476" stop-color="#1caadf"/><stop offset=".494" stop-color="#02bac4"/><stop offset=".512" stop-color="#3ac994"/><stop offset=".541" stop-color="#c2c22c"/><stop offset=".553" stop-color="#e5bb2c"/><stop offset=".565" stop-color="#f8ba3d"/><stop offset=".589" stop-color="#febf3c"/><stop offset=".607" stop-color="#f2ba37"/><stop offset=".624" stop-color="#c3c22b"/><stop offset=".648" stop-color="#4dcc82"/><stop offset=".672" stop-color="#01b8c8"/><stop offset=".683" stop-color="#19addc"/><stop offset=".707" stop-color="#259de7"/><stop offset=".997" stop-color="#2d89f5"/></linearGradient>
<linearGradient id="g180" gradientUnits="userSpaceOnUse" x1="0" y1="0" x2="0" y2="169"><stop offset=".003" stop-color="#4434cf"/><stop offset=".092" stop-color="#484cf0"/><stop offset=".222" stop-color="#3c71ff"/><stop offset=".459" stop-color="#249fe5"/><stop offset=".476" stop-color="#1aabdd"/><stop offset=".488" stop-color="#04b6cc"/><stop offset=".494" stop-color="#06bcc0"/><stop offset=".512" stop-color="#42ca8b"/><stop offset=".536" stop-color="#bec32e"/><stop offset=".541" stop-color="#d5be28"/><stop offset=".553" stop-color="#f6ba3b"/><stop offset=".583" stop-color="#fdce31"/><stop offset=".612" stop-color="#febf3b"/><stop offset=".624" stop-color="#ebba31"/><stop offset=".636" stop-color="#c3c22b"/><stop offset=".660" stop-color="#46cb87"/><stop offset=".678" stop-color="#07bcbf"/><stop offset=".683" stop-color="#05b6cd"/><stop offset=".695" stop-color="#1da9e0"/><stop offset=".737" stop-color="#2d8cf3"/><stop offset=".820" stop-color="#2f80fa"/><stop offset=".997" stop-color="#2e83f9"/></linearGradient>
<linearGradient id="g181" gradientUnits="userSpaceOnUse" x1="0" y1="0" x2="0" y2="169"><stop offset=".003" stop-color="#4434cf"/><stop offset=".109" stop-color="#484ff2"/><stop offset=".228" stop-color="#3c72ff"/><stop offset=".464" stop-color="#23a0e5"/><stop offset=".482" stop-color="#19addc"/><stop offset=".494" stop-color="#01b8c8"/><stop offset=".518" stop-color="#50cc80"/><stop offset=".536" stop-color="#b5c533"/><stop offset=".541" stop-color="#d0bf27"/><stop offset=".553" stop-color="#f6ba3b"/><stop offset=".559" stop-color="#febf3b"/><stop offset=".589" stop-color="#fad52d"/><stop offset=".618" stop-color="#fec239"/><stop offset=".624" stop-color="#fabb3d"/><stop offset=".636" stop-color="#d8be28"/><stop offset=".648" stop-color="#9fc941"/><stop offset=".666" stop-color="#3bc992"/><stop offset=".683" stop-color="#01b9c7"/><stop offset=".695" stop-color="#1aacdd"/><stop offset=".725" stop-color="#2995ec"/><stop offset=".861" stop-color="#3776fe"/><stop offset=".997" stop-color="#3c71ff"/></linearGradient>
<linearGradient id="g182" gradientUnits="userSpaceOnUse" x1="0" y1="0" x2="0" y2="169"><stop offset=".003" stop-color="#4434cf"/><stop offset=".127" stop-color="#4853f5"/><stop offset=".216" stop-color="#3c71ff"/><stop offset=".470" stop-color="#21a3e3"/><stop offset=".488" stop-color="#14b0d8"/><stop offset=".500" stop-color="#03bbc2"/><stop offset=".518" stop-color="#42ca8c"/><stop offset=".536" stop-color="#a9c73b"/><stop offset=".541" stop-color="#c7c12a"/><stop offset=".553" stop-color="#f0ba36"/><stop offset=".565" stop-color="#fec338"/><stop offset=".589" stop-color="#fbd22f"/><stop offset=".618" stop-color="#febe3c"/><stop offset=".636" stop-color="#cdc028"/><stop offset=".642" stop-color="#b0c636"/><stop offset=".660" stop-color="#48cb86"/><stop offset=".678" stop-color="#08bcbf"/><stop offset=".683" stop-color="#02b7cb"/><stop offset=".695" stop-color="#19addc"/><stop offset=".731" stop-color="#259de7"/><stop offset=".885" stop-color="#2d87f7"/><stop offset=".997" stop-color="#2d8af4"/></linearGradient>
<linearGradient id="g183" gradientUnits="userSpaceOnUse" x1="0" y1="0" x2="0" y2="169"><stop offset=".003" stop-color="#4434ce"/><stop offset=".127" stop-color="#484ff2"/><stop offset=".240" stop-color="#3b72ff"/><stop offset=".470" stop-color="#249ee6"/><stop offset=".488" stop-color="#1aacdd"/><stop offset=".500" stop-color="#02b7cb"/><stop offset=".506" stop-color="#0abdbd"/><stop offset=".524" stop-color="#48cb86"/><stop offset=".547" stop-color="#c2c22c"/><stop offset=".559" stop-color="#e7bb2e"/><stop offset=".571" stop-color="#fabc3d"/><stop offset=".607" stop-color="#febf3c"/><stop offset=".624" stop-color="#e8bb2e"/><stop offset=".636" stop-color="#c3c22b"/><stop offset=".642" stop-color="#a9c73a"/><stop offset=".660" stop-color="#49cb85"/><stop offset=".678" stop-color="#09bcbe"/><stop offset=".683" stop-color="#03b7cc"/><stop offset=".701" stop-color="#21a3e3"/><stop offset=".743" stop-color="#2c90f0"/><stop offset=".997" stop-color="#2797eb"/></linearGradient>
<linearGradient id="g184" gradientUnits="userSpaceOnUse" x1="0" y1="0" x2="0" y2="169"><stop offset=".003" stop-color="#4434cf"/><stop offset=".121" stop-color="#4850f3"/><stop offset=".228" stop-color="#3c72ff"/><stop offset=".464" stop-color="#249ee6"/><stop offset=".482" stop-color="#1caadf"/><stop offset=".500" stop-color="#02bac5"/><stop offset=".518" stop-color="#3cc991"/><stop offset=".541" stop-color="#bdc32e"/><stop offset=".547" stop-color="#d6be28"/><stop offset=".559" stop-color="#f8ba3d"/><stop offset=".595" stop-color="#fcd12f"/><stop offset=".618" stop-color="#fec338"/><stop offset=".630" stop-color="#f1ba37"/><stop offset=".642" stop-color="#c9c129"/><stop offset=".648" stop-color="#acc738"/><stop offset=".666" stop-color="#45cb89"/><stop offset=".683" stop-color="#03bbc2"/><stop offset=".701" stop-color="#1ea7e1"/><stop offset=".725" stop-color="#2994ed"/><stop offset=".778" stop-color="#2e86f7"/><stop offset=".997" stop-color="#2a93ee"/></linearGradient>
<linearGradient id="g185" gradientUnits="userSpaceOnUse" x1="0" y1="0" x2="0" y2="169"><stop offset=".003" stop-color="#4434ce"/><stop offset=".021" stop-color="#4433cb"/><stop offset=".104" stop-color="#484ff2"/><stop offset=".234" stop-color="#3c72ff"/><stop offset=".334" stop-color="#2d8bf4"/><stop offset=".488" stop-color="#249ee6"/><stop offset=".506" stop-color="#19addc"/><stop offset=".518" stop-color="#01b9c7"/><stop offset=".541" stop-color="#4fcc80"/><stop offset=".559" stop-color="#a5c83d"/><stop offset=".577" stop-color="#d9be28"/><stop offset=".589" stop-color="#e7bb2e"/><stop offset=".607" stop-color="#eabb30"/><stop offset=".630" stop-color="#ccc028"/><stop offset=".642" stop-color="#a8c73b"/><stop offset=".654" stop-color="#73cd63"/><stop offset=".666" stop-color="#3dca90"/><stop offset=".683" stop-color="#03bbc2"/><stop offset=".701" stop-color="#1ea7e1"/><stop offset=".749" stop-color="#2c8ff1"/><stop offset=".997" stop-color="#2a93ed"/></linearGradient>
<linearGradient id="g186" gradientUnits="userSpaceOnUse" x1="0" y1="0" x2="0" y2="169"><stop offset=".003" stop-color="#4434ce"/><stop offset=".027" stop-color="#412cba"/><stop offset=".133" stop-color="#4850f3"/><stop offset=".234" stop-color="#3d71ff"/><stop offset=".293" stop-color="#2f81fa"/><stop offset=".464" stop-color="#269ae9"/><stop offset=".494" stop-color="#1ca9df"/><stop offset=".512" stop-color="#02bbc3"/><stop offset=".530" stop-color="#3fca8e"/><stop offset=".553" stop-color="#bcc42f"/><stop offset=".559" stop-color="#d3bf27"/><stop offset=".571" stop-color="#f3ba38"/><stop offset=".601" stop-color="#fec835"/><stop offset=".624" stop-color="#fec03a"/><stop offset=".636" stop-color="#f4ba3a"/><stop offset=".642" stop-color="#e9bb2f"/><stop offset=".654" stop-color="#c6c22a"/><stop offset=".660" stop-color="#aec637"/><stop offset=".683" stop-color="#3dc991"/><stop offset=".707" stop-color="#01b8c9"/><stop offset=".725" stop-color="#1aabdd"/><stop offset=".749" stop-color="#22a2e4"/><stop offset=".997" stop-color="#2d89f5"/></linearGradient>
<linearGradient id="g187" gradientUnits="userSpaceOnUse" x1="0" y1="0" x2="0" y2="169"><stop offset=".003" stop-color="#4434cf"/><stop offset=".092" stop-color="#484bef"/><stop offset=".216" stop-color="#3c72ff"/><stop offset=".494" stop-color="#20a4e3"/><stop offset=".512" stop-color="#15afd8"/><stop offset=".524" stop-color="#02bbc3"/><stop offset=".541" stop-color="#49cb85"/><stop offset=".559" stop-color="#bfc32e"/><stop offset=".565" stop-color="#dcbd29"/><stop offset=".571" stop-color="#f1ba37"/><stop offset=".577" stop-color="#febe3c"/><stop offset=".601" stop-color="#fbd22f"/><stop offset=".636" stop-color="#febe3c"/><stop offset=".648" stop-color="#e8bb2f"/><stop offset=".660" stop-color="#bfc32e"/><stop offset=".683" stop-color="#43ca8a"/><stop offset=".701" stop-color="#08bcbf"/><stop offset=".707" stop-color="#03b7cc"/><stop offset=".719" stop-color="#1aacdd"/><stop offset=".749" stop-color="#269ae8"/><stop offset=".997" stop-color="#2e84f9"/></linearGradient>
<linearGradient id="g188" gradientUnits="userSpaceOnUse" x1="0" y1="0" x2="0" y2="169"><stop offset=".003" stop-color="#4434cf"/><stop offset=".121" stop-color="#4852f4"/><stop offset=".222" stop-color="#3d71ff"/><stop offset=".482" stop-color="#1fa6e2"/><stop offset=".506" stop-color="#11b1d6"/><stop offset=".518" stop-color="#02bbc3"/><stop offset=".536" stop-color="#3dc990"/><stop offset=".559" stop-color="#c6c22a"/><stop offset=".571" stop-color="#f2ba38"/><stop offset=".577" stop-color="#febe3c"/><stop offset=".607" stop-color="#f9d72c"/><stop offset=".642" stop-color="#febf3b"/><stop offset=".648" stop-color="#f5ba3b"/><stop offset=".660" stop-color="#cdc028"/><stop offset=".666" stop-color="#b0c636"/><stop offset=".683" stop-color="#43ca8a"/><stop offset=".701" stop-color="#01b9c7"/><stop offset=".719" stop-color="#22a2e4"/><stop offset=".749" stop-color="#2d8bf3"/><stop offset=".997" stop-color="#2e85f8"/></linearGradient>
<linearGradient id="g189" gradientUnits="userSpaceOnUse" x1="0" y1="0" x2="0" y2="169"><stop offset=".003" stop-color="#4434ce"/><stop offset=".021" stop-color="#4331c7"/><stop offset=".121" stop-color="#4853f5"/><stop offset=".222" stop-color="#3b72ff"/><stop offset=".547" stop-color="#22a2e4"/><stop offset=".565" stop-color="#17aeda"/><stop offset=".571" stop-color="#03b7cc"/><stop offset=".583" stop-color="#3ac993"/><stop offset=".595" stop-color="#a7c73c"/><stop offset=".601" stop-color="#d0bf27"/><stop offset=".607" stop-color="#e9bb2f"/><stop offset=".618" stop-color="#f7ba3d"/><stop offset=".636" stop-color="#ecba32"/><stop offset=".654" stop-color="#c2c22c"/><stop offset=".672" stop-color="#6ccd68"/><stop offset=".695" stop-color="#06bcc0"/><stop offset=".701" stop-color="#07b5d0"/><stop offset=".713" stop-color="#20a4e3"/><stop offset=".754" stop-color="#2e85f8"/><stop offset=".997" stop-color="#2c8ef2"/></linearGradient>
<linearGradient id="g190" gradientUnits="userSpaceOnUse" x1="0" y1="0" x2="0" y2="169"><stop offset=".003" stop-color="#4434ce"/><stop offset=".021" stop-color="#4330c4"/><stop offset=".104" stop-color="#4848ec"/><stop offset=".228" stop-color="#3e70ff"/><stop offset=".388" stop-color="#2c90f0"/><stop offset=".565" stop-color="#2699ea"/><stop offset=".583" stop-color="#14b0d8"/><stop offset=".589" stop-color="#0ebdbb"/><stop offset=".595" stop-color="#3ac994"/><stop offset=".607" stop-color="#9ec942"/><stop offset=".612" stop-color="#b4c533"/><stop offset=".618" stop-color="#b8c431"/><stop offset=".630" stop-color="#b3c534"/><stop offset=".648" stop-color="#95ca49"/><stop offset=".672" stop-color="#45cb89"/><stop offset=".695" stop-color="#02bac4"/><stop offset=".713" stop-color="#1ca9df"/><stop offset=".743" stop-color="#2797eb"/><stop offset=".920" stop-color="#3579fd"/><stop offset=".997" stop-color="#327bfc"/></linearGradient>
<linearGradient id="g191" gradientUnits="userSpaceOnUse" x1="0" y1="0" x2="0" y2="169"><stop offset=".003" stop-color="#4434d0"/><stop offset=".033" stop-color="#4849ed"/><stop offset=".092" stop-color="#475bfa"/><stop offset=".317" stop-color="#2f81fa"/><stop offset=".441" stop-color="#3678fe"/><stop offset=".506" stop-color="#2c8ef1"/><stop offset=".524" stop-color="#19acdc"/><stop offset=".530" stop-color="#02b7cb"/><stop offset=".541" stop-color="#35c79a"/><stop offset=".559" stop-color="#a6c73c"/><stop offset=".571" stop-color="#d6be28"/><stop offset=".583" stop-color="#e9bb2f"/><stop offset=".595" stop-color="#ecba32"/><stop offset=".612" stop-color="#e3bc2c"/><stop offset=".624" stop-color="#d1bf27"/><stop offset=".642" stop-color="#9cc943"/><stop offset=".666" stop-color="#3ac993"/><stop offset=".683" stop-color="#06bcc0"/><stop offset=".689" stop-color="#03b7cc"/><stop offset=".713" stop-color="#23a1e4"/><stop offset=".754" stop-color="#2d8df2"/><stop offset=".831" stop-color="#2f81fa"/><stop offset=".997" stop-color="#307efb"/></linearGradient>
<linearGradient id="g192" gradientUnits="userSpaceOnUse" x1="0" y1="0" x2="0" y2="169"><stop offset=".003" stop-color="#4434cf"/><stop offset=".074" stop-color="#484aee"/><stop offset=".228" stop-color="#3c71ff"/><stop offset=".311" stop-color="#2f80fa"/><stop offset=".453" stop-color="#2d88f6"/><stop offset=".488" stop-color="#21a2e4"/><stop offset=".506" stop-color="#02bac5"/><stop offset=".524" stop-color="#46cb88"/><stop offset=".541" stop-color="#afc637"/><stop offset=".547" stop-color="#cbc129"/><stop offset=".559" stop-color="#f0ba36"/><stop offset=".571" stop-color="#fec13a"/><stop offset=".595" stop-color="#fdcc32"/><stop offset=".624" stop-color="#fec239"/><stop offset=".636" stop-color="#f6ba3c"/><stop offset=".642" stop-color="#ebba32"/><stop offset=".654" stop-color="#cbc129"/><stop offset=".660" stop-color="#b5c533"/><stop offset=".683" stop-color="#46cb88"/><stop offset=".707" stop-color="#01b9c6"/><stop offset=".731" stop-color="#21a3e3"/><stop offset=".772" stop-color="#2c90f0"/><stop offset=".997" stop-color="#2e86f8"/></linearGradient>
<linearGradient id="g193" gradientUnits="userSpaceOnUse" x1="0" y1="0" x2="0" y2="169"><stop offset=".003" stop-color="#4434ce"/><stop offset=".015" stop-color="#412cba"/><stop offset=".027" stop-color="#402ab5"/><stop offset=".109" stop-color="#4848ec"/><stop offset=".228" stop-color="#3c71ff"/><stop offset=".299" stop-color="#307ffb"/><stop offset=".447" stop-color="#2d8cf3"/><stop offset=".488" stop-color="#1da8e0"/><stop offset=".506" stop-color="#05bbc1"/><stop offset=".524" stop-color="#40ca8d"/><stop offset=".547" stop-color="#b3c534"/><stop offset=".553" stop-color="#c9c129"/><stop offset=".565" stop-color="#e7bb2e"/><stop offset=".583" stop-color="#fdbd3d"/><stop offset=".624" stop-color="#febe3c"/><stop offset=".642" stop-color="#efba35"/><stop offset=".654" stop-color="#d9bd28"/><stop offset=".666" stop-color="#b8c431"/><stop offset=".695" stop-color="#41ca8c"/><stop offset=".719" stop-color="#03bbc2"/><stop offset=".737" stop-color="#17aeda"/><stop offset=".760" stop-color="#23a0e5"/><stop offset=".997" stop-color="#2f82f9"/></linearGradient>
<linearGradient id="g194" gradientUnits="userSpaceOnUse" x1="0" y1="0" x2="0" y2="169"><stop offset=".003" stop-color="#4434cf"/><stop offset=".080" stop-color="#484ff2"/><stop offset=".192" stop-color="#3c71ff"/><stop offset=".488" stop-color="#2a93ed"/><stop offset=".512" stop-color="#1ca9e0"/><stop offset=".524" stop-color="#02b7ca"/><stop offset=".541" stop-color="#38c896"/><stop offset=".565" stop-color="#adc638"/><stop offset=".577" stop-color="#d6be28"/><stop offset=".589" stop-color="#edba33"/><stop offset=".624" stop-color="#f9ba3d"/><stop offset=".648" stop-color="#e5bb2c"/><stop offset=".660" stop-color="#cec028"/><stop offset=".672" stop-color="#aac73a"/><stop offset=".689" stop-color="#61cd71"/><stop offset=".719" stop-color="#05bbc1"/><stop offset=".725" stop-color="#03b7cc"/><stop offset=".743" stop-color="#1ea7e1"/><stop offset=".772" stop-color="#2797eb"/><stop offset=".997" stop-color="#327bfc"/></linearGradient>
<linearGradient id="g195" gradientUnits="userSpaceOnUse" x1="0" y1="0" x2="0" y2="169"><stop offset=".003" stop-color="#4434cf"/><stop offset=".080" stop-color="#484ff2"/><stop offset=".204" stop-color="#3c71ff"/><stop offset=".494" stop-color="#2c90f0"/><stop offset=".524" stop-color="#20a4e3"/><stop offset=".541" stop-color="#02bac5"/><stop offset=".559" stop-color="#44cb89"/><stop offset=".577" stop-color="#abc739"/><stop offset=".583" stop-color="#c6c22a"/><stop offset=".595" stop-color="#ebba31"/><stop offset=".607" stop-color="#fdbd3d"/><stop offset=".630" stop-color="#fec636"/><stop offset=".654" stop-color="#febe3c"/><stop offset=".672" stop-color="#e6bb2d"/><stop offset=".683" stop-color="#c5c22a"/><stop offset=".713" stop-color="#3fca8e"/><stop offset=".731" stop-color="#09bcbe"/><stop offset=".737" stop-color="#01b8ca"/><stop offset=".749" stop-color="#18addb"/><stop offset=".766" stop-color="#23a0e5"/><stop offset=".808" stop-color="#2796eb"/><stop offset=".920" stop-color="#2995ec"/><stop offset=".997" stop-color="#3080fb"/></linearGradient>
<linearGradient id="g196" gradientUnits="userSpaceOnUse" x1="0" y1="0" x2="0" y2="169"><stop offset=".003" stop-color="#4434d0"/><stop offset=".021" stop-color="#4740e4"/><stop offset=".044" stop-color="#4847ec"/><stop offset=".228" stop-color="#3b72ff"/><stop offset=".364" stop-color="#2c8ef2"/><stop offset=".518" stop-color="#2798ea"/><stop offset=".541" stop-color="#1baade"/><stop offset=".553" stop-color="#01b8c8"/><stop offset=".571" stop-color="#3fca8e"/><stop offset=".589" stop-color="#acc738"/><stop offset=".595" stop-color="#cac129"/><stop offset=".607" stop-color="#f0ba36"/><stop offset=".618" stop-color="#fec13a"/><stop offset=".636" stop-color="#fec934"/><stop offset=".666" stop-color="#febd3c"/><stop offset=".683" stop-color="#dfbc2a"/><stop offset=".695" stop-color="#b5c533"/><stop offset=".719" stop-color="#3cc991"/><stop offset=".737" stop-color="#01b9c6"/><stop offset=".754" stop-color="#21a3e3"/><stop offset=".790" stop-color="#2d88f6"/><stop offset=".997" stop-color="#2d8df2"/></linearGradient>
<linearGradient id="g197" gradientUnits="userSpaceOnUse" x1="0" y1="0" x2="0" y2="169"><stop offset=".003" stop-color="#4434cf"/><stop offset=".027" stop-color="#4741e5"/><stop offset=".228" stop-color="#3c71ff"/><stop offset=".311" stop-color="#2e83f9"/><stop offset=".524" stop-color="#249ee6"/><stop offset=".541" stop-color="#1babde"/><stop offset=".553" stop-color="#02b7cb"/><stop offset=".559" stop-color="#09bcbe"/><stop offset=".577" stop-color="#47cb87"/><stop offset=".601" stop-color="#bcc42f"/><stop offset=".607" stop-color="#d0c027"/><stop offset=".618" stop-color="#eaba31"/><stop offset=".642" stop-color="#fbbc3d"/><stop offset=".666" stop-color="#f2ba38"/><stop offset=".678" stop-color="#e2bc2b"/><stop offset=".689" stop-color="#c3c22b"/><stop offset=".701" stop-color="#93ca4a"/><stop offset=".713" stop-color="#57cc7a"/><stop offset=".737" stop-color="#02bac4"/><stop offset=".754" stop-color="#1ea7e1"/><stop offset=".784" stop-color="#2a93ee"/><stop offset=".997" stop-color="#2798ea"/></linearGradient>
<linearGradient id="g198" gradientUnits="userSpaceOnUse" x1="0" y1="0" x2="0" y2="169"><stop offset=".003" stop-color="#4434ce"/><stop offset=".021" stop-color="#4332ca"/><stop offset=".056" stop-color="#4744e8"/><stop offset=".092" stop-color="#4756f7"/><stop offset=".175" stop-color="#3b72ff"/><stop offset=".506" stop-color="#249fe5"/><stop offset=".530" stop-color="#19addc"/><stop offset=".541" stop-color="#02b7cb"/><stop offset=".547" stop-color="#08bcbf"/><stop offset=".565" stop-color="#41ca8d"/><stop offset=".583" stop-color="#9ac945"/><stop offset=".595" stop-color="#ccc028"/><stop offset=".607" stop-color="#ebba31"/><stop offset=".618" stop-color="#fbbc3d"/><stop offset=".660" stop-color="#febd3c"/><stop offset=".672" stop-color="#f3ba38"/><stop offset=".689" stop-color="#c8c129"/><stop offset=".701" stop-color="#96ca49"/><stop offset=".719" stop-color="#3dc991"/><stop offset=".737" stop-color="#02bac4"/><stop offset=".754" stop-color="#1ea8e1"/><stop offset=".796" stop-color="#2a93ee"/><stop offset=".867" stop-color="#2c8ff0"/><stop offset=".997" stop-color="#259ce7"/></linearGradient>
<linearGradient id="g199" gradientUnits="userSpaceOnUse" x1="0" y1="0" x2="0" y2="169"><stop offset=".003" stop-color="#4434ce"/><stop offset=".033" stop-color="#4743e7"/><stop offset=".074" stop-color="#4757f7"/><stop offset=".175" stop-color="#3b72ff"/><stop offset=".488" stop-color="#259de7"/><stop offset=".518" stop-color="#1baade"/><stop offset=".536" stop-color="#01b9c8"/><stop offset=".559" stop-color="#48cb86"/><stop offset=".577" stop-color="#acc739"/><stop offset=".583" stop-color="#c9c129"/><stop offset=".601" stop-color="#fdbd3d"/><stop offset=".636" stop-color="#f8da2b"/><stop offset=".660" stop-color="#fad42e"/><stop offset=".678" stop-color="#fec239"/><stop offset=".683" stop-color="#fabb3d"/><stop offset=".689" stop-color="#ecba32"/><stop offset=".695" stop-color="#d8be28"/><stop offset=".701" stop-color="#bec32e"/><stop offset=".725" stop-color="#3ac994"/><stop offset=".743" stop-color="#01b8ca"/><stop offset=".760" stop-color="#21a3e3"/><stop offset=".802" stop-color="#2d8df2"/><stop offset=".885" stop-color="#2d8af4"/><stop offset=".997" stop-color="#2797eb"/></linearGradient>
<linearGradient id="g200" gradientUnits="userSpaceOnUse" x1="0" y1="0" x2="0" y2="169"><stop offset=".003" stop-color="#4434cf"/><stop offset=".080" stop-color="#484ff2"/><stop offset=".228" stop-color="#3c71ff"/><stop offset=".417" stop-color="#2798ea"/><stop offset=".512" stop-color="#259de7"/><stop offset=".536" stop-color="#18aedb"/><stop offset=".547" stop-color="#01b9c6"/><stop offset=".565" stop-color="#3ac993"/><stop offset=".589" stop-color="#b6c532"/><stop offset=".595" stop-color="#cec028"/><stop offset=".612" stop-color="#f9bb3d"/><stop offset=".636" stop-color="#fec537"/><stop offset=".660" stop-color="#febf3b"/><stop offset=".672" stop-color="#f4ba39"/><stop offset=".683" stop-color="#dabd28"/><stop offset=".695" stop-color="#afc637"/><stop offset=".719" stop-color="#38c897"/><stop offset=".737" stop-color="#02b7cb"/><stop offset=".754" stop-color="#23a0e5"/><stop offset=".796" stop-color="#2f82f9"/><stop offset=".938" stop-color="#3f6dfe"/><stop offset=".997" stop-color="#3b72ff"/></linearGradient>
<linearGradient id="g201" gradientUnits="userSpaceOnUse" x1="0" y1="0" x2="0" y2="169"><stop offset=".003" stop-color="#4434cf"/><stop offset=".033" stop-color="#4741e6"/><stop offset=".074" stop-color="#4852f4"/><stop offset=".234" stop-color="#3b72ff"/><stop offset=".506" stop-color="#23a0e5"/><stop offset=".524" stop-color="#19addc"/><stop offset=".536" stop-color="#02b7cb"/><stop offset=".541" stop-color="#08bcbf"/><stop offset=".559" stop-color="#40ca8d"/><stop offset=".583" stop-color="#b4c533"/><stop offset=".589" stop-color="#cbc029"/><stop offset=".601" stop-color="#ecba32"/><stop offset=".618" stop-color="#fec13a"/><stop offset=".648" stop-color="#fec736"/><stop offset=".666" stop-color="#febf3b"/><stop offset=".683" stop-color="#e7bb2e"/><stop offset=".695" stop-color="#c4c22b"/><stop offset=".719" stop-color="#51cc7f"/><stop offset=".743" stop-color="#03bbc3"/><stop offset=".760" stop-color="#1aacdd"/><stop offset=".796" stop-color="#259be8"/><stop offset=".997" stop-color="#2895ec"/></linearGradient>
<linearGradient id="g202" gradientUnits="userSpaceOnUse" x1="0" y1="0" x2="0" y2="169"><stop offset=".003" stop-color="#4434cf"/><stop offset=".080" stop-color="#484ef1"/><stop offset=".234" stop-color="#3d70ff"/><stop offset=".340" stop-color="#2d8af5"/><stop offset=".506" stop-color="#2b91ef"/><stop offset=".536" stop-color="#1ca9df"/><stop offset=".547" stop-color="#03b7cc"/><stop offset=".553" stop-color="#0abdbd"/><stop offset=".571" stop-color="#4ccb83"/><stop offset=".589" stop-color="#a9c73a"/><stop offset=".595" stop-color="#c1c32c"/><stop offset=".612" stop-color="#eeba34"/><stop offset=".642" stop-color="#fdbd3d"/><stop offset=".666" stop-color="#f3ba39"/><stop offset=".689" stop-color="#c6c22a"/><stop offset=".701" stop-color="#9ac945"/><stop offset=".719" stop-color="#47cb87"/><stop offset=".743" stop-color="#01b8c9"/><stop offset=".760" stop-color="#20a5e3"/><stop offset=".808" stop-color="#2d88f6"/><stop offset=".997" stop-color="#2e87f7"/></linearGradient>
<linearGradient id="g203" gradientUnits="userSpaceOnUse" x1="0" y1="0" x2="0" y2="169"><stop offset=".003" stop-color="#4434ce"/><stop offset=".021" stop-color="#4433cc"/><stop offset=".062" stop-color="#4743e7"/><stop offset=".115" stop-color="#4756f7"/><stop offset=".234" stop-color="#3b72ff"/><stop offset=".417" stop-color="#269ae9"/><stop offset=".530" stop-color="#269be8"/><stop offset=".547" stop-color="#1caadf"/><stop offset=".559" stop-color="#03b7cc"/><stop offset=".565" stop-color="#09bcbe"/><stop offset=".583" stop-color="#46cb88"/><stop offset=".607" stop-color="#b3c534"/><stop offset=".624" stop-color="#dfbc2a"/><stop offset=".642" stop-color="#efba35"/><stop offset=".660" stop-color="#f0ba36"/><stop offset=".672" stop-color="#eabb30"/><stop offset=".689" stop-color="#cec028"/><stop offset=".701" stop-color="#aac73a"/><stop offset=".725" stop-color="#40ca8d"/><stop offset=".743" stop-color="#08bcbf"/><stop offset=".749" stop-color="#02b7cb"/><stop offset=".766" stop-color="#1fa6e2"/><stop offset=".796" stop-color="#2994ed"/><stop offset=".997" stop-color="#2e83f9"/></linearGradient>
<linearGradient id="g204" gradientUnits="userSpaceOnUse" x1="0" y1="0" x2="0" y2="169"><stop offset=".003" stop-color="#4434cf"/><stop offset=".021" stop-color="#473ee2"/><stop offset=".056" stop-color="#484aee"/><stop offset=".234" stop-color="#3d71ff"/><stop offset=".340" stop-color="#2d8af5"/><stop offset=".476" stop-color="#2d89f5"/><stop offset=".512" stop-color="#2b92ee"/><stop offset=".536" stop-color="#1da8e0"/><stop offset=".547" stop-color="#03b7cc"/><stop offset=".553" stop-color="#0abdbd"/><stop offset=".565" stop-color="#37c898"/><stop offset=".589" stop-color="#b6c533"/><stop offset=".595" stop-color="#cfc028"/><stop offset=".607" stop-color="#f2ba38"/><stop offset=".618" stop-color="#fec239"/><stop offset=".648" stop-color="#fdce31"/><stop offset=".672" stop-color="#fec339"/><stop offset=".683" stop-color="#f4ba3a"/><stop offset=".695" stop-color="#d4bf28"/><stop offset=".701" stop-color="#bdc42f"/><stop offset=".725" stop-color="#3eca8f"/><stop offset=".743" stop-color="#02bac5"/><stop offset=".760" stop-color="#1fa6e2"/><stop offset=".790" stop-color="#2b91ef"/><stop offset=".997" stop-color="#2e87f7"/></linearGradient>
<linearGradient id="g205" gradientUnits="userSpaceOnUse" x1="0" y1="0" x2="0" y2="169"><stop offset=".003" stop-color="#4434cf"/><stop offset=".021" stop-color="#422ebe"/><stop offset=".121" stop-color="#4853f5"/><stop offset=".216" stop-color="#3b72ff"/><stop offset=".494" stop-color="#2d8df2"/><stop offset=".530" stop-color="#21a3e3"/><stop offset=".547" stop-color="#03b7cc"/><stop offset=".553" stop-color="#09bcbe"/><stop offset=".571" stop-color="#45cb89"/><stop offset=".595" stop-color="#b3c534"/><stop offset=".607" stop-color="#d7be28"/><stop offset=".618" stop-color="#ecba33"/><stop offset=".654" stop-color="#f9bb3d"/><stop offset=".672" stop-color="#eabb30"/><stop offset=".683" stop-color="#d0bf27"/><stop offset=".695" stop-color="#a4c83e"/><stop offset=".707" stop-color="#65cd6e"/><stop offset=".731" stop-color="#03bbc2"/><stop offset=".743" stop-color="#1aabdd"/><stop offset=".766" stop-color="#2d8df2"/><stop offset=".808" stop-color="#3578fd"/><stop offset=".997" stop-color="#307ffb"/></linearGradient>
<linearGradient id="g206" gradientUnits="userSpaceOnUse" x1="0" y1="0" x2="0" y2="169"><stop offset=".003" stop-color="#4434cf"/><stop offset=".080" stop-color="#484ef1"/><stop offset=".216" stop-color="#3c72ff"/><stop offset=".370" stop-color="#2e87f7"/><stop offset=".506" stop-color="#1fa6e2"/><stop offset=".524" stop-color="#18addb"/><stop offset=".541" stop-color="#01b9c6"/><stop offset=".565" stop-color="#49cb85"/><stop offset=".583" stop-color="#aec637"/><stop offset=".589" stop-color="#cac129"/><stop offset=".601" stop-color="#f1ba37"/><stop offset=".612" stop-color="#fec239"/><stop offset=".636" stop-color="#fccf30"/><stop offset=".672" stop-color="#fec03b"/><stop offset=".683" stop-color="#f2ba37"/><stop offset=".695" stop-color="#d5be28"/><stop offset=".701" stop-color="#c0c32d"/><stop offset=".725" stop-color="#4ccb83"/><stop offset=".749" stop-color="#01b8ca"/><stop offset=".766" stop-color="#22a2e4"/><stop offset=".814" stop-color="#2e83f9"/><stop offset=".997" stop-color="#2f82f9"/></linearGradient>
<linearGradient id="g207" gradientUnits="userSpaceOnUse" x1="0" y1="0" x2="0" y2="169"><stop offset=".003" stop-color="#4434ce"/><stop offset=".015" stop-color="#4332cb"/><stop offset=".050" stop-color="#4742e6"/><stop offset=".092" stop-color="#4853f5"/><stop offset=".228" stop-color="#3b72ff"/><stop offset=".518" stop-color="#21a4e3"/><stop offset=".536" stop-color="#13b1d7"/><stop offset=".547" stop-color="#05bbc1"/><stop offset=".565" stop-color="#45cb88"/><stop offset=".583" stop-color="#b4c534"/><stop offset=".589" stop-color="#d2bf27"/><stop offset=".601" stop-color="#fabb3d"/><stop offset=".636" stop-color="#f7dd2a"/><stop offset=".660" stop-color="#f9d82c"/><stop offset=".683" stop-color="#fec03b"/><stop offset=".689" stop-color="#f7ba3c"/><stop offset=".695" stop-color="#e8bb2e"/><stop offset=".701" stop-color="#d3bf27"/><stop offset=".707" stop-color="#b9c430"/><stop offset=".731" stop-color="#39c895"/><stop offset=".749" stop-color="#01b8ca"/><stop offset=".760" stop-color="#1caadf"/><stop offset=".790" stop-color="#2c90f0"/><stop offset=".997" stop-color="#2b90f0"/></linearGradient>
<linearGradient id="g208" gradientUnits="userSpaceOnUse" x1="0" y1="0" x2="0" y2="169"><stop offset=".003" stop-color="#4434ce"/><stop offset=".104" stop-color="#4757f8"/><stop offset=".228" stop-color="#3c72ff"/><stop offset=".305" stop-color="#2e83f9"/><stop offset=".512" stop-color="#249fe6"/><stop offset=".536" stop-color="#17aeda"/><stop offset=".547" stop-color="#01b8c8"/><stop offset=".571" stop-color="#4ccb83"/><stop offset=".589" stop-color="#b2c535"/><stop offset=".595" stop-color="#cec028"/><stop offset=".612" stop-color="#febd3c"/><stop offset=".642" stop-color="#fbd32f"/><stop offset=".683" stop-color="#fec03b"/><stop offset=".695" stop-color="#eeba34"/><stop offset=".707" stop-color="#cbc129"/><stop offset=".713" stop-color="#b3c534"/><stop offset=".737" stop-color="#3cc992"/><stop offset=".754" stop-color="#02bac5"/><stop offset=".778" stop-color="#249fe6"/><stop offset=".820" stop-color="#2e84f9"/><stop offset=".920" stop-color="#3776fe"/><stop offset=".997" stop-color="#3578fd"/></linearGradient>
<linearGradient id="g209" gradientUnits="userSpaceOnUse" x1="0" y1="0" x2="0" y2="169"><stop offset=".003" stop-color="#4434cf"/><stop offset=".086" stop-color="#4853f5"/><stop offset=".222" stop-color="#3c71ff"/><stop offset=".441" stop-color="#2798ea"/><stop offset=".476" stop-color="#19addc"/><stop offset=".494" stop-color="#01b9c8"/><stop offset=".530" stop-color="#40ca8d"/><stop offset=".541" stop-color="#5fcd73"/><stop offset=".565" stop-color="#9cc944"/><stop offset=".589" stop-color="#c6c22a"/><stop offset=".636" stop-color="#e3bc2c"/><stop offset=".666" stop-color="#cec028"/><stop offset=".683" stop-color="#a1c840"/><stop offset=".707" stop-color="#41ca8c"/><stop offset=".731" stop-color="#01b8c9"/><stop offset=".754" stop-color="#23a0e5"/><stop offset=".837" stop-color="#327bfc"/><stop offset=".891" stop-color="#3a74fe"/><stop offset=".997" stop-color="#327cfc"/></linearGradient>
<linearGradient id="g210" gradientUnits="userSpaceOnUse" x1="0" y1="0" x2="0" y2="169"><stop offset=".003" stop-color="#4434ce"/><stop offset=".086" stop-color="#4747ec"/><stop offset=".192" stop-color="#4660fc"/><stop offset=".269" stop-color="#337bfd"/><stop offset=".399" stop-color="#2d8af5"/><stop offset=".459" stop-color="#249fe5"/><stop offset=".494" stop-color="#01b8c9"/><stop offset=".518" stop-color="#26c2ad"/><stop offset=".547" stop-color="#39c994"/><stop offset=".601" stop-color="#39c994"/><stop offset=".642" stop-color="#2dc4a5"/><stop offset=".689" stop-color="#01bac5"/><stop offset=".731" stop-color="#1ca9e0"/><stop offset=".766" stop-color="#259de7"/><stop offset=".997" stop-color="#2f82fa"/></linearGradient>
<linearGradient id="g211" gradientUnits="userSpaceOnUse" x1="0" y1="0" x2="0" y2="169"><stop offset=".003" stop-color="#4434cf"/><stop offset=".027" stop-color="#4746ea"/><stop offset=".086" stop-color="#4853f5"/><stop offset=".192" stop-color="#3e6fff"/><stop offset=".299" stop-color="#2e84f9"/><stop offset=".328" stop-color="#249fe6"/><stop offset=".346" stop-color="#01b8c8"/><stop offset=".370" stop-color="#4acb85"/><stop offset=".388" stop-color="#7fcc5a"/><stop offset=".411" stop-color="#97ca47"/><stop offset=".429" stop-color="#8ccb50"/><stop offset=".459" stop-color="#3dc990"/><stop offset=".476" stop-color="#1cc0b4"/><stop offset=".494" stop-color="#02bac4"/><stop offset=".577" stop-color="#01b7ca"/><stop offset=".636" stop-color="#1fa6e2"/><stop offset=".754" stop-color="#2e86f8"/><stop offset=".891" stop-color="#3875fe"/><stop offset=".997" stop-color="#327cfc"/></linearGradient>
<linearGradient id="g212" gradientUnits="userSpaceOnUse" x1="0" y1="0" x2="0" y2="169"><stop offset=".003" stop-color="#4434ce"/><stop offset=".021" stop-color="#4332cb"/><stop offset=".068" stop-color="#4745e9"/><stop offset=".127" stop-color="#4759f9"/><stop offset=".299" stop-color="#2e86f8"/><stop offset=".334" stop-color="#1fa6e2"/><stop offset=".346" stop-color="#02b7cb"/><stop offset=".364" stop-color="#37c898"/><stop offset=".388" stop-color="#81cc58"/><stop offset=".399" stop-color="#95ca49"/><stop offset=".417" stop-color="#9fc942"/><stop offset=".441" stop-color="#84cc56"/><stop offset=".464" stop-color="#40ca8d"/><stop offset=".482" stop-color="#26c2ad"/><stop offset=".500" stop-color="#0cbdbc"/><stop offset=".518" stop-color="#04bbc1"/><stop offset=".553" stop-color="#02b7cb"/><stop offset=".607" stop-color="#20a4e3"/><stop offset=".713" stop-color="#2d8af5"/><stop offset=".997" stop-color="#3578fd"/></linearGradient>
<linearGradient id="g213" gradientUnits="userSpaceOnUse" x1="0" y1="0" x2="0" y2="169"><stop offset=".003" stop-color="#4434ce"/><stop offset=".109" stop-color="#4850f3"/><stop offset=".234" stop-color="#3e70ff"/><stop offset=".417" stop-color="#1aacdd"/><stop offset=".707" stop-color="#259be8"/><stop offset=".873" stop-color="#2f81fa"/><stop offset=".997" stop-color="#2c8ef1"/></linearGradient>
<linearGradient id="g214" gradientUnits="userSpaceOnUse" x1="0" y1="0" x2="0" y2="169"><stop offset=".003" stop-color="#4434ce"/><stop offset=".021" stop-color="#412dbc"/><stop offset=".092" stop-color="#4849ed"/><stop offset=".175" stop-color="#4563fd"/><stop offset=".293" stop-color="#2f81fa"/><stop offset=".464" stop-color="#249fe6"/><stop offset=".778" stop-color="#2e83f9"/><stop offset=".997" stop-color="#2e86f7"/></linearGradient>
<clipPath id="cp"><rect x="0" y="0" width="214.4" height="168.8"/></clipPath>
<g id="hm" clip-path="url(#cp)">
<rect x="-1" y="-1" width="2.6" height="171" fill="url(#g0)"/>
<rect x="1" y="-1" width="1.6" height="171" fill="url(#g1)"/>
<rect x="2" y="-1" width="1.6" height="171" fill="url(#g2)"/>
<rect x="3" y="-1" width="1.6" height="171" fill="url(#g3)"/>
<rect x="4" y="-1" width="1.6" height="171" fill="url(#g4)"/>
<rect x="5" y="-1" width="1.6" height="171" fill="url(#g5)"/>
<rect x="6" y="-1" width="1.6" height="171" fill="url(#g6)"/>
<rect x="7" y="-1" width="1.6" height="171" fill="url(#g7)"/>
<rect x="8" y="-1" width="1.6" height="171" fill="url(#g8)"/>
<rect x="9" y="-1" width="1.6" height="171" fill="url(#g9)"/>
<rect x="10" y="-1" width="1.6" height="171" fill="url(#g10)"/>
<rect x="11" y="-1" width="1.6" height="171" fill="url(#g11)"/>
<rect x="12" y="-1" width="1.6" height="171" fill="url(#g12)"/>
<rect x="13" y="-1" width="1.6" height="171" fill="url(#g13)"/>
<rect x="14" y="-1" width="1.6" height="171" fill="url(#g14)"/>
<rect x="15" y="-1" width="1.6" height="171" fill="url(#g15)"/>
<rect x="16" y="-1" width="1.6" height="171" fill="url(#g16)"/>
<rect x="17" y="-1" width="1.6" height="171" fill="url(#g17)"/>
<rect x="18" y="-1" width="1.6" height="171" fill="url(#g18)"/>
<rect x="19" y="-1" width="1.6" height="171" fill="url(#g19)"/>
<rect x="20" y="-1" width="1.6" height="171" fill="url(#g20)"/>
<rect x="21" y="-1" width="1.6" height="171" fill="url(#g21)"/>
<rect x="22" y="-1" width="1.6" height="171" fill="url(#g22)"/>
<rect x="23" y="-1" width="1.6" height="171" fill="url(#g23)"/>
<rect x="24" y="-1" width="1.6" height="171" fill="url(#g24)"/>
<rect x="25" y="-1" width="1.6" height="171" fill="url(#g25)"/>
<rect x="26" y="-1" width="1.6" height="171" fill="url(#g26)"/>
<rect x="27" y="-1" width="1.6" height="171" fill="url(#g27)"/>
<rect x="28" y="-1" width="1.6" height="171" fill="url(#g28)"/>
<rect x="29" y="-1" width="1.6" height="171" fill="url(#g29)"/>
<rect x="30" y="-1" width="1.6" height="171" fill="url(#g30)"/>
<rect x="31" y="-1" width="1.6" height="171" fill="url(#g31)"/>
<rect x="32" y="-1" width="1.6" height="171" fill="url(#g32)"/>
<rect x="33" y="-1" width="1.6" height="171" fill="url(#g33)"/>
<rect x="34" y="-1" width="1.6" height="171" fill="url(#g34)"/>
<rect x="35" y="-1" width="1.6" height="171" fill="url(#g35)"/>
<rect x="36" y="-1" width="1.6" height="171" fill="url(#g36)"/>
<rect x="37" y="-1" width="1.6" height="171" fill="url(#g37)"/>
<rect x="38" y="-1" width="1.6" height="171" fill="url(#g38)"/>
<rect x="39" y="-1" width="1.6" height="171" fill="url(#g39)"/>
<rect x="40" y="-1" width="1.6" height="171" fill="url(#g40)"/>
<rect x="41" y="-1" width="1.6" height="171" fill="url(#g41)"/>
<rect x="42" y="-1" width="1.6" height="171" fill="url(#g42)"/>
<rect x="43" y="-1" width="1.6" height="171" fill="url(#g43)"/>
<rect x="44" y="-1" width="1.6" height="171" fill="url(#g44)"/>
<rect x="45" y="-1" width="1.6" height="171" fill="url(#g45)"/>
<rect x="46" y="-1" width="1.6" height="171" fill="url(#g46)"/>
<rect x="47" y="-1" width="1.6" height="171" fill="url(#g47)"/>
<rect x="48" y="-1" width="1.6" height="171" fill="url(#g48)"/>
<rect x="49" y="-1" width="1.6" height="171" fill="url(#g49)"/>
<rect x="50" y="-1" width="1.6" height="171" fill="url(#g50)"/>
<rect x="51" y="-1" width="1.6" height="171" fill="url(#g51)"/>
<rect x="52" y="-1" width="1.6" height="171" fill="url(#g52)"/>
<rect x="53" y="-1" width="1.6" height="171" fill="url(#g53)"/>
<rect x="54" y="-1" width="1.6" height="171" fill="url(#g54)"/>
<rect x="55" y="-1" width="1.6" height="171" fill="url(#g55)"/>
<rect x="56" y="-1" width="1.6" height="171" fill="url(#g56)"/>
<rect x="57" y="-1" width="1.6" height="171" fill="url(#g57)"/>
<rect x="58" y="-1" width="1.6" height="171" fill="url(#g58)"/>
<rect x="59" y="-1" width="1.6" height="171" fill="url(#g59)"/>
<rect x="60" y="-1" width="1.6" height="171" fill="url(#g60)"/>
<rect x="61" y="-1" width="1.6" height="171" fill="url(#g61)"/>
<rect x="62" y="-1" width="1.6" height="171" fill="url(#g62)"/>
<rect x="63" y="-1" width="1.6" height="171" fill="url(#g63)"/>
<rect x="64" y="-1" width="1.6" height="171" fill="url(#g64)"/>
<rect x="65" y="-1" width="1.6" height="171" fill="url(#g65)"/>
<rect x="66" y="-1" width="1.6" height="171" fill="url(#g66)"/>
<rect x="67" y="-1" width="1.6" height="171" fill="url(#g67)"/>
<rect x="68" y="-1" width="1.6" height="171" fill="url(#g68)"/>
<rect x="69" y="-1" width="1.6" height="171" fill="url(#g69)"/>
<rect x="70" y="-1" width="1.6" height="171" fill="url(#g70)"/>
<rect x="71" y="-1" width="1.6" height="171" fill="url(#g71)"/>
<rect x="72" y="-1" width="1.6" height="171" fill="url(#g72)"/>
<rect x="73" y="-1" width="1.6" height="171" fill="url(#g73)"/>
<rect x="74" y="-1" width="1.6" height="171" fill="url(#g74)"/>
<rect x="75" y="-1" width="1.6" height="171" fill="url(#g75)"/>
<rect x="76" y="-1" width="1.6" height="171" fill="url(#g76)"/>
<rect x="77" y="-1" width="1.6" height="171" fill="url(#g77)"/>
<rect x="78" y="-1" width="1.6" height="171" fill="url(#g78)"/>
<rect x="79" y="-1" width="1.6" height="171" fill="url(#g79)"/>
<rect x="80" y="-1" width="1.6" height="171" fill="url(#g80)"/>
<rect x="81" y="-1" width="1.6" height="171" fill="url(#g81)"/>
<rect x="82" y="-1" width="1.6" height="171" fill="url(#g82)"/>
<rect x="83" y="-1" width="1.6" height="171" fill="url(#g83)"/>
<rect x="84" y="-1" width="1.6" height="171" fill="url(#g84)"/>
<rect x="85" y="-1" width="1.6" height="171" fill="url(#g85)"/>
<rect x="86" y="-1" width="1.6" height="171" fill="url(#g86)"/>
<rect x="87" y="-1" width="1.6" height="171" fill="url(#g87)"/>
<rect x="88" y="-1" width="1.6" height="171" fill="url(#g88)"/>
<rect x="89" y="-1" width="1.6" height="171" fill="url(#g89)"/>
<rect x="90" y="-1" width="1.6" height="171" fill="url(#g90)"/>
<rect x="91" y="-1" width="1.6" height="171" fill="url(#g91)"/>
<rect x="92" y="-1" width="1.6" height="171" fill="url(#g92)"/>
<rect x="93" y="-1" width="1.6" height="171" fill="url(#g93)"/>
<rect x="94" y="-1" width="1.6" height="171" fill="url(#g94)"/>
<rect x="95" y="-1" width="1.6" height="171" fill="url(#g95)"/>
<rect x="96" y="-1" width="1.6" height="171" fill="url(#g96)"/>
<rect x="97" y="-1" width="1.6" height="171" fill="url(#g97)"/>
<rect x="98" y="-1" width="1.6" height="171" fill="url(#g98)"/>
<rect x="99" y="-1" width="1.6" height="171" fill="url(#g99)"/>
<rect x="100" y="-1" width="1.6" height="171" fill="url(#g100)"/>
<rect x="101" y="-1" width="1.6" height="171" fill="url(#g101)"/>
<rect x="102" y="-1" width="1.6" height="171" fill="url(#g102)"/>
<rect x="103" y="-1" width="1.6" height="171" fill="url(#g103)"/>
<rect x="104" y="-1" width="1.6" height="171" fill="url(#g104)"/>
<rect x="105" y="-1" width="1.6" height="171" fill="url(#g105)"/>
<rect x="106" y="-1" width="1.6" height="171" fill="url(#g106)"/>
<rect x="107" y="-1" width="1.6" height="171" fill="url(#g107)"/>
<rect x="108" y="-1" width="1.6" height="171" fill="url(#g108)"/>
<rect x="109" y="-1" width="1.6" height="171" fill="url(#g109)"/>
<rect x="110" y="-1" width="1.6" height="171" fill="url(#g110)"/>
<rect x="111" y="-1" width="1.6" height="171" fill="url(#g111)"/>
<rect x="112" y="-1" width="1.6" height="171" fill="url(#g112)"/>
<rect x="113" y="-1" width="1.6" height="171" fill="url(#g113)"/>
<rect x="114" y="-1" width="1.6" height="171" fill="url(#g114)"/>
<rect x="115" y="-1" width="1.6" height="171" fill="url(#g115)"/>
<rect x="116" y="-1" width="1.6" height="171" fill="url(#g116)"/>
<rect x="117" y="-1" width="1.6" height="171" fill="url(#g117)"/>
<rect x="118" y="-1" width="1.6" height="171" fill="url(#g118)"/>
<rect x="119" y="-1" width="1.6" height="171" fill="url(#g119)"/>
<rect x="120" y="-1" width="1.6" height="171" fill="url(#g120)"/>
<rect x="121" y="-1" width="1.6" height="171" fill="url(#g121)"/>
<rect x="122" y="-1" width="1.6" height="171" fill="url(#g122)"/>
<rect x="123" y="-1" width="1.6" height="171" fill="url(#g123)"/>
<rect x="124" y="-1" width="1.6" height="171" fill="url(#g124)"/>
<rect x="125" y="-1" width="1.6" height="171" fill="url(#g125)"/>
<rect x="126" y="-1" width="1.6" height="171" fill="url(#g126)"/>
<rect x="127" y="-1" width="1.6" height="171" fill="url(#g127)"/>
<rect x="128" y="-1" width="1.6" height="171" fill="url(#g128)"/>
<rect x="129" y="-1" width="1.6" height="171" fill="url(#g129)"/>
<rect x="130" y="-1" width="1.6" height="171" fill="url(#g130)"/>
<rect x="131" y="-1" width="1.6" height="171" fill="url(#g131)"/>
<rect x="132" y="-1" width="1.6" height="171" fill="url(#g132)"/>
<rect x="133" y="-1" width="1.6" height="171" fill="url(#g133)"/>
<rect x="134" y="-1" width="1.6" height="171" fill="url(#g134)"/>
<rect x="135" y="-1" width="1.6" height="171" fill="url(#g135)"/>
<rect x="136" y="-1" width="1.6" height="171" fill="url(#g136)"/>
<rect x="137" y="-1" width="1.6" height="171" fill="url(#g137)"/>
<rect x="138" y="-1" width="1.6" height="171" fill="url(#g138)"/>
<rect x="139" y="-1" width="1.6" height="171" fill="url(#g139)"/>
<rect x="140" y="-1" width="1.6" height="171" fill="url(#g140)"/>
<rect x="141" y="-1" width="1.6" height="171" fill="url(#g141)"/>
<rect x="142" y="-1" width="1.6" height="171" fill="url(#g142)"/>
<rect x="143" y="-1" width="1.6" height="171" fill="url(#g143)"/>
<rect x="144" y="-1" width="1.6" height="171" fill="url(#g144)"/>
<rect x="145" y="-1" width="1.6" height="171" fill="url(#g145)"/>
<rect x="146" y="-1" width="1.6" height="171" fill="url(#g146)"/>
<rect x="147" y="-1" width="1.6" height="171" fill="url(#g147)"/>
<rect x="148" y="-1" width="1.6" height="171" fill="url(#g148)"/>
<rect x="149" y="-1" width="1.6" height="171" fill="url(#g149)"/>
<rect x="150" y="-1" width="1.6" height="171" fill="url(#g150)"/>
<rect x="151" y="-1" width="1.6" height="171" fill="url(#g151)"/>
<rect x="152" y="-1" width="1.6" height="171" fill="url(#g152)"/>
<rect x="153" y="-1" width="1.6" height="171" fill="url(#g153)"/>
<rect x="154" y="-1" width="1.6" height="171" fill="url(#g154)"/>
<rect x="155" y="-1" width="1.6" height="171" fill="url(#g155)"/>
<rect x="156" y="-1" width="1.6" height="171" fill="url(#g156)"/>
<rect x="157" y="-1" width="1.6" height="171" fill="url(#g157)"/>
<rect x="158" y="-1" width="1.6" height="171" fill="url(#g158)"/>
<rect x="159" y="-1" width="1.6" height="171" fill="url(#g159)"/>
<rect x="160" y="-1" width="1.6" height="171" fill="url(#g160)"/>
<rect x="161" y="-1" width="1.6" height="171" fill="url(#g161)"/>
<rect x="162" y="-1" width="1.6" height="171" fill="url(#g162)"/>
<rect x="163" y="-1" width="1.6" height="171" fill="url(#g163)"/>
<rect x="164" y="-1" width="1.6" height="171" fill="url(#g164)"/>
<rect x="165" y="-1" width="1.6" height="171" fill="url(#g165)"/>
<rect x="166" y="-1" width="1.6" height="171" fill="url(#g166)"/>
<rect x="167" y="-1" width="1.6" height="171" fill="url(#g167)"/>
<rect x="168" y="-1" width="1.6" height="171" fill="url(#g168)"/>
<rect x="169" y="-1" width="1.6" height="171" fill="url(#g169)"/>
<rect x="170" y="-1" width="1.6" height="171" fill="url(#g170)"/>
<rect x="171" y="-1" width="1.6" height="171" fill="url(#g171)"/>
<rect x="172" y="-1" width="1.6" height="171" fill="url(#g172)"/>
<rect x="173" y="-1" width="1.6" height="171" fill="url(#g173)"/>
<rect x="174" y="-1" width="1.6" height="171" fill="url(#g174)"/>
<rect x="175" y="-1" width="1.6" height="171" fill="url(#g175)"/>
<rect x="176" y="-1" width="1.6" height="171" fill="url(#g176)"/>
<rect x="177" y="-1" width="1.6" height="171" fill="url(#g177)"/>
<rect x="178" y="-1" width="1.6" height="171" fill="url(#g178)"/>
<rect x="179" y="-1" width="1.6" height="171" fill="url(#g179)"/>
<rect x="180" y="-1" width="1.6" height="171" fill="url(#g180)"/>
<rect x="181" y="-1" width="1.6" height="171" fill="url(#g181)"/>
<rect x="182" y="-1" width="1.6" height="171" fill="url(#g182)"/>
<rect x="183" y="-1" width="1.6" height="171" fill="url(#g183)"/>
<rect x="184" y="-1" width="1.6" height="171" fill="url(#g184)"/>
<rect x="185" y="-1" width="1.6" height="171" fill="url(#g185)"/>
<rect x="186" y="-1" width="1.6" height="171" fill="url(#g186)"/>
<rect x="187" y="-1" width="1.6" height="171" fill="url(#g187)"/>
<rect x="188" y="-1" width="1.6" height="171" fill="url(#g188)"/>
<rect x="189" y="-1" width="1.6" height="171" fill="url(#g189)"/>
<rect x="190" y="-1" width="1.6" height="171" fill="url(#g190)"/>
<rect x="191" y="-1" width="1.6" height="171" fill="url(#g191)"/>
<rect x="192" y="-1" width="1.6" height="171" fill="url(#g192)"/>
<rect x="193" y="-1" width="1.6" height="171" fill="url(#g193)"/>
<rect x="194" y="-1" width="1.6" height="171" fill="url(#g194)"/>
<rect x="195" y="-1" width="1.6" height="171" fill="url(#g195)"/>
<rect x="196" y="-1" width="1.6" height="171" fill="url(#g196)"/>
<rect x="197" y="-1" width="1.6" height="171" fill="url(#g197)"/>
<rect x="198" y="-1" width="1.6" height="171" fill="url(#g198)"/>
<rect x="199" y="-1" width="1.6" height="171" fill="url(#g199)"/>
<rect x="200" y="-1" width="1.6" height="171" fill="url(#g200)"/>
<rect x="201" y="-1" width="1.6" height="171" fill="url(#g201)"/>
<rect x="202" y="-1" width="1.6" height="171" fill="url(#g202)"/>
<rect x="203" y="-1" width="1.6" height="171" fill="url(#g203)"/>
<rect x="204" y="-1" width="1.6" height="171" fill="url(#g204)"/>
<rect x="205" y="-1" width="1.6" height="171" fill="url(#g205)"/>
<rect x="206" y="-1" width="1.6" height="171" fill="url(#g206)"/>
<rect x="207" y="-1" width="1.6" height="171" fill="url(#g207)"/>
<rect x="208" y="-1" width="1.6" height="171" fill="url(#g208)"/>
<rect x="209" y="-1" width="1.6" height="171" fill="url(#g209)"/>
<rect x="210" y="-1" width="1.6" height="171" fill="url(#g210)"/>
<rect x="211" y="-1" width="1.6" height="171" fill="url(#g211)"/>
<rect x="212" y="-1" width="1.6" height="171" fill="url(#g212)"/>
<rect x="213" y="-1" width="1.6" height="171" fill="url(#g213)"/>
<rect x="214" y="-1" width="2" height="171" fill="url(#g214)"/>
</g>
</defs>
<rect width="550" height="455" fill="#fff"/>
<use href="#hm" x="29.3" y="10.8"/>
<g transform="translate(29.3,10.8)">
<text class="t" transform="translate(-2.0,157.65) rotate(0.4)" text-anchor="end">100</text>
<text class="t" transform="translate(-2.0,142.35) rotate(0.4)" text-anchor="end">150</text>
<text class="t" transform="translate(-2.0,127.05) rotate(0.4)" text-anchor="end">200</text>
<text class="t" transform="translate(-2.0,111.75) rotate(0.4)" text-anchor="end">250</text>
<text class="t" transform="translate(-2.0,96.45) rotate(0.4)" text-anchor="end">300</text>
<text class="t" transform="translate(-2.0,81.15) rotate(0.4)" text-anchor="end">350</text>
<text class="t" transform="translate(-2.0,65.85) rotate(0.4)" text-anchor="end">400</text>
<text class="t" transform="translate(-2.0,50.55) rotate(0.4)" text-anchor="end">450</text>
<text class="t" transform="translate(-2.0,35.25) rotate(0.4)" text-anchor="end">500</text>
<text class="t" transform="translate(-2.0,19.95) rotate(0.4)" text-anchor="end">550</text>
<text class="t" transform="translate(-2.0,4.65) rotate(0.4)" text-anchor="end">600</text>
<text class="t" transform="translate(22.70,176.85) rotate(0.4)" text-anchor="middle">100</text>
<text class="t" transform="translate(45.60,176.85) rotate(0.4)" text-anchor="middle">200</text>
<text class="t" transform="translate(68.50,176.85) rotate(0.4)" text-anchor="middle">300</text>
<text class="t" transform="translate(91.40,176.85) rotate(0.4)" text-anchor="middle">400</text>
<text class="t" transform="translate(114.30,176.85) rotate(0.4)" text-anchor="middle">500</text>
<text class="t" transform="translate(137.20,176.85) rotate(0.4)" text-anchor="middle">600</text>
<text class="t" transform="translate(160.10,176.85) rotate(0.4)" text-anchor="middle">700</text>
<text class="t" transform="translate(183.00,176.85) rotate(0.4)" text-anchor="middle">800</text>
<text class="t" transform="translate(205.90,176.85) rotate(0.4)" text-anchor="middle">900</text>
<text class="l" transform="translate(107.2,185.0) rotate(0.3)" text-anchor="middle">Distance (m)</text>
<text class="l" transform="translate(-15.6,84.2) rotate(-89.7)" text-anchor="middle">Frequency (MHz)</text>
</g>
<use href="#hm" x="327.6" y="10.8"/>
<g transform="translate(327.6,10.8)">
<text class="t" transform="translate(-2.0,157.65) rotate(0.4)" text-anchor="end">100</text>
<text class="t" transform="translate(-2.0,142.35) rotate(0.4)" text-anchor="end">150</text>
<text class="t" transform="translate(-2.0,127.05) rotate(0.4)" text-anchor="end">200</text>
<text class="t" transform="translate(-2.0,111.75) rotate(0.4)" text-anchor="end">250</text>
<text class="t" transform="translate(-2.0,96.45) rotate(0.4)" text-anchor="end">300</text>
<text class="t" transform="translate(-2.0,81.15) rotate(0.4)" text-anchor="end">350</text>
<text class="t" transform="translate(-2.0,65.85) rotate(0.4)" text-anchor="end">400</text>
<text class="t" transform="translate(-2.0,50.55) rotate(0.4)" text-anchor="end">450</text>
<text class="t" transform="translate(-2.0,35.25) rotate(0.4)" text-anchor="end">500</text>
<text class="t" transform="translate(-2.0,19.95) rotate(0.4)" text-anchor="end">550</text>
<text class="t" transform="translate(-2.0,4.65) rotate(0.4)" text-anchor="end">600</text>
<text class="t" transform="translate(22.70,176.85) rotate(0.4)" text-anchor="middle">100</text>
<text class="t" transform="translate(45.60,176.85) rotate(0.4)" text-anchor="middle">200</text>
<text class="t" transform="translate(68.50,176.85) rotate(0.4)" text-anchor="middle">300</text>
<text class="t" transform="translate(91.40,176.85) rotate(0.4)" text-anchor="middle">400</text>
<text class="t" transform="translate(114.30,176.85) rotate(0.4)" text-anchor="middle">500</text>
<text class="t" transform="translate(137.20,176.85) rotate(0.4)" text-anchor="middle">600</text>
<text class="t" transform="translate(160.10,176.85) rotate(0.4)" text-anchor="middle">700</text>
<text class="t" transform="translate(183.00,176.85) rotate(0.4)" text-anchor="middle">800</text>
<text class="t" transform="translate(205.90,176.85) rotate(0.4)" text-anchor="middle">900</text>
<text class="l" transform="translate(107.2,185.0) rotate(0.3)" text-anchor="middle">Distance (m)</text>
<text class="l" transform="translate(-15.6,84.2) rotate(-89.7)" text-anchor="middle">Frequency (MHz)</text>
</g>
<use href="#hm" x="29.1" y="240.2"/>
<g transform="translate(29.1,240.5)">
<text class="t" transform="translate(-2.0,157.65) rotate(0.4)" text-anchor="end">100</text>
<text class="t" transform="translate(-2.0,142.35) rotate(0.4)" text-anchor="end">150</text>
<text class="t" transform="translate(-2.0,127.05) rotate(0.4)" text-anchor="end">200</text>
<text class="t" transform="translate(-2.0,111.75) rotate(0.4)" text-anchor="end">250</text>
<text class="t" transform="translate(-2.0,96.45) rotate(0.4)" text-anchor="end">300</text>
<text class="t" transform="translate(-2.0,81.15) rotate(0.4)" text-anchor="end">350</text>
<text class="t" transform="translate(-2.0,65.85) rotate(0.4)" text-anchor="end">400</text>
<text class="t" transform="translate(-2.0,50.55) rotate(0.4)" text-anchor="end">450</text>
<text class="t" transform="translate(-2.0,35.25) rotate(0.4)" text-anchor="end">500</text>
<text class="t" transform="translate(-2.0,19.95) rotate(0.4)" text-anchor="end">550</text>
<text class="t" transform="translate(-2.0,4.65) rotate(0.4)" text-anchor="end">600</text>
<text class="t" transform="translate(22.70,176.85) rotate(0.4)" text-anchor="middle">100</text>
<text class="t" transform="translate(45.60,176.85) rotate(0.4)" text-anchor="middle">200</text>
<text class="t" transform="translate(68.50,176.85) rotate(0.4)" text-anchor="middle">300</text>
<text class="t" transform="translate(91.40,176.85) rotate(0.4)" text-anchor="middle">400</text>
<text class="t" transform="translate(114.30,176.85) rotate(0.4)" text-anchor="middle">500</text>
<text class="t" transform="translate(137.20,176.85) rotate(0.4)" text-anchor="middle">600</text>
<text class="t" transform="translate(160.10,176.85) rotate(0.4)" text-anchor="middle">700</text>
<text class="t" transform="translate(183.00,176.85) rotate(0.4)" text-anchor="middle">800</text>
<text class="t" transform="translate(205.90,176.85) rotate(0.4)" text-anchor="middle">900</text>
<text class="l" transform="translate(107.2,185.0) rotate(0.3)" text-anchor="middle">Distance (m)</text>
<text class="l" transform="translate(-15.6,84.2) rotate(-89.7)" text-anchor="middle">Frequency (MHz)</text>
</g>
<text class="c" x="125.1" y="218.1" textLength="13.2" lengthAdjust="spacingAndGlyphs">(<tspan>g</tspan>)</text>
<text class="c" x="423.1" y="218.1" textLength="14.0" lengthAdjust="spacingAndGlyphs">(<tspan>h</tspan>)</text>
<text class="c" x="126.6" y="447.3" textLength="10.7" lengthAdjust="spacingAndGlyphs">(<tspan>i</tspan>)</text>
</svg></body></html>
